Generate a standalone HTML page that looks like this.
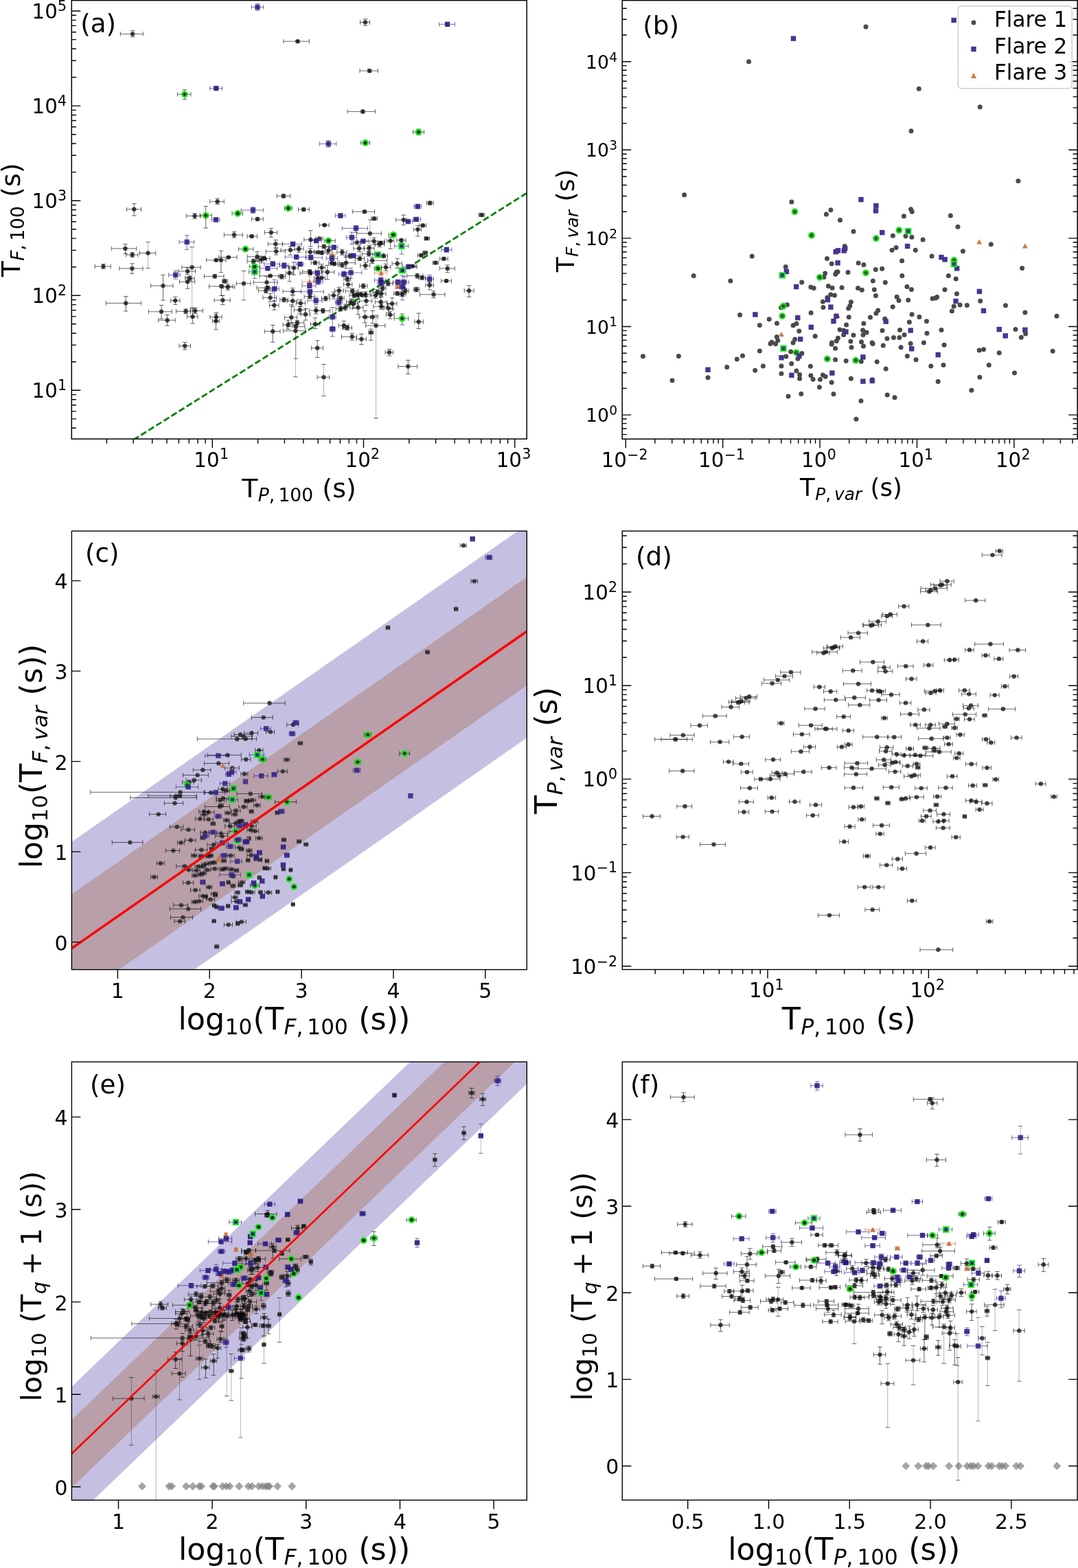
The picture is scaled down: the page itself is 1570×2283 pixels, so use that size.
<!DOCTYPE html>
<html lang="en"><head><meta charset="utf-8"><title>Flare timescale correlations</title>
<style>html,body{margin:0;padding:0;background:#fff}body{width:1570px;height:2283px;overflow:hidden}svg{display:block}text{font-family:'DejaVu Sans', 'Liberation Sans', sans-serif;fill:#000}</style>
</head><body>
<svg width="1570" height="2283" viewBox="0 0 1570 2283" role="img" aria-label="Six scatter panels of flare timescales">
<rect width="1570" height="2283" fill="#fff"/>
<defs><clipPath id="cpa"><rect x="104.3" y="0.6" width="662.9" height="638.5"/></clipPath><clipPath id="cpb"><rect x="906.2" y="0.6" width="663" height="638.6"/></clipPath><clipPath id="cpc"><rect x="104.4" y="773.2" width="662.9" height="638.5"/></clipPath><clipPath id="cpd"><rect x="906.3" y="773.2" width="662.8" height="638.4"/></clipPath><clipPath id="cpe"><rect x="104.4" y="1546.1" width="662.9" height="638.1"/></clipPath><clipPath id="cpf"><rect x="906.3" y="1546.1" width="662.8" height="638"/></clipPath></defs>
<g clip-path="url(#cpc)"><polygon points="104.4,1225.8 767.3,764 767.3,1074.3 104.4,1536.1" fill="#c5c0e1"/>
<polygon points="104.4,1302 767.3,840.3 767.3,998.1 104.4,1459.8" fill="#b89fa9"/></g>
<g clip-path="url(#cpe)"><polygon points="104.4,2019 767.3,1382.8 767.3,1578 104.4,2214.2" fill="#c5c0e1"/>
<polygon points="104.4,2067.2 767.3,1431 767.3,1529.8 104.4,2166" fill="#b89fa9"/></g>
<g clip-path="url(#cpa)"><line x1="194.2" y1="640.5" x2="793.7" y2="264.5" stroke="#008000" stroke-width="2.8" stroke-dasharray="9.1 3.98"/></g>
<g clip-path="url(#cpa)"><g fill="#383838" fill-opacity="0.9"><circle cx="193.1" cy="49.4" r="3.2"/><circle cx="433.5" cy="60.2" r="3.2"/><circle cx="268.9" cy="137.3" r="2.9"/><circle cx="412.9" cy="285.4" r="3.2"/><circle cx="316.6" cy="293.4" r="3.2"/><circle cx="195.3" cy="304.7" r="3.2"/><circle cx="419.9" cy="303.2" r="2.9"/><circle cx="346.2" cy="310.8" r="2.9"/><circle cx="299.7" cy="313.8" r="2.9"/><circle cx="283.6" cy="314.4" r="3.2"/><circle cx="375" cy="319" r="3.2"/><circle cx="532" cy="32.5" r="3.2"/><circle cx="538.1" cy="103.1" r="3.2"/><circle cx="528.4" cy="162.4" r="3.2"/><circle cx="609.6" cy="192.3" r="2.9"/><circle cx="532" cy="207.9" r="2.9"/><circle cx="626.2" cy="295.6" r="3.2"/><circle cx="442.2" cy="304.9" r="3.2"/><circle cx="531" cy="308.2" r="3.2"/><circle cx="701.4" cy="312.9" r="3.2"/><circle cx="545" cy="318.3" r="3.2"/><circle cx="587.7" cy="320.1" r="3.2"/><circle cx="182.5" cy="361.9" r="3.2"/><circle cx="192.7" cy="371" r="3.2"/><circle cx="215.6" cy="368.5" r="3.2"/><circle cx="150.5" cy="387.9" r="3.2"/><circle cx="192.4" cy="390.9" r="3.2"/><circle cx="341" cy="342" r="3.2"/><circle cx="332.7" cy="374.6" r="3.2"/><circle cx="314.8" cy="378.8" r="3.2"/><circle cx="321.9" cy="378.8" r="3.2"/><circle cx="279.7" cy="389.2" r="3.2"/><circle cx="273.1" cy="394.9" r="3.2"/><circle cx="276.4" cy="405.3" r="3.2"/><circle cx="273.1" cy="410.3" r="3.2"/><circle cx="237.5" cy="416.1" r="3.2"/><circle cx="312.8" cy="402.3" r="3.2"/><circle cx="327.2" cy="409.4" r="3.2"/><circle cx="322.4" cy="416.9" r="3.2"/><circle cx="331.8" cy="418" r="3.2"/><circle cx="355" cy="412.7" r="3.2"/><circle cx="255.3" cy="437.6" r="3.2"/><circle cx="183.3" cy="441.4" r="3.2"/><circle cx="324.4" cy="437.1" r="3.2"/><circle cx="235" cy="453.8" r="3.2"/><circle cx="270.6" cy="453.3" r="3.2"/><circle cx="284.2" cy="452.5" r="3.2"/><circle cx="280.5" cy="461.1" r="3.2"/><circle cx="243.6" cy="466.2" r="3.2"/><circle cx="315" cy="461.6" r="3.2"/><circle cx="314.5" cy="467.4" r="3.2"/><circle cx="472.6" cy="327.8" r="3.2"/><circle cx="615.9" cy="328.3" r="3.2"/><circle cx="608.4" cy="334.1" r="3.2"/><circle cx="394.8" cy="338.5" r="3.2"/><circle cx="538.9" cy="339.9" r="3.2"/><circle cx="572.8" cy="341.9" r="2.9"/><circle cx="366.6" cy="344" r="3.2"/><circle cx="452.4" cy="349" r="3.2"/><circle cx="465.2" cy="347.3" r="3.2"/><circle cx="478.4" cy="350.6" r="2.9"/><circle cx="568.7" cy="350.6" r="3.2"/><circle cx="584.4" cy="349.8" r="3.2"/><circle cx="519.8" cy="353.1" r="3.2"/><circle cx="544.6" cy="351.1" r="3.2"/><circle cx="554.6" cy="353.9" r="3.2"/><circle cx="552.9" cy="355.6" r="3.2"/><circle cx="401.4" cy="355.3" r="3.2"/><circle cx="471.8" cy="358.9" r="3.2"/><circle cx="523.1" cy="361.7" r="3.2"/><circle cx="537.5" cy="361.4" r="3.2"/><circle cx="357.5" cy="362.7" r="2.9"/><circle cx="435.3" cy="362.2" r="3.2"/><circle cx="422.9" cy="363.9" r="3.2"/><circle cx="402.2" cy="366" r="3.2"/><circle cx="451.9" cy="366.9" r="3.2"/><circle cx="463.5" cy="367.2" r="3.2"/><circle cx="468.5" cy="368" r="3.2"/><circle cx="478.4" cy="364.7" r="3.2"/><circle cx="498.3" cy="367.2" r="3.2"/><circle cx="537.2" cy="369.7" r="3.2"/><circle cx="558.7" cy="372.7" r="3.2"/><circle cx="613.4" cy="371.7" r="3.2"/><circle cx="619.2" cy="368" r="3.2"/><circle cx="509.9" cy="372.7" r="3.2"/><circle cx="374.6" cy="373.8" r="3.2"/><circle cx="523.9" cy="376.6" r="3.2"/><circle cx="380.7" cy="378" r="3.2"/><circle cx="384.8" cy="376.3" r="3.2"/><circle cx="542.2" cy="379.3" r="3.2"/><circle cx="369.1" cy="380.4" r="3.2"/><circle cx="459" cy="382.6" r="3.2"/><circle cx="504.1" cy="382.6" r="3.2"/><circle cx="486.7" cy="384.3" r="3.2"/><circle cx="483.4" cy="382.9" r="3.2"/><circle cx="578.6" cy="383.8" r="3.2"/><circle cx="498.3" cy="385.9" r="3.2"/><circle cx="532.2" cy="386.7" r="3.2"/><circle cx="370.8" cy="388.2" r="2.9"/><circle cx="601" cy="387.6" r="3.2"/><circle cx="468.5" cy="389.6" r="3.2"/><circle cx="427.9" cy="390.1" r="3.2"/><circle cx="562" cy="389.2" r="3.2"/><circle cx="550.4" cy="390.9" r="2.9"/><circle cx="451.1" cy="395.3" r="3.2"/><circle cx="451.9" cy="397.8" r="3.2"/><circle cx="476.8" cy="396.2" r="3.2"/><circle cx="421.6" cy="397.5" r="3.2"/><circle cx="393.6" cy="401.6" r="3.2"/><circle cx="607.6" cy="401.6" r="3.2"/><circle cx="410.5" cy="402.8" r="3.2"/><circle cx="614.7" cy="404.5" r="3.2"/><circle cx="505.7" cy="406.1" r="3.2"/><circle cx="462.7" cy="405.3" r="3.2"/><circle cx="468.5" cy="404.5" r="3.2"/><circle cx="388.5" cy="411.1" r="3.2"/><circle cx="565.3" cy="412.7" r="3.2"/><circle cx="507.1" cy="414.1" r="3.2"/><circle cx="529.2" cy="416.5" r="3.2"/><circle cx="389.8" cy="419" r="3.2"/><circle cx="557.1" cy="419.4" r="3.2"/><circle cx="606.4" cy="421.5" r="3.2"/><circle cx="387.3" cy="423.2" r="3.2"/><circle cx="493.8" cy="423.2" r="3.2"/><circle cx="513.2" cy="423.8" r="3.2"/><circle cx="426.2" cy="424.3" r="3.2"/><circle cx="549.6" cy="425.2" r="3.2"/><circle cx="590.2" cy="423.5" r="3.2"/><circle cx="578.6" cy="427.3" r="3.2"/><circle cx="525.6" cy="428.5" r="3.2"/><circle cx="532.2" cy="428.8" r="3.2"/><circle cx="520.6" cy="429.3" r="3.2"/><circle cx="515.7" cy="430.1" r="3.2"/><circle cx="547.1" cy="430.1" r="3.2"/><circle cx="555.4" cy="427.6" r="3.2"/><circle cx="586" cy="428.5" r="3.2"/><circle cx="485.9" cy="430.1" r="3.2"/><circle cx="451.4" cy="431.8" r="3.2"/><circle cx="393.6" cy="433.4" r="3.2"/><circle cx="474.3" cy="434.6" r="3.2"/><circle cx="496.1" cy="434.3" r="3.2"/><circle cx="413.5" cy="436.4" r="3.2"/><circle cx="426.2" cy="438.1" r="3.2"/><circle cx="533.4" cy="438.1" r="3.2"/><circle cx="511.2" cy="439.6" r="3.2"/><circle cx="514.8" cy="442.5" r="3.2"/><circle cx="554.6" cy="439.6" r="3.2"/><circle cx="437.8" cy="441.4" r="3.2"/><circle cx="571.1" cy="442.1" r="3.2"/><circle cx="399.4" cy="444.5" r="3.2"/><circle cx="555.4" cy="446.2" r="3.2"/><circle cx="521.5" cy="447.8" r="3.2"/><circle cx="503.2" cy="447.2" r="3.2"/><circle cx="495.8" cy="449.7" r="3.2"/><circle cx="565.7" cy="448.7" r="3.2"/><circle cx="436.7" cy="451.3" r="3.2"/><circle cx="460.2" cy="452" r="3.2"/><circle cx="470.5" cy="452.5" r="3.2"/><circle cx="445" cy="457.8" r="3.2"/><circle cx="568.3" cy="458.3" r="3.2"/><circle cx="424.3" cy="462.1" r="3.2"/><circle cx="531.4" cy="461.6" r="3.2"/><circle cx="542.7" cy="461.6" r="3.2"/><circle cx="585.7" cy="463.7" r="2.9"/><circle cx="609.7" cy="468.5" r="3.2"/><circle cx="432.9" cy="469.9" r="3.2"/><circle cx="459" cy="472" r="3.2"/><circle cx="419.6" cy="472.9" r="3.2"/><circle cx="500.8" cy="474" r="3.2"/><circle cx="547.6" cy="474" r="3.2"/><circle cx="430.9" cy="475.7" r="3.2"/><circle cx="505.7" cy="477.3" r="3.2"/><circle cx="621.3" cy="347.3" r="3.2"/><circle cx="646.4" cy="376.8" r="3.2"/><circle cx="634.3" cy="382.6" r="3.2"/><circle cx="651.7" cy="390.9" r="3.2"/><circle cx="650" cy="408.9" r="3.2"/><circle cx="625.7" cy="415.2" r="3.2"/><circle cx="683.1" cy="423.2" r="3.2"/><circle cx="631.5" cy="428.8" r="3.2"/><circle cx="269.2" cy="503.7" r="3.2"/><circle cx="397.3" cy="482.5" r="3.2"/><circle cx="430.4" cy="481.7" r="3.2"/><circle cx="512.7" cy="490.3" r="3.2"/><circle cx="526.4" cy="493.7" r="3.2"/><circle cx="540.2" cy="484.1" r="3.2"/><circle cx="462.2" cy="506.8" r="3.2"/><circle cx="567" cy="513.1" r="3.2"/><circle cx="594.3" cy="533.5" r="3.2"/><circle cx="471.5" cy="549.2" r="3.2"/></g><path d="M175.4 49.4H208.3M175.4 46.1v6.6M208.3 46.1v6.6M193.1 44.6V53.7M189.8 44.6h6.6M189.8 53.7h6.6M412.9 60.2H450.4M412.9 56.9v6.6M450.4 56.9v6.6M433.5 58.5V61.9M430.2 58.5h6.6M430.2 61.9h6.6M258.5 137.3H278M258.5 134v6.6M278 134v6.6M268.9 130.8V144.4M265.6 130.8h6.6M265.6 144.4h6.6M403.2 285.4H422.7M403.2 282.1v6.6M422.7 282.1v6.6M412.9 282.8V288M409.6 282.8h6.6M409.6 288h6.6M305.7 293.4H326.3M305.7 290.1v6.6M326.3 290.1v6.6M316.6 289.1V297.3M313.3 289.1h6.6M313.3 297.3h6.6M184.5 304.7H205.5M184.5 301.4v6.6M205.5 301.4v6.6M195.3 296.5V314M192 296.5h6.6M192 314h6.6M414.4 303.2H425.3M414.4 299.9v6.6M425.3 299.9v6.6M419.9 301.5V304.9M416.6 301.5h6.6M416.6 304.9h6.6M338 310.8H353.4M338 307.5v6.6M353.4 307.5v6.6M346.2 308.6V312.9M342.9 308.6h6.6M342.9 312.9h6.6M291 313.8H308.3M291 310.5v6.6M308.3 310.5v6.6M299.7 300.4V332M296.4 300.4h6.6M296.4 332h6.6M271.3 314.4H292.3M271.3 311.1v6.6M292.3 311.1v6.6M283.6 310.6V318.3M280.3 310.6h6.6M280.3 318.3h6.6M366.4 319H383.3M366.4 315.7v6.6M383.3 315.7v6.6M375 316.8V321.2M371.7 316.8h6.6M371.7 321.2h6.6M524.5 32.5H538.5M524.5 29.2v6.6M538.5 29.2v6.6M532 27.7V37.2M528.7 27.7h6.6M528.7 37.2h6.6M524 103.1H550.4M524 99.8v6.6M550.4 99.8v6.6M538.1 100.9V105.2M534.8 100.9h6.6M534.8 105.2h6.6M506.1 162.4H546.5M506.1 159.1v6.6M546.5 159.1v6.6M528.4 160.3V164.6M525.1 160.3h6.6M525.1 164.6h6.6M601.6 192.3H617.6M601.6 189v6.6M617.6 189v6.6M609.6 188V196.6M606.3 188h6.6M606.3 196.6h6.6M525.1 207.9H538.5M525.1 204.6v6.6M538.5 204.6v6.6M532 204.7V211.1M528.7 204.7h6.6M528.7 211.1h6.6M621.3 295.6H631.2M621.3 292.3v6.6M631.2 292.3v6.6M626.2 293V298.2M622.9 293h6.6M622.9 298.2h6.6M434.6 304.9H450.4M434.6 301.6v6.6M450.4 301.6v6.6M442.2 302.8V307.1M438.9 302.8h6.6M438.9 307.1h6.6M513.6 308.2H545.5M513.6 304.9v6.6M545.5 304.9v6.6M531 306.4V309.9M527.7 306.4h6.6M527.7 309.9h6.6M697.5 312.9H705.3M697.5 309.6v6.6M705.3 309.6v6.6M701.4 310.8V315.1M698.1 310.8h6.6M698.1 315.1h6.6M540.7 318.3H549.4M540.7 315v6.6M549.4 315v6.6M545 316.2V320.5M541.7 316.2h6.6M541.7 320.5h6.6M576.4 320.1H591.6M576.4 316.8v6.6M591.6 316.8v6.6M587.7 313.1V327.7M584.4 313.1h6.6M584.4 327.7h6.6M162.6 361.9H198.7M162.6 358.6v6.6M198.7 358.6v6.6M182.5 355.6V369.4M179.2 355.6h6.6M179.2 369.4h6.6M183.6 371H201M183.6 367.7v6.6M201 367.7v6.6M192.7 367.7V374.3M189.4 367.7h6.6M189.4 374.3h6.6M203.5 368.5H226.7M203.5 365.2v6.6M226.7 365.2v6.6M212.3 352.3h6.6M212.3 390.5h6.6M138.1 387.9H161.3M138.1 384.6v6.6M161.3 384.6v6.6M150.5 384.6V391.2M147.2 384.6h6.6M147.2 391.2h6.6M173.9 390.9H208.1M173.9 387.6v6.6M208.1 387.6v6.6M192.4 383.8V398.3M189.1 383.8h6.6M189.1 398.3h6.6M326.4 342H353.4M326.4 338.7v6.6M353.4 338.7v6.6M341 337.4V346.2M337.7 337.4h6.6M337.7 346.2h6.6M318.6 374.6H345.1M318.6 371.3v6.6M345.1 371.3v6.6M332.7 373.3V376M329.4 373.3h6.6M329.4 376h6.6M300.7 378.8H328.9M300.7 375.5v6.6M328.9 375.5v6.6M314.8 377.5V380.1M311.5 377.5h6.6M311.5 380.1h6.6M321.9 365.2V396.7M318.6 365.2h6.6M318.6 396.7h6.6M264.8 389.2H292.1M264.8 385.9v6.6M292.1 385.9v6.6M276.4 359.7h6.6M276.4 448.3h6.6M259.8 394.9H284.6M259.8 391.6v6.6M284.6 391.6v6.6M273.1 389.9V399.8M269.8 389.9h6.6M269.8 399.8h6.6M269.7 405.3H283M269.7 402v6.6M283 402v6.6M276.4 402V408.6M273.1 402h6.6M273.1 408.6h6.6M261.5 410.3H283.8M261.5 407v6.6M283.8 407v6.6M273.1 403.6V420.2M269.8 403.6h6.6M269.8 420.2h6.6M219.6 416.1H252M219.6 412.8v6.6M252 412.8v6.6M237.5 400.3V437.2M234.2 400.3h6.6M234.2 437.2h6.6M297.4 402.3H326M297.4 399v6.6M326 399v6.6M312.8 399.8V404.8M309.5 399.8h6.6M309.5 404.8h6.6M323.9 409.4H331.3M323.9 406.1v6.6M331.3 406.1v6.6M327.2 406.9V411.9M323.9 406.9h6.6M323.9 411.9h6.6M304.5 416.9H339M304.5 413.6v6.6M339 413.6v6.6M322.4 414.4V430.1M319.1 414.4h6.6M319.1 430.1h6.6M325.2 418H341.8M325.2 414.7v6.6M341.8 414.7v6.6M331.8 413.9V422.2M328.5 413.9h6.6M328.5 422.2h6.6M344.3 412.7H365M344.3 409.4v6.6M365 409.4v6.6M351.7 394.5h6.6M351.7 436.8h6.6M248.7 437.6H262M248.7 434.3v6.6M262 434.3v6.6M255.3 432.3V443.4M252 432.3h6.6M252 443.4h6.6M154.3 441.4H205.7M154.3 438.1v6.6M205.7 438.1v6.6M183.3 431.5V453M180 431.5h6.6M180 453h6.6M312 437.1H335.2M312 433.8v6.6M335.2 433.8v6.6M324.4 430.5V443.7M321.1 430.5h6.6M321.1 443.7h6.6M216.4 453.8H250.4M216.4 450.5v6.6M250.4 450.5v6.6M235 444.4V464.1M231.7 444.4h6.6M231.7 464.1h6.6M256.5 453.3H277.2M256.5 450v6.6M277.2 450v6.6M270.6 450V456.6M267.3 450h6.6M267.3 456.6h6.6M277.5 452.5H295.4M277.5 449.2v6.6M295.4 449.2v6.6M284.2 448.3V456.6M280.9 448.3h6.6M280.9 456.6h6.6M272.6 461.1H288M272.6 457.8v6.6M288 457.8v6.6M280.5 448.7V471M277.2 448.7h6.6M277.2 471h6.6M230.7 466.2H255.2M230.7 462.9v6.6M255.2 462.9v6.6M243.6 458.4V474.2M240.3 458.4h6.6M240.3 474.2h6.6M305.8 461.6H323.2M305.8 458.3v6.6M323.2 458.3v6.6M315 455V467.4M311.7 455h6.6M311.7 467.4h6.6M309.5 467.4H319.4M309.5 464.1v6.6M319.4 464.1v6.6M314.5 457.5V479.8M311.2 457.5h6.6M311.2 479.8h6.6M465.2 327.8H479.2M465.2 324.5v6.6M479.2 324.5v6.6M472.6 326.5V329.1M469.3 326.5h6.6M469.3 329.1h6.6M610.9 328.3H620.8M610.9 325v6.6M620.8 325v6.6M615.9 326.6V329.9M612.6 326.6h6.6M612.6 329.9h6.6M602.6 334.1H613.4M602.6 330.8v6.6M613.4 330.8v6.6M608.4 328.3V344M605.1 328.3h6.6M605.1 344h6.6M385.3 338.5H403.6M385.3 335.2v6.6M403.6 335.2v6.6M394.8 332.4V345.2M391.5 332.4h6.6M391.5 345.2h6.6M519 339.9H555.4M519 336.6v6.6M555.4 336.6v6.6M535.6 320h6.6M535.6 359.7h6.6M566.2 341.9H576.9M566.2 338.6v6.6M576.9 338.6v6.6M572.8 340.5V343.2M569.5 340.5h6.6M569.5 343.2h6.6M360 344H374.6M360 340.7v6.6M374.6 340.7v6.6M366.6 342.7V345.3M363.3 342.7h6.6M363.3 345.3h6.6M442.8 349H460.7M442.8 345.7v6.6M460.7 345.7v6.6M452.4 335.7V358.9M449.1 335.7h6.6M449.1 358.9h6.6M460.2 347.3H470.1M460.2 344v6.6M470.1 344v6.6M472.6 350.6H488.3M472.6 347.3v6.6M488.3 347.3v6.6M478.4 349.3V352M475.1 349.3h6.6M475.1 352h6.6M563.7 350.6H573.6M563.7 347.3v6.6M573.6 347.3v6.6M568.7 345.7V362.2M565.4 345.7h6.6M565.4 362.2h6.6M577.8 349.8H591M577.8 346.5v6.6M591 346.5v6.6M584.4 348.2V351.5M581.1 348.2h6.6M581.1 351.5h6.6M514.8 353.1H524.8M514.8 349.8v6.6M524.8 349.8v6.6M529.7 351.1H560.4M529.7 347.8v6.6M560.4 347.8v6.6M544.6 346.2V356.1M541.3 346.2h6.6M541.3 356.1h6.6M549.6 353.9H559.6M549.6 350.6v6.6M559.6 350.6v6.6M554.6 352.3V355.6M551.3 352.3h6.6M551.3 355.6h6.6M546.3 355.6H559.6M546.3 352.3v6.6M559.6 352.3v6.6M552.9 351.5V359.7M549.6 351.5h6.6M549.6 359.7h6.6M390.3 355.3H411.3M390.3 352v6.6M411.3 352v6.6M401.4 349.5V361.1M398.1 349.5h6.6M398.1 361.1h6.6M463.5 358.9H479.2M463.5 355.6v6.6M479.2 355.6v6.6M471.8 356.4V361.4M468.5 356.4h6.6M468.5 361.4h6.6M514.8 361.7H530.6M514.8 358.4v6.6M530.6 358.4v6.6M523.1 356.8V366.7M519.8 356.8h6.6M519.8 366.7h6.6M530.1 361.4H545M530.1 358.1v6.6M545 358.1v6.6M537.5 357.3V365.5M534.2 357.3h6.6M534.2 365.5h6.6M347.6 362.7H369.1M347.6 359.4v6.6M369.1 359.4v6.6M357.5 361.4V364.1M354.2 361.4h6.6M354.2 364.1h6.6M428.7 362.2H442M428.7 358.9v6.6M442 358.9v6.6M435.3 358.1V367.2M432 358.1h6.6M432 367.2h6.6M408.9 363.9H435.3M408.9 360.6v6.6M435.3 360.6v6.6M422.9 358.9V371.3M419.6 358.9h6.6M419.6 371.3h6.6M387.3 366H415.5M387.3 362.7v6.6M415.5 362.7v6.6M402.2 361.1V371M398.9 361.1h6.6M398.9 371h6.6M445.3 366.9H458.5M445.3 363.6v6.6M458.5 363.6v6.6M451.9 361.9V371.8M448.6 361.9h6.6M448.6 371.8h6.6M456.9 367.2H470.1M456.9 363.9v6.6M470.1 363.9v6.6M460.2 368H476.8M460.2 364.7v6.6M476.8 364.7v6.6M468.5 365.5V370.5M465.2 365.5h6.6M465.2 370.5h6.6M473.4 364.7H483.4M473.4 361.4v6.6M483.4 361.4v6.6M478.4 359.7V369.7M475.1 359.7h6.6M475.1 369.7h6.6M490.8 367.2H504.9M490.8 363.9v6.6M504.9 363.9v6.6M498.3 363.1V371.3M495 363.1h6.6M495 371.3h6.6M527.3 369.7H545.5M527.3 366.4v6.6M545.5 366.4v6.6M537.2 366.4V373M533.9 366.4h6.6M533.9 373h6.6M553.8 372.7H564.5M553.8 369.4v6.6M564.5 369.4v6.6M558.7 370.2V375.1M555.4 370.2h6.6M555.4 375.1h6.6M608.4 371.7H618.3M608.4 368.4v6.6M618.3 368.4v6.6M613.4 370V373.3M610.1 370h6.6M610.1 373.3h6.6M615.9 368H622.5M615.9 364.7v6.6M622.5 364.7v6.6M503.2 372.7H516.5M503.2 369.4v6.6M516.5 369.4v6.6M509.9 369.4V376M506.6 369.4h6.6M506.6 376h6.6M360.5 373.8H386.2M360.5 370.5v6.6M386.2 370.5v6.6M374.6 366.4V380.4M371.3 366.4h6.6M371.3 380.4h6.6M517.3 376.6H530.6M517.3 373.3v6.6M530.6 373.3v6.6M523.9 374.2V379.1M520.6 374.2h6.6M520.6 379.1h6.6M372.4 378H388.2M372.4 374.7v6.6M388.2 374.7v6.6M380.7 373V382.9M377.4 373h6.6M377.4 382.9h6.6M376.6 376.3H393.1M376.6 373v6.6M393.1 373v6.6M384.8 374.6V378M381.5 374.6h6.6M381.5 378h6.6M535.5 379.3H563.7M535.5 376v6.6M563.7 376v6.6M542.2 375.1V383.4M538.9 375.1h6.6M538.9 383.4h6.6M360 380.4H377.4M360 377.1v6.6M377.4 377.1v6.6M369.1 377.1V383.8M365.8 377.1h6.6M365.8 383.8h6.6M453.2 382.6H464.8M453.2 379.3v6.6M464.8 379.3v6.6M459 380.1V385.1M455.7 380.1h6.6M455.7 385.1h6.6M494.1 382.6H517.3M494.1 379.3v6.6M517.3 379.3v6.6M504.1 374.3V390.9M500.8 374.3h6.6M500.8 390.9h6.6M481.7 384.3H491.7M481.7 381v6.6M491.7 381v6.6M486.7 382.6V385.9M483.4 382.6h6.6M483.4 385.9h6.6M478.4 382.9H488.3M478.4 379.6v6.6M488.3 379.6v6.6M571.1 383.8H585.2M571.1 380.5v6.6M585.2 380.5v6.6M578.6 376.3V390.4M575.3 376.3h6.6M575.3 390.4h6.6M493.3 385.9H503.2M493.3 382.6v6.6M503.2 382.6v6.6M498.3 382.6V389.2M495 382.6h6.6M495 389.2h6.6M524.8 386.7H538.9M524.8 383.4v6.6M538.9 383.4v6.6M532.2 381.8V391.7M528.9 381.8h6.6M528.9 391.7h6.6M363.3 388.2H378.2M363.3 384.9v6.6M378.2 384.9v6.6M370.8 386.6V389.9M367.5 386.6h6.6M367.5 389.9h6.6M596 387.6H605.9M596 384.3v6.6M605.9 384.3v6.6M601 385.9V389.2M597.7 385.9h6.6M597.7 389.2h6.6M463.5 389.6H473.4M463.5 386.3v6.6M473.4 386.3v6.6M468.5 384.6V394.5M465.2 384.6h6.6M465.2 394.5h6.6M420.4 390.1H434.5M420.4 386.8v6.6M434.5 386.8v6.6M427.9 381.8V400M424.6 381.8h6.6M424.6 400h6.6M555.4 389.2H568.7M555.4 385.9v6.6M568.7 385.9v6.6M562 384.3V394.2M558.7 384.3h6.6M558.7 394.2h6.6M545.5 390.9H555.4M545.5 387.6v6.6M555.4 387.6v6.6M550.4 389.2V392.5M547.1 389.2h6.6M547.1 392.5h6.6M440.3 395.3H459.4M440.3 392v6.6M459.4 392v6.6M451.1 392.9V397.8M447.8 392.9h6.6M447.8 397.8h6.6M437 397.8H461.8M437 394.5v6.6M461.8 394.5v6.6M451.9 396.2V399.5M448.6 396.2h6.6M448.6 399.5h6.6M468.5 396.2H486.7M468.5 392.9v6.6M486.7 392.9v6.6M476.8 386.2V406.9M473.5 386.2h6.6M473.5 406.9h6.6M416.6 397.5H426.6M416.6 394.2v6.6M426.6 394.2v6.6M421.6 387.6V409.9M418.3 387.6h6.6M418.3 409.9h6.6M377.9 401.6H407.7M377.9 398.3v6.6M407.7 398.3v6.6M393.6 400V403.3M390.3 400h6.6M390.3 403.3h6.6M592.7 401.6H615.9M592.7 398.3v6.6M615.9 398.3v6.6M607.6 398.3V405M604.3 398.3h6.6M604.3 405h6.6M405.5 402.8H415.5M405.5 399.5v6.6M415.5 399.5v6.6M410.5 399.5V406.1M407.2 399.5h6.6M407.2 406.1h6.6M609.7 404.5H619.7M609.7 401.2v6.6M619.7 401.2v6.6M614.7 402V406.9M611.4 402h6.6M611.4 406.9h6.6M500.8 406.1H510.7M500.8 402.8v6.6M510.7 402.8v6.6M505.7 402.8V409.4M502.4 402.8h6.6M502.4 409.4h6.6M457.7 405.3H467.6M457.7 402v6.6M467.6 402v6.6M462.7 402V408.6M459.4 402h6.6M459.4 408.6h6.6M463.5 404.5H473.4M463.5 401.2v6.6M473.4 401.2v6.6M369.4 411.1H404.2M369.4 407.8v6.6M404.2 407.8v6.6M388.5 402.8V417.7M385.2 402.8h6.6M385.2 417.7h6.6M558.7 412.7H572M558.7 409.4v6.6M572 409.4v6.6M565.3 409.4V416.1M562 409.4h6.6M562 416.1h6.6M500.4 414.1H512.9M500.4 410.8v6.6M512.9 410.8v6.6M507.1 409.1V419M503.8 409.1h6.6M503.8 419h6.6M523.5 416.5H535M523.5 413.2v6.6M535 413.2v6.6M529.2 413.2V419.9M525.9 413.2h6.6M525.9 419.9h6.6M374.1 419H403.1M374.1 415.7v6.6M403.1 415.7v6.6M389.8 416.5V421.5M386.5 416.5h6.6M386.5 421.5h6.6M552.1 419.4H562M552.1 416.1v6.6M562 416.1v6.6M557.1 416.1V422.7M553.8 416.1h6.6M553.8 422.7h6.6M602.3 421.5H610.6M602.3 418.2v6.6M610.6 418.2v6.6M606.4 418.2V424.8M603.1 418.2h6.6M603.1 424.8h6.6M376.6 423.2H396.4M376.6 419.9v6.6M396.4 419.9v6.6M387.3 419.9V426.5M384 419.9h6.6M384 426.5h6.6M487.2 423.2H500.4M487.2 419.9v6.6M500.4 419.9v6.6M493.8 418.2V428.1M490.5 418.2h6.6M490.5 428.1h6.6M503.2 423.8H521.5M503.2 420.5v6.6M521.5 420.5v6.6M513.2 420.5V427.1M509.9 420.5h6.6M509.9 427.1h6.6M412.2 424.3H438.7M412.2 421v6.6M438.7 421v6.6M426.2 419.4V429.3M422.9 419.4h6.6M422.9 429.3h6.6M543 425.2H556.2M543 421.9v6.6M556.2 421.9v6.6M549.6 421.8V428.5M546.3 421.8h6.6M546.3 428.5h6.6M585.2 423.5H595.2M585.2 420.2v6.6M595.2 420.2v6.6M590.2 420.2V426.8M586.9 420.2h6.6M586.9 426.8h6.6M573.6 427.3H583.6M573.6 424v6.6M583.6 424v6.6M578.6 424.8V429.8M575.3 424.8h6.6M575.3 429.8h6.6M519 428.5H532.2M519 425.2v6.6M532.2 425.2v6.6M525.6 425.2V431.8M522.3 425.2h6.6M522.3 431.8h6.6M525.6 428.8H538.9M525.6 425.5v6.6M538.9 425.5v6.6M532.2 424.7V432.9M528.9 424.7h6.6M528.9 432.9h6.6M514 429.3H527.3M514 426v6.6M527.3 426v6.6M520.6 426V432.6M517.3 426h6.6M517.3 432.6h6.6M509 430.1H522.3M509 426.8v6.6M522.3 426.8v6.6M515.7 426.8V433.4M512.4 426.8h6.6M512.4 433.4h6.6M540.5 430.1H553.8M540.5 426.8v6.6M553.8 426.8v6.6M547.1 426V434.3M543.8 426h6.6M543.8 434.3h6.6M548.8 427.6H562M548.8 424.3v6.6M562 424.3v6.6M555.4 423.5V431.8M552.1 423.5h6.6M552.1 431.8h6.6M581.1 428.5H591M581.1 425.2v6.6M591 425.2v6.6M586 425.2V431.8M582.7 425.2h6.6M582.7 431.8h6.6M479.2 430.1H492.5M479.2 426.8v6.6M492.5 426.8v6.6M485.9 425.2V435.1M482.6 425.2h6.6M482.6 435.1h6.6M443.1 431.8H458M443.1 428.5v6.6M458 428.5v6.6M451.4 428.5V435.1M448.1 428.5h6.6M448.1 435.1h6.6M382.9 433.4H402.7M382.9 430.1v6.6M402.7 430.1v6.6M393.6 427.6V439.2M390.3 427.6h6.6M390.3 439.2h6.6M468.5 434.6H480.1M468.5 431.3v6.6M480.1 431.3v6.6M474.3 431.3V437.9M471 431.3h6.6M471 437.9h6.6M491.2 434.3H501.1M491.2 431v6.6M501.1 431v6.6M496.1 431V437.6M492.8 431h6.6M492.8 437.6h6.6M407.7 436.4H419.3M407.7 433.1v6.6M419.3 433.1v6.6M413.5 433.1V439.7M410.2 433.1h6.6M410.2 439.7h6.6M418 438.1H432.9M418 434.8v6.6M432.9 434.8v6.6M426.2 429.8V446.4M422.9 429.8h6.6M422.9 446.4h6.6M523.5 438.1H541.7M523.5 434.8v6.6M541.7 434.8v6.6M533.4 431.5V444.7M530.1 431.5h6.6M530.1 444.7h6.6M504.6 439.6H517.8M504.6 436.3v6.6M517.8 436.3v6.6M511.2 435.4V443.7M507.9 435.4h6.6M507.9 443.7h6.6M508.2 442.5H521.5M508.2 439.2v6.6M521.5 439.2v6.6M514.8 435.9V449.2M511.5 435.9h6.6M511.5 449.2h6.6M546.3 439.6H562.9M546.3 436.3v6.6M562.9 436.3v6.6M554.6 432.9V446.2M551.3 432.9h6.6M551.3 446.2h6.6M431.2 441.4H444.5M431.2 438.1v6.6M444.5 438.1v6.6M437.8 436.4V446.4M434.5 436.4h6.6M434.5 446.4h6.6M564.5 442.1H577.8M564.5 438.8v6.6M577.8 438.8v6.6M571.1 433.8V450.3M567.8 433.8h6.6M567.8 450.3h6.6M392.5 444.5H406M392.5 441.2v6.6M406 441.2v6.6M399.4 437.9V451.2M396.1 437.9h6.6M396.1 451.2h6.6M543.8 446.2H563.7M543.8 442.9v6.6M563.7 442.9v6.6M555.4 442.1V450.3M552.1 442.1h6.6M552.1 450.3h6.6M513.2 447.8H528.9M513.2 444.5v6.6M528.9 444.5v6.6M521.5 439.6V457.8M518.2 439.6h6.6M518.2 457.8h6.6M496.6 447.2H509.9M496.6 443.9v6.6M509.9 443.9v6.6M503.2 443V451.3M499.9 443h6.6M499.9 451.3h6.6M489.2 449.7H502.4M489.2 446.4v6.6M502.4 446.4v6.6M495.8 446.4V453M492.5 446.4h6.6M492.5 453h6.6M559.1 448.7H572.3M559.1 445.4v6.6M572.3 445.4v6.6M565.7 442.1V455.3M562.4 442.1h6.6M562.4 455.3h6.6M428.4 451.3H445M428.4 448v6.6M445 448v6.6M436.7 446.4V457.1M433.4 446.4h6.6M433.4 457.1h6.6M450.3 452H468.5M450.3 448.7v6.6M468.5 448.7v6.6M460.2 447V457M456.9 447h6.6M456.9 457h6.6M460.5 452.5H480.4M460.5 449.2v6.6M480.4 449.2v6.6M470.5 449.2V455.8M467.2 449.2h6.6M467.2 455.8h6.6M438.3 457.8H451.6M438.3 454.5v6.6M451.6 454.5v6.6M445 449.5V466.1M441.7 449.5h6.6M441.7 466.1h6.6M562.5 458.3H574.1M562.5 455v6.6M574.1 455v6.6M568.3 453.3V464.1M565 453.3h6.6M565 464.1h6.6M414.6 462.1H432.5M414.6 458.8v6.6M432.5 458.8v6.6M424.3 443.9V470.4M421 443.9h6.6M421 470.4h6.6M523.1 461.6H539.7M523.1 458.3v6.6M539.7 458.3v6.6M531.4 452.5V469.9M528.1 452.5h6.6M528.1 469.9h6.6M534.4 461.6H550.1M534.4 458.3v6.6M550.1 458.3v6.6M542.7 452.5V470.7M539.4 452.5h6.6M539.4 470.7h6.6M574.1 463.7H594.8M574.1 460.4v6.6M594.8 460.4v6.6M585.7 457.1V472.9M582.4 457.1h6.6M582.4 472.9h6.6M603.9 468.5H616.4M603.9 465.2v6.6M616.4 465.2v6.6M609.7 456.1V478.5M606.4 456.1h6.6M606.4 478.5h6.6M419.6 469.9H442.8M419.6 466.6v6.6M442.8 466.6v6.6M432.9 466.6V473.2M429.6 466.6h6.6M429.6 473.2h6.6M452.4 472H465.7M452.4 468.7v6.6M465.7 468.7v6.6M459 462.9V478.6M455.7 462.9h6.6M455.7 478.6h6.6M412.2 472.9H426.2M412.2 469.6v6.6M426.2 469.6v6.6M419.6 466.2V479.5M416.3 466.2h6.6M416.3 479.5h6.6M493.3 474H507.4M493.3 470.7v6.6M507.4 470.7v6.6M500.8 467.4V479M497.5 467.4h6.6M497.5 479h6.6M532.7 474H560.9M532.7 470.7v6.6M560.9 470.7v6.6M544.3 459.1h6.6M544.3 608.8h6.6M417.6 475.7H444.1M417.6 472.4v6.6M444.1 472.4v6.6M427.6 472.4h6.6M427.6 522.2h6.6M499.1 477.3H512.4M499.1 474v6.6M512.4 474v6.6M505.7 474V480.6M502.4 474h6.6M502.4 480.6h6.6M618 347.3H625.5M618 344v6.6M625.5 344v6.6M621.3 345.7V349M618 345.7h6.6M618 349h6.6M640.6 376.8H652.2M640.6 373.5v6.6M652.2 373.5v6.6M646.4 375.1V378.5M643.1 375.1h6.6M643.1 378.5h6.6M630.1 382.6H638.4M630.1 379.3v6.6M638.4 379.3v6.6M634.3 380.6V384.6M631 380.6h6.6M631 384.6h6.6M640.4 390.9H662.4M640.4 387.6v6.6M662.4 387.6v6.6M651.7 385.9V396.7M648.4 385.9h6.6M648.4 396.7h6.6M642.5 408.9H657.5M642.5 405.6v6.6M657.5 405.6v6.6M650 407.3V410.6M646.7 407.3h6.6M646.7 410.6h6.6M619.9 415.2H631.5M619.9 411.9v6.6M631.5 411.9v6.6M625.7 410.3V421.8M622.4 410.3h6.6M622.4 421.8h6.6M676.2 423.2H690.1M676.2 419.9v6.6M690.1 419.9v6.6M683.1 415.7V432.3M679.8 415.7h6.6M679.8 432.3h6.6M611.6 428.8H648M611.6 425.5v6.6M648 425.5v6.6M631.5 423.8V433.8M628.2 423.8h6.6M628.2 433.8h6.6M261 503.7H277.5M261 500.4v6.6M277.5 500.4v6.6M269.2 498.4V509M265.9 498.4h6.6M265.9 509h6.6M385.3 482.5H408M385.3 479.2v6.6M408 479.2v6.6M397.3 473.4V498.2M394 473.4h6.6M394 498.2h6.6M412.5 481.7H445.3M412.5 478.4v6.6M445.3 478.4v6.6M427.1 473.4h6.6M427.1 548.7h6.6M497.5 490.3H519.3M497.5 487v6.6M519.3 487v6.6M512.7 485.3V495.2M509.4 485.3h6.6M509.4 495.2h6.6M519 493.7H533.4M519 490.4v6.6M533.4 490.4v6.6M526.4 486.3V501.5M523.1 486.3h6.6M523.1 501.5h6.6M536.9 484.1H543.5M536.9 480.8v6.6M543.5 480.8v6.6M540.2 479.2V495.4M536.9 479.2h6.6M536.9 495.4h6.6M453.6 506.8H470.5M453.6 503.5v6.6M470.5 503.5v6.6M462.2 495.7V520.4M458.9 495.7h6.6M458.9 520.4h6.6M561.2 513.1H572.5M561.2 509.8v6.6M572.5 509.8v6.6M567 508.5V518.1M563.7 508.5h6.6M563.7 518.1h6.6M579.8 533.5H607.6M579.8 530.2v6.6M607.6 530.2v6.6M594.3 524.4V544.3M591 524.4h6.6M591 544.3h6.6M462 549.2H479.7M462 545.9v6.6M479.7 545.9v6.6M468.2 530.5h6.6M468.2 576.5h6.6" stroke="#000" stroke-opacity="0.6" stroke-width="1" fill="none"/><path d="M215.6 352.3V390.5M279.7 359.7V448.3M355 394.5V436.8M538.9 320V359.7M547.6 459.1V608.8M430.9 472.4V522.2M430.4 473.4V548.7M471.5 530.5V576.5" stroke="#000" stroke-opacity="0.3" stroke-width="1" fill="none"/><g fill="none" stroke="#00f000" stroke-width="2.1"><circle cx="268.9" cy="137.3" r="3.8"/><circle cx="419.9" cy="303.2" r="3.8"/><circle cx="346.2" cy="310.8" r="3.8"/><circle cx="299.7" cy="313.8" r="3.8"/><circle cx="609.6" cy="192.3" r="3.8"/><circle cx="532" cy="207.9" r="3.8"/><circle cx="572.8" cy="341.9" r="3.8"/><circle cx="478.4" cy="350.6" r="3.8"/><circle cx="357.5" cy="362.7" r="3.8"/><circle cx="370.8" cy="388.2" r="3.8"/><circle cx="550.4" cy="390.9" r="3.8"/><circle cx="585.7" cy="463.7" r="3.8"/></g><g fill="#cb7039" fill-opacity="0.9"><path d="M484.2 367.4l3.9 7.2h-7.8z"/><path d="M555.1 393.6l3.9 7.2h-7.8z"/><path d="M450.8 406.4l3.9 7.2h-7.8z"/><path d="M578.9 413.5l3.9 7.2h-7.8z"/></g><path d="M480.1 371.3H488.3M480.1 368v6.6M488.3 368v6.6M484.2 368V373M480.9 368h6.6M480.9 373h6.6M545.1 397.5H563.4M545.1 394.2v6.6M563.4 394.2v6.6M555.1 395.8V402.5M551.8 395.8h6.6M551.8 402.5h6.6M440 410.3H459M440 407v6.6M459 407v6.6M450.8 402V411.9M447.5 402h6.6M447.5 411.9h6.6M576.4 417.4H581.4M576.4 414.1v6.6M581.4 414.1v6.6M578.9 415.7V419M575.6 415.7h6.6M575.6 419h6.6" stroke="#c8672e" stroke-opacity="0.6" stroke-width="1" fill="none"/><g fill="#3b2a8a" fill-opacity="0.9"><rect x="371.3" y="6.7" width="7.4" height="7.4"/><rect x="311.1" y="124.9" width="7.4" height="7.4"/><rect x="364.8" y="302.3" width="7.4" height="7.4"/><rect x="310.7" y="316.2" width="7.4" height="7.4"/><rect x="647.9" y="31.6" width="7.4" height="7.4"/><rect x="474.6" y="205.7" width="7.4" height="7.4"/><rect x="604.6" y="296.9" width="7.4" height="7.4"/><rect x="492.2" y="310.3" width="7.4" height="7.4"/><rect x="602.6" y="315.7" width="7.4" height="7.4"/><rect x="268.5" y="348.6" width="7.4" height="7.4"/><rect x="252" y="396.6" width="7.4" height="7.4"/><rect x="590.6" y="318.8" width="7.4" height="7.4"/><rect x="514.8" y="328.7" width="7.4" height="7.4"/><rect x="508.7" y="342" width="7.4" height="7.4"/><rect x="457" y="346.9" width="7.4" height="7.4"/><rect x="525.2" y="347.4" width="7.4" height="7.4"/><rect x="422.9" y="351.6" width="7.4" height="7.4"/><rect x="581.7" y="355.2" width="6.4" height="6.4"/><rect x="482.5" y="356.4" width="7.4" height="7.4"/><rect x="547.2" y="367.6" width="6.4" height="6.4"/><rect x="511.1" y="368.5" width="7.4" height="7.4"/><rect x="428" y="370.5" width="7.4" height="7.4"/><rect x="449" y="371.3" width="7.4" height="7.4"/><rect x="479.7" y="372.6" width="7.4" height="7.4"/><rect x="393.6" y="380.6" width="7.4" height="7.4"/><rect x="433.3" y="380.9" width="7.4" height="7.4"/><rect x="410.1" y="383" width="7.4" height="7.4"/><rect x="591.1" y="384.7" width="7.4" height="7.4"/><rect x="386.1" y="387" width="7.4" height="7.4"/><rect x="582.8" y="390.5" width="6.4" height="6.4"/><rect x="367.6" y="392.6" width="6.4" height="6.4"/><rect x="458.6" y="393.8" width="7.4" height="7.4"/><rect x="507.3" y="393.3" width="7.4" height="7.4"/><rect x="497.1" y="395.5" width="7.4" height="7.4"/><rect x="550.9" y="404.1" width="7.4" height="7.4"/><rect x="459.8" y="406.2" width="7.4" height="7.4"/><rect x="575.7" y="407.1" width="7.4" height="7.4"/><rect x="584.8" y="407.1" width="7.4" height="7.4"/><rect x="551.4" y="408.2" width="7.4" height="7.4"/><rect x="447.1" y="412.4" width="7.4" height="7.4"/><rect x="582.3" y="414" width="7.4" height="7.4"/><rect x="396" y="417" width="7.4" height="7.4"/><rect x="447.7" y="421" width="7.4" height="7.4"/><rect x="456.5" y="434.2" width="7.4" height="7.4"/><rect x="489.6" y="436.4" width="7.4" height="7.4"/><rect x="480.5" y="457.9" width="7.4" height="7.4"/><rect x="646.6" y="359.9" width="7.4" height="7.4"/><rect x="622" y="402.4" width="7.4" height="7.4"/><rect x="480.5" y="475.5" width="7.4" height="7.4"/></g><path d="M366.4 10.4H383.7M366.4 7.1v6.6M383.7 7.1v6.6M375 5.6V15.2M371.7 5.6h6.6M371.7 15.2h6.6M305.7 128.6H323.5M305.7 125.3v6.6M323.5 125.3v6.6M314.8 126.9V130.4M311.5 126.9h6.6M311.5 130.4h6.6M351.2 306H383.7M351.2 302.7v6.6M383.7 302.7v6.6M368.5 301.7V310.3M365.2 301.7h6.6M365.2 310.3h6.6M308.3 319.9H319.8M308.3 316.6v6.6M319.8 316.6v6.6M314.4 317.3V322.5M311.1 317.3h6.6M311.1 322.5h6.6M639.7 35.3H662.4M639.7 32v6.6M662.4 32v6.6M651.6 33.1V37.5M648.3 33.1h6.6M648.3 37.5h6.6M465.3 209.4H489.8M465.3 206.1v6.6M489.8 206.1v6.6M478.3 204.7V214.2M475 204.7h6.6M475 214.2h6.6M602.9 300.6H613.7M602.9 297.3v6.6M613.7 297.3v6.6M608.3 298V303.2M605 298h6.6M605 303.2h6.6M488.3 314H503M488.3 310.7v6.6M503 310.7v6.6M495.9 311.4V316.6M492.6 311.4h6.6M492.6 316.6h6.6M602 319.4H612.8M602 316.1v6.6M612.8 316.1v6.6M606.3 317.3V321.6M603 317.3h6.6M603 321.6h6.6M261.1 352.3H282.7M261.1 349v6.6M282.7 349v6.6M272.2 342.7V363.4M268.9 342.7h6.6M268.9 363.4h6.6M245.7 400.3H262.3M245.7 397v6.6M262.3 397v6.6M255.7 394.5V406.1M252.4 394.5h6.6M252.4 406.1h6.6M587.7 322.5H601M587.7 319.2v6.6M601 319.2v6.6M594.3 320.8V324.1M591 320.8h6.6M591 324.1h6.6M498.3 332.4H535.5M498.3 329.1v6.6M535.5 329.1v6.6M518.5 328.3V338.2M515.2 328.3h6.6M515.2 338.2h6.6M504.4 345.7H519M504.4 342.4v6.6M519 342.4v6.6M512.4 338.2V355.6M509.1 338.2h6.6M509.1 355.6h6.6M452.4 350.6H468.1M452.4 347.3v6.6M468.1 347.3v6.6M460.7 349V352.3M457.4 349h6.6M457.4 352.3h6.6M520.6 351.1H536.4M520.6 347.8v6.6M536.4 347.8v6.6M528.9 349.5V352.8M525.6 349.5h6.6M525.6 352.8h6.6M411.7 355.3H439.5M411.7 352v6.6M439.5 352v6.6M426.6 353.3V357.3M423.3 353.3h6.6M423.3 357.3h6.6M574.6 358.4H594.5M574.6 355.1v6.6M594.5 355.1v6.6M584.9 353.5V370M581.6 353.5h6.6M581.6 370h6.6M480.4 360.1H492M480.4 356.8v6.6M492 356.8v6.6M486.2 357.6V362.6M482.9 357.6h6.6M482.9 362.6h6.6M542.2 370.8H558.7M542.2 367.5v6.6M558.7 367.5v6.6M550.4 369.2V372.5M547.1 369.2h6.6M547.1 372.5h6.6M503.2 372.2H524.8M503.2 368.9v6.6M524.8 368.9v6.6M514.8 369.7V374.6M511.5 369.7h6.6M511.5 374.6h6.6M415.1 374.2H445.8M415.1 370.9v6.6M445.8 370.9v6.6M431.7 371.7V376.6M428.4 371.7h6.6M428.4 376.6h6.6M445.3 375H469.3M445.3 371.7v6.6M469.3 371.7v6.6M452.7 372.5V377.5M449.4 372.5h6.6M449.4 377.5h6.6M475.1 376.3H491.7M475.1 373v6.6M491.7 373v6.6M483.4 371.3V382.9M480.1 371.3h6.6M480.1 382.9h6.6M384.8 384.3H407.2M384.8 381v6.6M407.2 381v6.6M397.3 380.9V387.6M394 380.9h6.6M394 387.6h6.6M431.2 384.6H442M431.2 381.3v6.6M442 381.3v6.6M437 382.1V387.1M433.7 382.1h6.6M433.7 387.1h6.6M407.5 386.7H419.6M407.5 383.4v6.6M419.6 383.4v6.6M413.8 382.6V390.9M410.5 382.6h6.6M410.5 390.9h6.6M586.5 388.4H607.2M586.5 385.1v6.6M607.2 385.1v6.6M594.8 385.9V390.9M591.5 385.9h6.6M591.5 390.9h6.6M378.2 390.7H403.9M378.2 387.4v6.6M403.9 387.4v6.6M389.8 388.2V393.2M386.5 388.2h6.6M386.5 393.2h6.6M581.1 393.7H591M581.1 390.4v6.6M591 390.4v6.6M586 392V395.3M582.7 392h6.6M582.7 395.3h6.6M362.5 395.8H378.7M362.5 392.5v6.6M378.7 392.5v6.6M370.8 389.2V405.5M367.5 389.2h6.6M367.5 405.5h6.6M453.2 397.5H469.8M453.2 394.2v6.6M469.8 394.2v6.6M462.3 394.2V400.8M459 394.2h6.6M459 400.8h6.6M501.1 397H526.8M501.1 393.7v6.6M526.8 393.7v6.6M511 390.4V405.3M507.7 390.4h6.6M507.7 405.3h6.6M493.3 399.2H505.7M493.3 395.9v6.6M505.7 395.9v6.6M500.8 395.8V402.5M497.5 395.8h6.6M497.5 402.5h6.6M545.5 407.8H562M545.5 404.5v6.6M562 404.5v6.6M554.6 404.5V411.1M551.3 404.5h6.6M551.3 411.1h6.6M456.9 409.9H470.1M456.9 406.6v6.6M470.1 406.6v6.6M463.5 405.8V414.1M460.2 405.8h6.6M460.2 414.1h6.6M572.8 410.8H584.4M572.8 407.5v6.6M584.4 407.5v6.6M579.4 407.4V414.1M576.1 407.4h6.6M576.1 414.1h6.6M583.6 410.8H595.2M583.6 407.5v6.6M595.2 407.5v6.6M588.5 402.5V419M585.2 402.5h6.6M585.2 419h6.6M550.1 411.9H560M550.1 408.6v6.6M560 408.6v6.6M555.1 408.6V415.2M551.8 408.6h6.6M551.8 415.2h6.6M440 416.1H459.9M440 412.8v6.6M459.9 412.8v6.6M450.8 412.7V419.4M447.5 412.7h6.6M447.5 419.4h6.6M581.9 417.7H590.2M581.9 414.4v6.6M590.2 414.4v6.6M586 401.1V436.8M582.7 401.1h6.6M582.7 436.8h6.6M393.1 420.7H406.4M393.1 417.4v6.6M406.4 417.4v6.6M399.7 407.4V438.6M396.4 407.4h6.6M396.4 438.6h6.6M426.6 424.7H471.3M426.6 421.4v6.6M471.3 421.4v6.6M451.4 422.2V427.1M448.1 422.2h6.6M448.1 427.1h6.6M447.8 437.9H469.3M447.8 434.6v6.6M469.3 434.6v6.6M460.2 432.9V443.7M456.9 432.9h6.6M456.9 443.7h6.6M488.3 440.1H498.3M488.3 436.8v6.6M498.3 436.8v6.6M493.3 435.1V445M490 435.1h6.6M490 445h6.6M479.2 461.6H489.2M479.2 458.3v6.6M489.2 458.3v6.6M484.2 447.5V476.5M480.9 447.5h6.6M480.9 476.5h6.6M642.9 363.6H657.8M642.9 360.3v6.6M657.8 360.3v6.6M650.3 360.2V366.9M647 360.2h6.6M647 366.9h6.6M619.9 406.1H631.5M619.9 402.8v6.6M631.5 402.8v6.6M625.7 400.3V411.9M622.4 400.3h6.6M622.4 411.9h6.6M480.1 479.2H488.3M480.1 475.9v6.6M488.3 475.9v6.6M484.2 475.9V489.9M480.9 475.9h6.6M480.9 489.9h6.6" stroke="#1d0d78" stroke-opacity="0.6" stroke-width="1" fill="none"/><g fill="none" stroke="#00f000" stroke-width="2.0"><rect x="581.3" y="354.8" width="7.2" height="7.2"/><rect x="546.8" y="367.2" width="7.2" height="7.2"/><rect x="582.4" y="390.1" width="7.2" height="7.2"/><rect x="367.2" y="392.2" width="7.2" height="7.2"/></g></g>
<g clip-path="url(#cpb)"><g fill="#4a4a4a" fill-opacity="1"><circle cx="1090.6" cy="89.7" r="3.5"/><circle cx="996.6" cy="283.7" r="3.5"/><circle cx="1152.9" cy="293.9" r="3.5"/><circle cx="1157.5" cy="308.2" r="3.1"/><circle cx="1209.9" cy="305.8" r="3.5"/><circle cx="1203.4" cy="311.9" r="3.5"/><circle cx="1223.5" cy="320.5" r="3.5"/><circle cx="1261" cy="39" r="3.5"/><circle cx="1338.3" cy="129.3" r="3.5"/><circle cx="1427.3" cy="155.7" r="3.5"/><circle cx="1327" cy="190.8" r="3.5"/><circle cx="1482.9" cy="263.6" r="3.5"/><circle cx="1326.6" cy="304.7" r="3.5"/><circle cx="1328.3" cy="308.2" r="3.5"/><circle cx="1316.4" cy="314.7" r="3.5"/><circle cx="1384.4" cy="314" r="3.5"/><circle cx="1182" cy="342.7" r="3.1"/><circle cx="1230.3" cy="358.5" r="3.5"/><circle cx="1095.3" cy="373.1" r="3.5"/><circle cx="1204.5" cy="376.5" r="3.5"/><circle cx="1211.2" cy="384.1" r="3.5"/><circle cx="1144.3" cy="388.4" r="3.5"/><circle cx="1010.2" cy="401.6" r="3.5"/><circle cx="1063.9" cy="409" r="3.5"/><circle cx="1201.7" cy="398" r="3.5"/><circle cx="1199.9" cy="403.4" r="3.5"/><circle cx="1193.9" cy="403.8" r="3.1"/><circle cx="1218.3" cy="396.2" r="3.5"/><circle cx="1220.1" cy="395.8" r="3.5"/><circle cx="1216.8" cy="399.3" r="3.5"/><circle cx="1235" cy="396.4" r="3.5"/><circle cx="1167.7" cy="411" r="3.5"/><circle cx="1180.9" cy="418.1" r="3.5"/><circle cx="1185.2" cy="419.6" r="3.5"/><circle cx="1206.4" cy="416.4" r="3.5"/><circle cx="1212.1" cy="419.2" r="3.5"/><circle cx="1226.1" cy="418.8" r="3.5"/><circle cx="1209.7" cy="428.9" r="3.5"/><circle cx="1215.5" cy="430" r="3.5"/><circle cx="1204.9" cy="433.3" r="3.5"/><circle cx="1198.4" cy="439.3" r="3.5"/><circle cx="1239.4" cy="439.8" r="3.5"/><circle cx="1146.4" cy="443.7" r="3.5"/><circle cx="1140.8" cy="445.8" r="3.1"/><circle cx="1137.6" cy="447.8" r="3.5"/><circle cx="1198.9" cy="447.6" r="3.5"/><circle cx="1235.7" cy="449.1" r="3.5"/><circle cx="1237.8" cy="445.6" r="3.5"/><circle cx="1181.1" cy="455.6" r="3.5"/><circle cx="1077.6" cy="458.6" r="3.5"/><circle cx="1139.3" cy="460.1" r="3.1"/><circle cx="1236.3" cy="461.8" r="3.5"/><circle cx="1120.2" cy="464.7" r="3.5"/><circle cx="1131.5" cy="470.7" r="3.5"/><circle cx="1159.9" cy="471.2" r="3.5"/><circle cx="1155.1" cy="473.8" r="3.5"/><circle cx="1106.4" cy="473.5" r="3.5"/><circle cx="1232.6" cy="472.9" r="3.5"/><circle cx="1223.1" cy="480" r="3.5"/><circle cx="1228.7" cy="481.3" r="3.5"/><circle cx="1163.8" cy="482" r="3.5"/><circle cx="1131.3" cy="490.4" r="3.5"/><circle cx="1187.2" cy="489.6" r="3.5"/><circle cx="1220.5" cy="492.2" r="3.5"/><circle cx="1228.7" cy="487.4" r="3.5"/><circle cx="1157.7" cy="493.9" r="3.5"/><circle cx="1132.8" cy="495.8" r="3.5"/><circle cx="1124.1" cy="498.2" r="3.5"/><circle cx="1122" cy="500.4" r="3.5"/><circle cx="1129.6" cy="500.8" r="3.5"/><circle cx="1155.1" cy="499.1" r="3.5"/><circle cx="1218.3" cy="496.5" r="3.5"/><circle cx="1211.4" cy="499.1" r="3.5"/><circle cx="1211.2" cy="501.3" r="3.5"/><circle cx="1238.9" cy="496.9" r="3.5"/><circle cx="1216.6" cy="507.3" r="3.5"/><circle cx="1240" cy="505.8" r="3.5"/><circle cx="1106.4" cy="511" r="3.5"/><circle cx="1151.6" cy="511.9" r="3.5"/><circle cx="1159.7" cy="513.4" r="3.1"/><circle cx="1167.9" cy="514.5" r="3.5"/><circle cx="936.4" cy="518.8" r="3.5"/><circle cx="988.4" cy="518.4" r="3.5"/><circle cx="1081.5" cy="517.9" r="3.5"/><circle cx="1144.9" cy="519" r="3.5"/><circle cx="1162" cy="522.3" r="3.5"/><circle cx="1204.9" cy="522.5" r="3.1"/><circle cx="1073.3" cy="522.9" r="3.5"/><circle cx="1216.6" cy="523.8" r="3.5"/><circle cx="1232.2" cy="525.5" r="3.5"/><circle cx="1152.7" cy="529.6" r="3.5"/><circle cx="1138" cy="533.1" r="3.5"/><circle cx="1111.4" cy="532.9" r="3.5"/><circle cx="1180.4" cy="533.3" r="3.5"/><circle cx="1058.7" cy="534.4" r="3.5"/><circle cx="1099.7" cy="539.2" r="3.5"/><circle cx="1159.9" cy="540" r="3.5"/><circle cx="1138" cy="544.1" r="3.5"/><circle cx="1164.6" cy="545.4" r="3.5"/><circle cx="1180.9" cy="546.7" r="3.5"/><circle cx="1198.4" cy="545.9" r="3.5"/><circle cx="1202.1" cy="548.3" r="3.5"/><circle cx="1031" cy="549.8" r="3.5"/><circle cx="1164.6" cy="551.3" r="3.5"/><circle cx="1184.1" cy="552.2" r="3.5"/><circle cx="1194.5" cy="552.4" r="3.5"/><circle cx="1239.4" cy="551.3" r="3.5"/><circle cx="979" cy="553.9" r="3.5"/><circle cx="1211.2" cy="556.7" r="3.5"/><circle cx="1193.4" cy="563.8" r="3.5"/><circle cx="1166.8" cy="573.6" r="3.5"/><circle cx="1214" cy="573.8" r="3.5"/><circle cx="1148" cy="577.1" r="3.5"/><circle cx="1395" cy="330.2" r="3.5"/><circle cx="1243" cy="336.9" r="3.5"/><circle cx="1309.3" cy="335.2" r="3.1"/><circle cx="1300.4" cy="343.2" r="3.5"/><circle cx="1319" cy="343.8" r="3.5"/><circle cx="1327.9" cy="345.3" r="3.5"/><circle cx="1275.9" cy="347.1" r="3.1"/><circle cx="1344.1" cy="349" r="3.5"/><circle cx="1443.3" cy="355.7" r="3.5"/><circle cx="1305.1" cy="360.5" r="3.5"/><circle cx="1299.1" cy="364.2" r="3.5"/><circle cx="1333.3" cy="364.2" r="3.5"/><circle cx="1402.4" cy="365.7" r="3.5"/><circle cx="1357.1" cy="373.1" r="3.5"/><circle cx="1389.4" cy="378.9" r="3.1"/><circle cx="1313.6" cy="379.8" r="3.5"/><circle cx="1250.1" cy="383" r="3.5"/><circle cx="1257.9" cy="385.4" r="3.5"/><circle cx="1488.6" cy="390.6" r="3.5"/><circle cx="1275.3" cy="392.5" r="3.5"/><circle cx="1284.6" cy="391.2" r="3.5"/><circle cx="1261" cy="397.3" r="3.1"/><circle cx="1313.8" cy="401.4" r="3.5"/><circle cx="1381.4" cy="401.6" r="3.5"/><circle cx="1392.2" cy="406" r="3.5"/><circle cx="1271.4" cy="409" r="3.5"/><circle cx="1289.3" cy="411.2" r="3.5"/><circle cx="1321" cy="417.5" r="3.5"/><circle cx="1327.5" cy="421.4" r="3.5"/><circle cx="1249.5" cy="419.6" r="3.5"/><circle cx="1255.3" cy="422.2" r="3.5"/><circle cx="1273.3" cy="421.8" r="3.5"/><circle cx="1376" cy="421.8" r="3.5"/><circle cx="1393.5" cy="427.8" r="3.5"/><circle cx="1275.5" cy="430.4" r="3.5"/><circle cx="1306.2" cy="432.2" r="3.5"/><circle cx="1309" cy="437.4" r="3.5"/><circle cx="1322.7" cy="436.9" r="3.5"/><circle cx="1358" cy="434.8" r="3.5"/><circle cx="1362.5" cy="433.9" r="3.5"/><circle cx="1364.7" cy="432.6" r="3.5"/><circle cx="1427.7" cy="438.2" r="3.5"/><circle cx="1398.1" cy="443.9" r="3.5"/><circle cx="1389.2" cy="446" r="3.5"/><circle cx="1408.4" cy="444.5" r="3.5"/><circle cx="1464.5" cy="444.7" r="3.5"/><circle cx="1300.2" cy="446.7" r="3.5"/><circle cx="1386.4" cy="453" r="3.5"/><circle cx="1278.7" cy="452.1" r="3.5"/><circle cx="1275.9" cy="456.2" r="3.5"/><circle cx="1492.9" cy="455.1" r="3.5"/><circle cx="1328.1" cy="457.7" r="3.5"/><circle cx="1539" cy="460.3" r="3.5"/><circle cx="1267.5" cy="462.1" r="3.5"/><circle cx="1338.9" cy="461.6" r="3.5"/><circle cx="1288.7" cy="464.2" r="3.5"/><circle cx="1324.4" cy="469" r="3.5"/><circle cx="1349.5" cy="467.7" r="3.5"/><circle cx="1257.9" cy="470.9" r="3.5"/><circle cx="1256.6" cy="480.7" r="3.5"/><circle cx="1262.1" cy="483.9" r="3.5"/><circle cx="1257.1" cy="487.4" r="3.5"/><circle cx="1243" cy="488.1" r="3.5"/><circle cx="1479" cy="479.4" r="3.5"/><circle cx="1285" cy="481.3" r="3.5"/><circle cx="1310.6" cy="480.5" r="3.5"/><circle cx="1371" cy="480.5" r="3.5"/><circle cx="1350" cy="485.2" r="3.5"/><circle cx="1317.1" cy="487.6" r="3.5"/><circle cx="1493.6" cy="485.9" r="3.5"/><circle cx="1291.9" cy="493" r="3.5"/><circle cx="1301.5" cy="491.5" r="3.5"/><circle cx="1309.9" cy="491.5" r="3.5"/><circle cx="1487.3" cy="491.3" r="3.5"/><circle cx="1254.5" cy="497.8" r="3.5"/><circle cx="1270.1" cy="499.1" r="3.5"/><circle cx="1271.1" cy="500.4" r="3.5"/><circle cx="1326.2" cy="500.2" r="3.5"/><circle cx="1345.4" cy="499.1" r="3.5"/><circle cx="1375.1" cy="502.3" r="3.5"/><circle cx="1257.5" cy="504.1" r="3.5"/><circle cx="1286.3" cy="503" r="3.5"/><circle cx="1312.1" cy="505.8" r="3.5"/><circle cx="1426.2" cy="509.9" r="3.5"/><circle cx="1432.5" cy="508.8" r="3.5"/><circle cx="1533.2" cy="511.2" r="3.5"/><circle cx="1455.2" cy="513.8" r="3.5"/><circle cx="1321.4" cy="518.4" r="3.5"/><circle cx="1246.2" cy="524.7" r="3.1"/><circle cx="1254.3" cy="526.2" r="3.5"/><circle cx="1334" cy="523.8" r="3.5"/><circle cx="1277.2" cy="526.8" r="3.5"/><circle cx="1355.8" cy="532.9" r="3.5"/><circle cx="1374" cy="531.6" r="3.5"/><circle cx="1440.3" cy="531.6" r="3.5"/><circle cx="1290.2" cy="537" r="3.5"/><circle cx="1477.5" cy="543.1" r="3.5"/><circle cx="1426.9" cy="549.3" r="3.5"/><circle cx="1270.3" cy="552.8" r="3.5"/><circle cx="1366.2" cy="555.6" r="3.5"/><circle cx="1414.9" cy="568.2" r="3.5"/><circle cx="1292.2" cy="574.9" r="3.5"/><circle cx="1303" cy="578.8" r="3.5"/><circle cx="1254" cy="583.8" r="3.5"/><circle cx="1246.9" cy="610.2" r="3.5"/></g><g fill="none" stroke="#00f000" stroke-width="2.1"><circle cx="1157.5" cy="308.2" r="3.8"/><circle cx="1182" cy="342.7" r="3.8"/><circle cx="1193.9" cy="403.8" r="3.8"/><circle cx="1140.8" cy="445.8" r="3.8"/><circle cx="1139.3" cy="460.1" r="3.8"/><circle cx="1159.7" cy="513.4" r="3.8"/><circle cx="1204.9" cy="522.5" r="3.8"/><circle cx="1309.3" cy="335.2" r="3.8"/><circle cx="1275.9" cy="347.1" r="3.8"/><circle cx="1389.4" cy="378.9" r="3.8"/><circle cx="1261" cy="397.3" r="3.8"/><circle cx="1246.2" cy="524.7" r="3.8"/></g><g fill="#cf7a45" fill-opacity="1"><path d="M1220.1 455.8l3.9 7.2h-7.8z"/><path d="M1138 482.9l3.9 7.2h-7.8z"/><path d="M1426.2 348.2l3.9 7.2h-7.8z"/><path d="M1492.9 354.2l3.9 7.2h-7.8z"/></g><g fill="#47338f" fill-opacity="1"><rect x="1151.8" y="52.4" width="7.4" height="7.4"/><rect x="1385.5" y="25.8" width="7.4" height="7.4"/><rect x="1250.3" y="286.9" width="7.4" height="7.4"/><rect x="1272.2" y="295.8" width="7.4" height="7.4"/><rect x="1271.8" y="303.2" width="7.4" height="7.4"/><rect x="1227" y="358.1" width="7.4" height="7.4"/><rect x="1225.5" y="361.3" width="7.4" height="7.4"/><rect x="1216.8" y="361.1" width="7.4" height="7.4"/><rect x="1213.6" y="362.9" width="7.4" height="7.4"/><rect x="1216.4" y="379.1" width="7.4" height="7.4"/><rect x="1141.7" y="391.7" width="7.4" height="7.4"/><rect x="1136.1" y="397.6" width="6.4" height="6.4"/><rect x="1156" y="413.8" width="7.4" height="7.4"/><rect x="1201.7" y="432.8" width="7.4" height="7.4"/><rect x="1206.2" y="443.4" width="7.4" height="7.4"/><rect x="1096.2" y="454.3" width="7.4" height="7.4"/><rect x="1158.1" y="459" width="7.4" height="7.4"/><rect x="1214.2" y="456.6" width="7.4" height="7.4"/><rect x="1210.3" y="464" width="7.4" height="7.4"/><rect x="1177.6" y="472.7" width="7.4" height="7.4"/><rect x="1228.3" y="479.4" width="7.4" height="7.4"/><rect x="1162" y="490.2" width="7.4" height="7.4"/><rect x="1137.8" y="504.1" width="6.4" height="6.4"/><rect x="1160.3" y="514.5" width="7.4" height="7.4"/><rect x="1134.3" y="517.1" width="7.4" height="7.4"/><rect x="1027.3" y="534.6" width="7.4" height="7.4"/><rect x="1208.2" y="539.4" width="7.4" height="7.4"/><rect x="1149.2" y="542.6" width="7.4" height="7.4"/><rect x="1319.5" y="333.5" width="6.4" height="6.4"/><rect x="1281.1" y="334.9" width="7.4" height="7.4"/><rect x="1317.9" y="354.8" width="7.4" height="7.4"/><rect x="1367.3" y="370.9" width="7.4" height="7.4"/><rect x="1372.5" y="374.1" width="7.4" height="7.4"/><rect x="1386.2" y="381.3" width="6.4" height="6.4"/><rect x="1390" y="387.1" width="7.4" height="7.4"/><rect x="1422.7" y="420.7" width="7.4" height="7.4"/><rect x="1388.3" y="434.8" width="7.4" height="7.4"/><rect x="1428.8" y="448.8" width="7.4" height="7.4"/><rect x="1286.5" y="464.4" width="7.4" height="7.4"/><rect x="1451.5" y="475.9" width="7.4" height="7.4"/><rect x="1489.2" y="476.6" width="7.4" height="7.4"/><rect x="1322.5" y="477.4" width="7.4" height="7.4"/><rect x="1460.6" y="485.2" width="7.4" height="7.4"/><rect x="1324" y="504.1" width="7.4" height="7.4"/><rect x="1362.5" y="512.9" width="7.4" height="7.4"/><rect x="1253.2" y="516.2" width="7.4" height="7.4"/><rect x="1253.2" y="551.5" width="7.4" height="7.4"/><rect x="1266.6" y="550.8" width="7.4" height="7.4"/></g><g fill="none" stroke="#00f000" stroke-width="2.0"><rect x="1135.7" y="397.2" width="7.2" height="7.2"/><rect x="1137.4" y="503.7" width="7.2" height="7.2"/><rect x="1319.1" y="333.1" width="7.2" height="7.2"/><rect x="1385.8" y="380.9" width="7.2" height="7.2"/></g></g>
<g clip-path="url(#cpc)"><g fill="#383838" fill-opacity="0.9"><circle cx="392.6" cy="1023.8" r="3.2"/><circle cx="383.7" cy="1044.6" r="3.2"/><circle cx="427" cy="1055.2" r="3.2"/><circle cx="393.9" cy="1065.6" r="3.2"/><circle cx="366.4" cy="1067.3" r="3.2"/><circle cx="350.1" cy="1069.5" r="3.2"/><circle cx="354.5" cy="1072.1" r="3.2"/><circle cx="357.7" cy="1075.8" r="3.2"/><circle cx="345.1" cy="1076" r="3.2"/><circle cx="437.4" cy="1082.1" r="3.2"/><circle cx="675" cy="794.3" r="3.2"/><circle cx="690.8" cy="846.2" r="3.2"/><circle cx="664.1" cy="886.7" r="3.2"/><circle cx="565" cy="913.8" r="3.2"/><circle cx="622.6" cy="949.5" r="3.2"/><circle cx="535.5" cy="1069.7" r="2.9"/><circle cx="331.3" cy="1099.4" r="3.2"/><circle cx="358.3" cy="1105.7" r="3.2"/><circle cx="318.3" cy="1111.5" r="3.2"/><circle cx="338.5" cy="1118.2" r="3.2"/><circle cx="295.4" cy="1121" r="3.2"/><circle cx="355.9" cy="1126.8" r="3.2"/><circle cx="287.6" cy="1128.6" r="3.2"/><circle cx="282.7" cy="1136" r="3.2"/><circle cx="275.5" cy="1138.9" r="3.2"/><circle cx="272.7" cy="1143" r="2.9"/><circle cx="324.4" cy="1148.8" r="3.2"/><circle cx="329.4" cy="1151.3" r="3.2"/><circle cx="262.6" cy="1153.4" r="3.2"/><circle cx="307" cy="1154.3" r="3.2"/><circle cx="261.5" cy="1158.7" r="3.2"/><circle cx="256.2" cy="1159.2" r="3.2"/><circle cx="255.7" cy="1161.5" r="3.2"/><circle cx="324.9" cy="1162.4" r="3.2"/><circle cx="320.8" cy="1165.3" r="3.2"/><circle cx="254.5" cy="1169.5" r="3.2"/><circle cx="359.2" cy="1166.2" r="3.2"/><circle cx="320.3" cy="1174.5" r="3.2"/><circle cx="321.9" cy="1172.8" r="3.2"/><circle cx="355" cy="1174.8" r="3.2"/><circle cx="343.4" cy="1180.3" r="3.2"/><circle cx="297.1" cy="1181.6" r="3.2"/><circle cx="303.7" cy="1182.7" r="3.2"/><circle cx="331.8" cy="1183.6" r="3.2"/><circle cx="341.8" cy="1185.7" r="3.2"/><circle cx="230.8" cy="1185.6" r="3.2"/><circle cx="297.1" cy="1186.1" r="3.2"/><circle cx="291.3" cy="1192.2" r="3.2"/><circle cx="303.7" cy="1193" r="3.2"/><circle cx="329.9" cy="1194.3" r="3.2"/><circle cx="348.4" cy="1196" r="3.2"/><circle cx="351.7" cy="1195.2" r="3.2"/><circle cx="343.4" cy="1198.5" r="3.2"/><circle cx="310.3" cy="1199.3" r="3.2"/><circle cx="335.2" cy="1202.9" r="3.2"/><circle cx="257.8" cy="1203.9" r="3.2"/><circle cx="274.4" cy="1208.1" r="3.2"/><circle cx="343.1" cy="1210.6" r="2.9"/><circle cx="298.7" cy="1212.1" r="3.2"/><circle cx="321.9" cy="1213.4" r="3.2"/><circle cx="295.4" cy="1220" r="3.2"/><circle cx="323.6" cy="1217.5" r="3.2"/><circle cx="277.7" cy="1223.3" r="3.2"/><circle cx="345.9" cy="1224.1" r="2.9"/><circle cx="263.5" cy="1227" r="3.2"/><circle cx="189.4" cy="1226.6" r="3.2"/><circle cx="311.1" cy="1229.9" r="3.2"/><circle cx="348.4" cy="1234.1" r="3.2"/><circle cx="351.7" cy="1236.6" r="3.2"/><circle cx="293.4" cy="1237.4" r="3.2"/><circle cx="308.7" cy="1235.7" r="3.2"/><circle cx="252.4" cy="1238.5" r="3.2"/><circle cx="282.7" cy="1245.7" r="3.2"/><circle cx="292.9" cy="1246.5" r="3.2"/><circle cx="307" cy="1245.7" r="3.2"/><circle cx="302.9" cy="1246.5" r="3.2"/><circle cx="336" cy="1245.7" r="3.2"/><circle cx="377.3" cy="1092.5" r="3.2"/><circle cx="382.3" cy="1105.7" r="2.9"/><circle cx="417.6" cy="1106.1" r="3.2"/><circle cx="589.3" cy="1097.1" r="2.9"/><circle cx="520.9" cy="1109.5" r="2.9"/><circle cx="411.8" cy="1123.1" r="3.2"/><circle cx="364.9" cy="1155.7" r="3.2"/><circle cx="390.9" cy="1160.9" r="2.9"/><circle cx="381.8" cy="1160.1" r="3.2"/><circle cx="367.4" cy="1165" r="3.2"/><circle cx="360.8" cy="1166.2" r="3.2"/><circle cx="417.9" cy="1167.5" r="2.9"/><circle cx="374.5" cy="1172.5" r="3.2"/><circle cx="366.1" cy="1181.4" r="3.2"/><circle cx="403.8" cy="1183.2" r="3.2"/><circle cx="370.7" cy="1196" r="3.2"/><circle cx="366.6" cy="1202.6" r="3.2"/><circle cx="371.5" cy="1210.1" r="3.2"/><circle cx="364.9" cy="1208.4" r="3.2"/><circle cx="377.3" cy="1220.3" r="3.2"/><circle cx="362.4" cy="1220.8" r="3.2"/><circle cx="413.4" cy="1222.8" r="3.2"/><circle cx="435.6" cy="1225.3" r="3.2"/><circle cx="445.7" cy="1229.4" r="3.2"/><circle cx="362.9" cy="1238.5" r="3.2"/><circle cx="365.7" cy="1245.2" r="3.2"/><circle cx="233.8" cy="1257" r="3.2"/><circle cx="268.9" cy="1261.1" r="3.2"/><circle cx="274.7" cy="1266.6" r="3.2"/><circle cx="288.8" cy="1261.6" r="3.2"/><circle cx="286.3" cy="1267.4" r="3.2"/><circle cx="283.8" cy="1274.8" r="3.2"/><circle cx="292.1" cy="1273.2" r="3.2"/><circle cx="296.2" cy="1271.5" r="3.2"/><circle cx="295.4" cy="1261.6" r="3.2"/><circle cx="298.7" cy="1258.3" r="3.2"/><circle cx="302" cy="1266.6" r="3.2"/><circle cx="306.2" cy="1256.6" r="3.2"/><circle cx="312" cy="1255.8" r="3.2"/><circle cx="312.8" cy="1264.9" r="3.2"/><circle cx="326" cy="1253.3" r="3.2"/><circle cx="224.5" cy="1277" r="3.2"/><circle cx="323.6" cy="1265.7" r="3.2"/><circle cx="328.5" cy="1264.6" r="3.2"/><circle cx="336.8" cy="1265.7" r="3.2"/><circle cx="344.3" cy="1267.4" r="3.2"/><circle cx="339.3" cy="1275.7" r="3.2"/><circle cx="274.2" cy="1285.3" r="3.2"/><circle cx="332.7" cy="1284.8" r="3.2"/><circle cx="339.3" cy="1289.7" r="3.2"/><circle cx="350.1" cy="1288.9" r="3.2"/><circle cx="352.5" cy="1284.8" r="3.2"/><circle cx="304.5" cy="1291.7" r="3.2"/><circle cx="284.6" cy="1296" r="3.2"/><circle cx="345.9" cy="1299.4" r="3.2"/><circle cx="312.5" cy="1301.3" r="3.2"/><circle cx="313.6" cy="1303.3" r="3.2"/><circle cx="295.4" cy="1304.6" r="3.2"/><circle cx="299.6" cy="1305.5" r="3.2"/><circle cx="342.1" cy="1306.6" r="3.2"/><circle cx="306.5" cy="1309.6" r="3.2"/><circle cx="290.4" cy="1312.1" r="3.2"/><circle cx="283.5" cy="1313.3" r="3.2"/><circle cx="344.3" cy="1312.6" r="3.2"/><circle cx="263.9" cy="1317.9" r="3.2"/><circle cx="312" cy="1318.4" r="3.2"/><circle cx="315.3" cy="1320.4" r="3.2"/><circle cx="332.2" cy="1319.2" r="3.2"/><circle cx="357.5" cy="1317.6" r="3.2"/><circle cx="274.2" cy="1323.4" r="3.2"/><circle cx="266.4" cy="1335.6" r="3.2"/><circle cx="262" cy="1341.4" r="3.2"/><circle cx="311.6" cy="1341.1" r="3.2"/><circle cx="332.7" cy="1346.4" r="3.2"/><circle cx="346.3" cy="1344.7" r="3.2"/><circle cx="351.7" cy="1342.2" r="3.2"/><circle cx="315.6" cy="1378.3" r="3.2"/><circle cx="361.3" cy="1252.5" r="3.2"/><circle cx="379" cy="1251.7" r="3.2"/><circle cx="388.9" cy="1253.6" r="3.2"/><circle cx="412.9" cy="1265.2" r="3.2"/><circle cx="423.4" cy="1266.6" r="3.2"/><circle cx="385.6" cy="1264.1" r="3.2"/><circle cx="389.7" cy="1264.4" r="3.2"/><circle cx="377.8" cy="1277.8" r="3.2"/><circle cx="401.3" cy="1277.3" r="3.2"/><circle cx="421.2" cy="1279.8" r="2.9"/><circle cx="371" cy="1289.4" r="2.9"/><circle cx="428.2" cy="1291.1" r="2.9"/><circle cx="360.8" cy="1298.4" r="3.2"/><circle cx="366.1" cy="1299.2" r="3.2"/><circle cx="379.5" cy="1299.2" r="3.2"/><circle cx="390.9" cy="1299.4" r="3.2"/><circle cx="404.3" cy="1298.4" r="3.2"/><circle cx="426.7" cy="1316.7" r="3.2"/></g><path d="M354.7 1023.8H415.3M354.7 1020.5v6.6M415.3 1020.5v6.6M366.4 1044.6H397.3M366.4 1041.3v6.6M397.3 1041.3v6.6M417.7 1055.2H434.6M417.7 1051.9v6.6M434.6 1051.9v6.6M387.4 1065.6H399.7M387.4 1062.3v6.6M399.7 1062.3v6.6M355.5 1067.3H375.5M355.5 1064v6.6M375.5 1064v6.6M341 1069.5H367.5M341 1066.2v6.6M367.5 1066.2v6.6M337.1 1072.1H367.5M337.1 1068.8v6.6M367.5 1068.8v6.6M346.9 1075.8H373.5M346.9 1072.5v6.6M373.5 1072.5v6.6M287.3 1076H366.8M287.3 1072.7v6.6M366.8 1072.7v6.6M434.2 1082.1H440.7M434.2 1078.8v6.6M440.7 1078.8v6.6M670.2 794.3H679.3M670.2 791v6.6M679.3 791v6.6M686 846.2H695.5M686 842.9v6.6M695.5 842.9v6.6M661.5 886.7H666.7M661.5 883.4v6.6M666.7 883.4v6.6M562.4 913.8H567.6M562.4 910.5v6.6M567.6 910.5v6.6M620 949.5H625.2M620 946.2v6.6M625.2 946.2v6.6M530.7 1069.7H540.3M530.7 1066.4v6.6M540.3 1066.4v6.6M302.4 1099.4H351.2M302.4 1096.1v6.6M351.2 1096.1v6.6M351.7 1105.7H365M351.7 1102.4v6.6M365 1102.4v6.6M297.6 1111.5H333.5M297.6 1108.2v6.6M333.5 1108.2v6.6M326.9 1118.2H348.4M326.9 1114.9v6.6M348.4 1114.9v6.6M281.3 1121H307M281.3 1117.7v6.6M307 1117.7v6.6M350.9 1126.8H360.8M350.9 1123.5v6.6M360.8 1123.5v6.6M266.4 1128.6H303.4M266.4 1125.3v6.6M303.4 1125.3v6.6M271.1 1136H293.4M271.1 1132.7v6.6M293.4 1132.7v6.6M265.6 1138.9H282.2M265.6 1135.6v6.6M282.2 1135.6v6.6M317.8 1148.8H331M317.8 1145.5v6.6M331 1145.5v6.6M324.4 1151.3H334.3M324.4 1148v6.6M334.3 1148v6.6M131.8 1153.4H298.2M131.8 1150.1v6.6M298.2 1150.1v6.6M297.1 1154.3H315.3M297.1 1151v6.6M315.3 1151v6.6M215.9 1158.7H286.3M215.9 1155.4v6.6M286.3 1155.4v6.6M247.9 1159.2H264.4M247.9 1155.9v6.6M264.4 1155.9v6.6M189.8 1161.5H286.3M189.8 1158.2v6.6M286.3 1158.2v6.6M315 1162.4H333.2M315 1159.1v6.6M333.2 1159.1v6.6M315 1165.3H326.5M315 1162v6.6M326.5 1162v6.6M239.3 1169.5H266.6M239.3 1166.2v6.6M266.6 1166.2v6.6M355.9 1166.2H362.5M355.9 1162.9v6.6M362.5 1162.9v6.6M298.7 1174.5H334.3M298.7 1171.2v6.6M334.3 1171.2v6.6M318.6 1172.8H325.2M318.6 1169.5v6.6M325.2 1169.5v6.6M347.6 1174.8H360M347.6 1171.5v6.6M360 1171.5v6.6M336 1180.3H350.1M336 1177v6.6M350.1 1177v6.6M289.6 1181.6H303.7M289.6 1178.3v6.6M303.7 1178.3v6.6M297.1 1182.7H312M297.1 1179.4v6.6M312 1179.4v6.6M327.7 1183.6H336M327.7 1180.3v6.6M336 1180.3v6.6M337.6 1185.7H345.9M337.6 1182.4v6.6M345.9 1182.4v6.6M217.6 1185.6H241.6M217.6 1182.3v6.6M241.6 1182.3v6.6M292.1 1186.1H302M292.1 1182.8v6.6M302 1182.8v6.6M284.6 1192.2H297.9M284.6 1188.9v6.6M297.9 1188.9v6.6M297.1 1193H310.3M297.1 1189.7v6.6M310.3 1189.7v6.6M325.7 1194.3H334M325.7 1191v6.6M334 1191v6.6M345.1 1196H351.7M345.1 1192.7v6.6M351.7 1192.7v6.6M348.4 1195.2H355M348.4 1191.9v6.6M355 1191.9v6.6M333.5 1198.5H350.1M333.5 1195.2v6.6M350.1 1195.2v6.6M307 1199.3H313.6M307 1196v6.6M313.6 1196v6.6M327.7 1202.9H341.8M327.7 1199.6v6.6M341.8 1199.6v6.6M247.4 1203.9H266.9M247.4 1200.6v6.6M266.9 1200.6v6.6M263.6 1208.1H283.5M263.6 1204.8v6.6M283.5 1204.8v6.6M334 1210.6H348.1M334 1207.3v6.6M348.1 1207.3v6.6M292.1 1212.1H305.3M292.1 1208.8v6.6M305.3 1208.8v6.6M315.3 1213.4H331.8M315.3 1210.1v6.6M331.8 1210.1v6.6M292.1 1220H298.7M292.1 1216.7v6.6M298.7 1216.7v6.6M313.6 1217.5H331.8M313.6 1214.2v6.6M331.8 1214.2v6.6M269.4 1223.3H285.1M269.4 1220v6.6M285.1 1220v6.6M258.5 1227H268.4M258.5 1223.7v6.6M268.4 1223.7v6.6M163.3 1226.6H208M163.3 1223.3v6.6M208 1223.3v6.6M302 1229.9H317.8M302 1226.6v6.6M317.8 1226.6v6.6M342.6 1234.1H353.4M342.6 1230.8v6.6M353.4 1230.8v6.6M348.4 1236.6H355M348.4 1233.3v6.6M355 1233.3v6.6M284.3 1237.4H301.7M284.3 1234.1v6.6M301.7 1234.1v6.6M305.3 1235.7H312M305.3 1232.4v6.6M312 1232.4v6.6M241.3 1238.5H261.5M241.3 1235.2v6.6M261.5 1235.2v6.6M278.5 1245.7H286.8M278.5 1242.4v6.6M286.8 1242.4v6.6M289.6 1246.5H296.2M289.6 1243.2v6.6M296.2 1243.2v6.6M303.7 1245.7H310.3M303.7 1242.4v6.6M310.3 1242.4v6.6M299.6 1246.5H306.2M299.6 1243.2v6.6M306.2 1243.2v6.6M331 1245.7H341M331 1242.4v6.6M341 1242.4v6.6M371.5 1092.5H383.1M371.5 1089.2v6.6M383.1 1089.2v6.6M377.3 1105.7H387.3M377.3 1102.4v6.6M387.3 1102.4v6.6M413.4 1106.1H421.7M413.4 1102.8v6.6M421.7 1102.8v6.6M581.8 1097.1H596.3M581.8 1093.8v6.6M596.3 1093.8v6.6M516.8 1109.5H525M516.8 1106.2v6.6M525 1106.2v6.6M404.3 1123.1H418.4M404.3 1119.8v6.6M418.4 1119.8v6.6M345 1155.7H381.5M345 1152.4v6.6M381.5 1152.4v6.6M385.9 1160.9H395M385.9 1157.6v6.6M395 1157.6v6.6M376.8 1160.1H386.8M376.8 1156.8v6.6M386.8 1156.8v6.6M362.4 1165H372.4M362.4 1161.7v6.6M372.4 1161.7v6.6M356.6 1166.2H364.9M356.6 1162.9v6.6M364.9 1162.9v6.6M400.5 1167.5H431.5M400.5 1164.2v6.6M431.5 1164.2v6.6M369.5 1172.5H379.1M369.5 1169.2v6.6M379.1 1169.2v6.6M363.1 1181.4H369M363.1 1178.1v6.6M369 1178.1v6.6M401.3 1183.2H406.3M401.3 1179.9v6.6M406.3 1179.9v6.6M365.7 1196H375.7M365.7 1192.7v6.6M375.7 1192.7v6.6M359.9 1202.6H373.2M359.9 1199.3v6.6M373.2 1199.3v6.6M366.6 1210.1H376.5M366.6 1206.8v6.6M376.5 1206.8v6.6M359.9 1208.4H369.9M359.9 1205.1v6.6M369.9 1205.1v6.6M372.4 1220.3H382M372.4 1217v6.6M382 1217v6.6M359.9 1220.8H364.9M359.9 1217.5v6.6M364.9 1217.5v6.6M410.4 1222.8H416.4M410.4 1219.5v6.6M416.4 1219.5v6.6M432.6 1225.3H438.6M432.6 1222v6.6M438.6 1222v6.6M442.7 1229.4H448.7M442.7 1226.1v6.6M448.7 1226.1v6.6M358.8 1238.5H367.1M358.8 1235.2v6.6M367.1 1235.2v6.6M359.9 1245.2H370.7M359.9 1241.9v6.6M370.7 1241.9v6.6M228.3 1257H239.3M228.3 1253.7v6.6M239.3 1253.7v6.6M256.8 1261.1H278M256.8 1257.8v6.6M278 1257.8v6.6M265.6 1266.6H279.7M265.6 1263.3v6.6M279.7 1263.3v6.6M283.8 1261.6H293.8M283.8 1258.3v6.6M293.8 1258.3v6.6M281.3 1267.4H291.3M281.3 1264.1v6.6M291.3 1264.1v6.6M279.7 1274.8H288M279.7 1271.5v6.6M288 1271.5v6.6M288 1273.2H296.2M288 1269.9v6.6M296.2 1269.9v6.6M292.1 1271.5H300.4M292.1 1268.2v6.6M300.4 1268.2v6.6M291.3 1261.6H299.6M291.3 1258.3v6.6M299.6 1258.3v6.6M293.8 1258.3H303.7M293.8 1255v6.6M303.7 1255v6.6M297.9 1266.6H306.2M297.9 1263.3v6.6M306.2 1263.3v6.6M302 1256.6H310.3M302 1253.3v6.6M310.3 1253.3v6.6M308.7 1255.8H315.3M308.7 1252.5v6.6M315.3 1252.5v6.6M307.8 1264.9H317.8M307.8 1261.6v6.6M317.8 1261.6v6.6M322.7 1253.3H329.4M322.7 1250v6.6M329.4 1250v6.6M219.6 1277H229.5M219.6 1273.7v6.6M229.5 1273.7v6.6M320.3 1265.7H326.9M320.3 1262.4v6.6M326.9 1262.4v6.6M325.2 1264.6H331.8M325.2 1261.3v6.6M331.8 1261.3v6.6M333.5 1265.7H340.1M333.5 1262.4v6.6M340.1 1262.4v6.6M341 1267.4H347.6M341 1264.1v6.6M347.6 1264.1v6.6M336 1275.7H342.6M336 1272.4v6.6M342.6 1272.4v6.6M266.4 1285.3H281.7M266.4 1282v6.6M281.7 1282v6.6M330.7 1284.8H334.7M330.7 1281.5v6.6M334.7 1281.5v6.6M336 1289.7H342.6M336 1286.4v6.6M342.6 1286.4v6.6M346.8 1288.9H353.4M346.8 1285.6v6.6M353.4 1285.6v6.6M347.6 1284.8H356.7M347.6 1281.5v6.6M356.7 1281.5v6.6M300.4 1291.7H308.7M300.4 1288.4v6.6M308.7 1288.4v6.6M277.5 1296H291.3M277.5 1292.7v6.6M291.3 1292.7v6.6M341.8 1299.4H349.2M341.8 1296.1v6.6M349.2 1296.1v6.6M307.5 1301.3H316.6M307.5 1298v6.6M316.6 1298v6.6M311.1 1303.3H316.1M311.1 1300v6.6M316.1 1300v6.6M289.6 1304.6H301.2M289.6 1301.3v6.6M301.2 1301.3v6.6M297.1 1305.5H302M297.1 1302.2v6.6M302 1302.2v6.6M337.1 1306.6H346.3M337.1 1303.3v6.6M346.3 1303.3v6.6M300.7 1309.6H312.3M300.7 1306.3v6.6M312.3 1306.3v6.6M285.5 1312.1H295.4M285.5 1308.8v6.6M295.4 1308.8v6.6M279.3 1313.3H287.6M279.3 1310v6.6M287.6 1310v6.6M336.8 1312.6H347.6M336.8 1309.3v6.6M347.6 1309.3v6.6M252.7 1317.9H273.6M252.7 1314.6v6.6M273.6 1314.6v6.6M309.5 1318.4H314.5M309.5 1315.1v6.6M314.5 1315.1v6.6M312.8 1320.4H317.8M312.8 1317.1v6.6M317.8 1317.1v6.6M329.7 1319.2H334.7M329.7 1315.9v6.6M334.7 1315.9v6.6M354.2 1317.6H360M354.2 1314.3v6.6M360 1314.3v6.6M247.4 1323.4H292.4M247.4 1320.1v6.6M292.4 1320.1v6.6M248.5 1335.6H280.5M248.5 1332.3v6.6M280.5 1332.3v6.6M254 1341.4H269.4M254 1338.1v6.6M269.4 1338.1v6.6M309.2 1341.1H314.1M309.2 1337.8v6.6M314.1 1337.8v6.6M326.4 1346.4H338.5M326.4 1343.1v6.6M338.5 1343.1v6.6M343.8 1344.7H348.7M343.8 1341.4v6.6M348.7 1341.4v6.6M344.3 1342.2H358.3M344.3 1338.9v6.6M358.3 1338.9v6.6M312.6 1378.3H318.6M312.6 1375v6.6M318.6 1375v6.6M358.8 1252.5H363.7M358.8 1249.2v6.6M363.7 1249.2v6.6M376.5 1251.7H381.5M376.5 1248.4v6.6M381.5 1248.4v6.6M386.4 1253.6H391.4M386.4 1250.3v6.6M391.4 1250.3v6.6M410.4 1265.2H415.4M410.4 1261.9v6.6M415.4 1261.9v6.6M421.7 1266.6H425M421.7 1263.3v6.6M425 1263.3v6.6M383.1 1264.1H388.1M383.1 1260.8v6.6M388.1 1260.8v6.6M384.8 1264.4H394.4M384.8 1261.1v6.6M394.4 1261.1v6.6M375.3 1277.8H380.3M375.3 1274.5v6.6M380.3 1274.5v6.6M399.4 1277.3H403.3M399.4 1274v6.6M403.3 1274v6.6M419.2 1279.8H423.2M419.2 1276.5v6.6M423.2 1276.5v6.6M364.4 1289.4H377.7M364.4 1286.1v6.6M377.7 1286.1v6.6M426.2 1291.1H430.2M426.2 1287.8v6.6M430.2 1287.8v6.6M357.5 1298.4H364.1M357.5 1295.1v6.6M364.1 1295.1v6.6M361.1 1299.2H371M361.1 1295.9v6.6M371 1295.9v6.6M377 1299.2H382M377 1295.9v6.6M382 1295.9v6.6M385.9 1299.4H395.5M385.9 1296.1v6.6M395.5 1296.1v6.6M402.3 1298.4H406.3M402.3 1295.1v6.6M406.3 1295.1v6.6M424.7 1316.7H428.7M424.7 1313.4v6.6M428.7 1313.4v6.6" stroke="#000" stroke-opacity="0.6" stroke-width="1" fill="none"/><g fill="none" stroke="#00f000" stroke-width="2.1"><circle cx="535.5" cy="1069.7" r="3.8"/><circle cx="272.7" cy="1143" r="3.8"/><circle cx="343.1" cy="1210.6" r="3.8"/><circle cx="345.9" cy="1224.1" r="3.8"/><circle cx="382.3" cy="1105.7" r="3.8"/><circle cx="589.3" cy="1097.1" r="3.8"/><circle cx="520.9" cy="1109.5" r="3.8"/><circle cx="390.9" cy="1160.9" r="3.8"/><circle cx="417.9" cy="1167.5" r="3.8"/><circle cx="421.2" cy="1279.8" r="3.8"/><circle cx="371" cy="1289.4" r="3.8"/><circle cx="428.2" cy="1291.1" r="3.8"/></g><g fill="#cb7039" fill-opacity="0.9"><path d="M324.4 1110.9l3.9 7.2h-7.8z"/><path d="M338.8 1116.7l3.9 7.2h-7.8z"/><path d="M318.6 1245.1l3.9 7.2h-7.8z"/><path d="M360.8 1217.8l3.9 7.2h-7.8z"/><path d="M318.6 1248.6l3.9 7.2h-7.8z"/></g><g fill="#3b2a8a" fill-opacity="0.9"><rect x="427.2" y="1048.5" width="7.4" height="7.4"/><rect x="383.9" y="1057.1" width="7.4" height="7.4"/><rect x="421.8" y="1064.5" width="7.4" height="7.4"/><rect x="684.5" y="781" width="7.4" height="7.4"/><rect x="708.7" y="807.9" width="7.4" height="7.4"/><rect x="314.1" y="1096.6" width="7.4" height="7.4"/><rect x="333.9" y="1120.2" width="7.4" height="7.4"/><rect x="329.8" y="1123.6" width="7.4" height="7.4"/><rect x="270.5" y="1142.1" width="7.4" height="7.4"/><rect x="324" y="1137.1" width="7.4" height="7.4"/><rect x="353.8" y="1134.3" width="7.4" height="7.4"/><rect x="336.9" y="1144.8" width="6.4" height="6.4"/><rect x="310.4" y="1150.1" width="7.4" height="7.4"/><rect x="335.3" y="1161" width="6.4" height="6.4"/><rect x="314.1" y="1184.8" width="7.4" height="7.4"/><rect x="345.5" y="1198.9" width="7.4" height="7.4"/><rect x="353.8" y="1196.9" width="7.4" height="7.4"/><rect x="306.6" y="1208" width="7.4" height="7.4"/><rect x="295" y="1213.5" width="7.4" height="7.4"/><rect x="343.1" y="1218.8" width="7.4" height="7.4"/><rect x="353.8" y="1222.1" width="7.4" height="7.4"/><rect x="320.2" y="1223.4" width="7.4" height="7.4"/><rect x="331.5" y="1228.7" width="7.4" height="7.4"/><rect x="322.3" y="1242" width="7.4" height="7.4"/><rect x="371.6" y="1095.9" width="6.4" height="6.4"/><rect x="516" y="1117.8" width="7.4" height="7.4"/><rect x="395.7" y="1124.1" width="7.4" height="7.4"/><rect x="376.9" y="1126" width="7.4" height="7.4"/><rect x="594.2" y="1155" width="7.4" height="7.4"/><rect x="406.2" y="1177.7" width="7.4" height="7.4"/><rect x="355.9" y="1221.8" width="7.4" height="7.4"/><rect x="408.9" y="1229.5" width="7.4" height="7.4"/><rect x="374.1" y="1237.8" width="7.4" height="7.4"/><rect x="414.2" y="1241.5" width="7.4" height="7.4"/><rect x="369.5" y="1243.6" width="7.4" height="7.4"/><rect x="341.9" y="1250.4" width="7.4" height="7.4"/><rect x="333.4" y="1270" width="7.4" height="7.4"/><rect x="291.7" y="1280.7" width="7.4" height="7.4"/><rect x="320.2" y="1283.1" width="7.4" height="7.4"/><rect x="345.9" y="1309.2" width="7.4" height="7.4"/><rect x="318.7" y="1318.7" width="7.4" height="7.4"/><rect x="340.1" y="1317.8" width="7.4" height="7.4"/><rect x="369.5" y="1246.3" width="7.4" height="7.4"/><rect x="408.7" y="1255.7" width="7.4" height="7.4"/><rect x="359.6" y="1270.5" width="6.4" height="6.4"/><rect x="378.1" y="1279.1" width="7.4" height="7.4"/><rect x="365.8" y="1281.9" width="7.4" height="7.4"/><rect x="378.6" y="1301.3" width="7.4" height="7.4"/><rect x="357.9" y="1305.9" width="7.4" height="7.4"/></g><path d="M426.6 1052.2H435.2M426.6 1048.9v6.6M435.2 1048.9v6.6M379.4 1060.8H394.1M379.4 1057.5v6.6M394.1 1057.5v6.6M421.2 1068.2H429.8M421.2 1064.9v6.6M429.8 1064.9v6.6M686 784.7H690.3M686 781.4v6.6M690.3 781.4v6.6M707 811.6H716.8M707 808.3v6.6M716.8 808.3v6.6M298.7 1100.3H333.5M298.7 1097v6.6M333.5 1097v6.6M331 1123.9H344.3M331 1120.6v6.6M344.3 1120.6v6.6M328.5 1127.3H340.1M328.5 1124v6.6M340.1 1124v6.6M256.3 1145.8H288.8M256.3 1142.5v6.6M288.8 1142.5v6.6M320.3 1140.8H334.7M320.3 1137.5v6.6M334.7 1137.5v6.6M336.8 1148H343.4M336.8 1144.7v6.6M343.4 1144.7v6.6M297.6 1153.8H327.4M297.6 1150.5v6.6M327.4 1150.5v6.6M329.4 1164.2H346.4M329.4 1160.9v6.6M346.4 1160.9v6.6M312.8 1188.5H322.7M312.8 1185.2v6.6M322.7 1185.2v6.6M344.3 1202.6H354.2M344.3 1199.3v6.6M354.2 1199.3v6.6M354.2 1200.6H360.8M354.2 1197.3v6.6M360.8 1197.3v6.6M303.7 1211.7H316.1M303.7 1208.4v6.6M316.1 1208.4v6.6M292.1 1217.2H304.5M292.1 1213.9v6.6M304.5 1213.9v6.6M341.8 1222.5H351.7M341.8 1219.2v6.6M351.7 1219.2v6.6M354.2 1225.8H360.8M354.2 1222.5v6.6M360.8 1222.5v6.6M314 1227.1H332.2M314 1223.8v6.6M332.2 1223.8v6.6M329.4 1232.4H340.1M329.4 1229.1v6.6M340.1 1229.1v6.6M321.1 1245.7H331M321.1 1242.4v6.6M331 1242.4v6.6M363.2 1099.1H384.4M363.2 1095.8v6.6M384.4 1095.8v6.6M514.4 1121.5H524.7M514.4 1118.2v6.6M524.7 1118.2v6.6M396 1127.8H402.7M396 1124.5v6.6M402.7 1124.5v6.6M369.9 1129.7H390.1M369.9 1126.4v6.6M390.1 1126.4v6.6M405.8 1181.4H414.1M405.8 1178.1v6.6M414.1 1178.1v6.6M357.1 1225.5H362.1M357.1 1222.2v6.6M362.1 1222.2v6.6M410.1 1233.2H415.1M410.1 1229.9v6.6M415.1 1229.9v6.6M374.5 1241.5H381.1M374.5 1238.2v6.6M381.1 1238.2v6.6M414.6 1245.2H421.2M414.6 1241.9v6.6M421.2 1241.9v6.6M370.7 1247.3H375.7M370.7 1244v6.6M375.7 1244v6.6M335.7 1254.1H352.2M335.7 1250.8v6.6M352.2 1250.8v6.6M319.8 1273.7H350.4M319.8 1270.4v6.6M350.4 1270.4v6.6M292.1 1284.4H298.7M292.1 1281.1v6.6M298.7 1281.1v6.6M320.9 1286.8H326.9M320.9 1283.5v6.6M326.9 1283.5v6.6M347.1 1312.9H352M347.1 1309.6v6.6M352 1309.6v6.6M317.4 1322.4H326.5M317.4 1319.1v6.6M326.5 1319.1v6.6M340.8 1321.5H346.8M340.8 1318.2v6.6M346.8 1318.2v6.6M370.7 1250H375.7M370.7 1246.7v6.6M375.7 1246.7v6.6M409.9 1259.4H414.9M409.9 1256.1v6.6M414.9 1256.1v6.6M379.3 1282.8H384.3M379.3 1279.5v6.6M384.3 1279.5v6.6M367.1 1285.6H372M367.1 1282.3v6.6M372 1282.3v6.6M379.8 1305H384.8M379.8 1301.7v6.6M384.8 1301.7v6.6M359.1 1309.6H364.1M359.1 1306.3v6.6M364.1 1306.3v6.6" stroke="#1d0d78" stroke-opacity="0.6" stroke-width="1" fill="none"/><g fill="none" stroke="#00f000" stroke-width="2.0"><rect x="336.5" y="1144.4" width="7.2" height="7.2"/><rect x="334.9" y="1160.6" width="7.2" height="7.2"/><rect x="371.2" y="1095.5" width="7.2" height="7.2"/><rect x="359.2" y="1270.1" width="7.2" height="7.2"/></g></g>
<g clip-path="url(#cpd)"><g fill="#383838" fill-opacity="0.9"><circle cx="1216.6" cy="941.1" r="3.2"/><circle cx="1214" cy="942.6" r="3.2"/><circle cx="1211.9" cy="943.7" r="3.2"/><circle cx="1202.8" cy="949.1" r="3.2"/><circle cx="1199.5" cy="950.8" r="3.2"/><circle cx="1151.9" cy="978.8" r="3.2"/><circle cx="1142.6" cy="984.4" r="3.2"/><circle cx="1132.8" cy="990" r="3.2"/><circle cx="1124.6" cy="995" r="3.2"/><circle cx="1193.4" cy="1000.2" r="3.2"/><circle cx="1209.7" cy="1006.7" r="3.2"/><circle cx="1091.2" cy="1014.3" r="3.2"/><circle cx="1086.7" cy="1016.4" r="3.2"/><circle cx="1079.7" cy="1020.8" r="3.2"/><circle cx="1077.1" cy="1022.3" r="3.2"/><circle cx="1075" cy="1022.9" r="3.2"/><circle cx="1217.3" cy="1019" r="3.2"/><circle cx="1064.6" cy="1029.4" r="3.2"/><circle cx="1187.6" cy="1032" r="3.2"/><circle cx="1041.8" cy="1042.4" r="3.2"/><circle cx="1228.7" cy="1043.5" r="3.2"/><circle cx="1137.6" cy="1053" r="3.2"/><circle cx="1018.9" cy="1056.3" r="3.2"/><circle cx="1181.1" cy="1056.1" r="3.2"/><circle cx="1202.1" cy="1061.3" r="3.2"/><circle cx="1203.6" cy="1061.3" r="3.2"/><circle cx="1235.7" cy="1063.7" r="3.2"/><circle cx="1167.9" cy="1069.1" r="3.2"/><circle cx="994.9" cy="1070.4" r="3.2"/><circle cx="1080.6" cy="1072.8" r="3.2"/><circle cx="984" cy="1076.4" r="3.2"/><circle cx="983.6" cy="1076.4" r="3.2"/><circle cx="1048.6" cy="1080.3" r="3.2"/><circle cx="1235.7" cy="1084" r="3.2"/><circle cx="1225.9" cy="1087.5" r="3.2"/><circle cx="1179.4" cy="1087.5" r="3.2"/><circle cx="1166.4" cy="1094.2" r="3.2"/><circle cx="1455.7" cy="802.3" r="3.2"/><circle cx="1445.5" cy="808.1" r="3.2"/><circle cx="1379.4" cy="846.2" r="3.2"/><circle cx="1371.8" cy="851.2" r="3.2"/><circle cx="1369.7" cy="852.3" r="3.2"/><circle cx="1362.1" cy="856.6" r="3.2"/><circle cx="1355.6" cy="859.2" r="3.2"/><circle cx="1353.4" cy="861.4" r="3.2"/><circle cx="1421.2" cy="874.2" r="3.2"/><circle cx="1316.6" cy="882.8" r="3.2"/><circle cx="1296.7" cy="894.5" r="3.2"/><circle cx="1291.9" cy="897.1" r="3.2"/><circle cx="1278.7" cy="904.9" r="3.2"/><circle cx="1270.7" cy="909.7" r="3.2"/><circle cx="1268.5" cy="910.8" r="3.2"/><circle cx="1351.3" cy="909.9" r="3.2"/><circle cx="1250.1" cy="921.6" r="3.2"/><circle cx="1239.1" cy="928.1" r="3.2"/><circle cx="1344.1" cy="933.7" r="3.2"/><circle cx="1442.4" cy="937.8" r="3.2"/><circle cx="1412.1" cy="946.3" r="3.2"/><circle cx="1482.3" cy="946.5" r="3.2"/><circle cx="1435.5" cy="954.3" r="3.2"/><circle cx="1454.8" cy="959.3" r="3.2"/><circle cx="1390.3" cy="960.4" r="3.2"/><circle cx="1382.9" cy="961" r="3.2"/><circle cx="1271.4" cy="964" r="3.2"/><circle cx="1352.4" cy="968.4" r="3.2"/><circle cx="1319.2" cy="969.9" r="3.2"/><circle cx="1287.6" cy="971.8" r="3.2"/><circle cx="1289.6" cy="977.5" r="3.2"/><circle cx="1242.3" cy="976.4" r="3.2"/><circle cx="1476.7" cy="984.8" r="3.2"/><circle cx="1327.5" cy="988.5" r="3.2"/><circle cx="1250.1" cy="995.7" r="3.2"/><circle cx="1463.5" cy="999.3" r="3.2"/><circle cx="1270.1" cy="1005.4" r="3.2"/><circle cx="1280.9" cy="1006.1" r="3.2"/><circle cx="1282.4" cy="1007.1" r="3.2"/><circle cx="1369" cy="1005.2" r="3.2"/><circle cx="1361.5" cy="1006.1" r="3.2"/><circle cx="1355.6" cy="1008.9" r="3.2"/><circle cx="1404.8" cy="1005.2" r="3.2"/><circle cx="1411.3" cy="1010.6" r="3.2"/><circle cx="1298" cy="1011.5" r="3.2"/><circle cx="1448.7" cy="1012.1" r="3.2"/><circle cx="1244.3" cy="1015.8" r="3.2"/><circle cx="1279.6" cy="1019.3" r="3.2"/><circle cx="1319" cy="1023.4" r="3.2"/><circle cx="1252.3" cy="1026.4" r="3.2"/><circle cx="1414.1" cy="1027.3" r="3.2"/><circle cx="1410.8" cy="1031.2" r="3.2"/><circle cx="1460.9" cy="1032.3" r="3.2"/><circle cx="1345.9" cy="1033.3" r="3.2"/><circle cx="1325.5" cy="1039.8" r="3.2"/><circle cx="1405.8" cy="1040.1" r="3.2"/><circle cx="1434" cy="1041.6" r="3.2"/><circle cx="1288" cy="1045.5" r="3.2"/><circle cx="1393.3" cy="1046.8" r="3.2"/><circle cx="1412.1" cy="1047.2" r="3.2"/><circle cx="1379.4" cy="1053.9" r="3.2"/><circle cx="1333.3" cy="1055.4" r="3.2"/><circle cx="1355.2" cy="1055.4" r="3.2"/><circle cx="1376.2" cy="1058" r="3.2"/><circle cx="1390.3" cy="1059.8" r="3.2"/><circle cx="1353.4" cy="1060.2" r="3.2"/><circle cx="1398.5" cy="1069.7" r="3.2"/><circle cx="1277.2" cy="1073" r="3.2"/><circle cx="1302.3" cy="1073.2" r="3.2"/><circle cx="1379.4" cy="1074.1" r="3.2"/><circle cx="1480.6" cy="1074.1" r="3.2"/><circle cx="1356.7" cy="1075.4" r="3.2"/><circle cx="1436" cy="1076.4" r="3.2"/><circle cx="1443.3" cy="1081.2" r="3.2"/><circle cx="1381.6" cy="1083.4" r="3.2"/><circle cx="1291.7" cy="1088.3" r="3.2"/><circle cx="1347.2" cy="1088.8" r="3.2"/><circle cx="1360.4" cy="1089.4" r="3.2"/><circle cx="1325.1" cy="1090.3" r="3.2"/><circle cx="1290.2" cy="1093.8" r="3.2"/><circle cx="1361" cy="1092.7" r="3.2"/><circle cx="1368" cy="1094.8" r="3.2"/><circle cx="1396.8" cy="1097" r="3.2"/><circle cx="1126.1" cy="1106" r="3.2"/><circle cx="1061.1" cy="1109.1" r="3.2"/><circle cx="1079.3" cy="1112.1" r="3.2"/><circle cx="1207.7" cy="1117.7" r="3.2"/><circle cx="994.2" cy="1122.5" r="3.2"/><circle cx="1088" cy="1124.2" r="3.2"/><circle cx="1170.3" cy="1123.8" r="3.2"/><circle cx="1131.7" cy="1125.3" r="3.2"/><circle cx="1143.6" cy="1126.8" r="3.2"/><circle cx="1134.5" cy="1129.6" r="3.2"/><circle cx="1122" cy="1134.2" r="3.2"/><circle cx="1108.1" cy="1134.4" r="3.2"/><circle cx="1091.9" cy="1147.4" r="3.2"/><circle cx="1123.7" cy="1161.5" r="3.2"/><circle cx="1087.5" cy="1167.5" r="3.2"/><circle cx="1157.5" cy="1167.3" r="3.2"/><circle cx="1188" cy="1171.9" r="3.2"/><circle cx="997.5" cy="1174" r="3.2"/><circle cx="1083.4" cy="1182.3" r="3.2"/><circle cx="1124.6" cy="1181.6" r="3.2"/><circle cx="1183.7" cy="1187.2" r="3.2"/><circle cx="949.6" cy="1188.5" r="3.2"/><circle cx="994.6" cy="1218.6" r="3.2"/><circle cx="1229.4" cy="1225.4" r="3.2"/><circle cx="1039.5" cy="1229.5" r="3.2"/><circle cx="1208" cy="1332.6" r="3.2"/><circle cx="1305.8" cy="1098" r="3.2"/><circle cx="1316.6" cy="1099.7" r="3.2"/><circle cx="1332.9" cy="1099.3" r="3.2"/><circle cx="1340.4" cy="1100.4" r="3.2"/><circle cx="1393.3" cy="1103.6" r="3.2"/><circle cx="1287.2" cy="1106.2" r="3.2"/><circle cx="1304.3" cy="1109.5" r="3.2"/><circle cx="1299.9" cy="1110.6" r="3.2"/><circle cx="1248.4" cy="1111.2" r="3.2"/><circle cx="1335" cy="1112.3" r="3.2"/><circle cx="1414.7" cy="1112.5" r="3.2"/><circle cx="1288.5" cy="1113.8" r="3.2"/><circle cx="1321.8" cy="1115.3" r="3.2"/><circle cx="1336.8" cy="1117.5" r="3.2"/><circle cx="1240.4" cy="1117.7" r="3.2"/><circle cx="1269.6" cy="1119.2" r="3.2"/><circle cx="1437.5" cy="1117.9" r="3.2"/><circle cx="1303.6" cy="1123.6" r="3.2"/><circle cx="1246.9" cy="1127.2" r="3.2"/><circle cx="1331.8" cy="1128.5" r="3.2"/><circle cx="1327.5" cy="1130.3" r="3.2"/><circle cx="1387" cy="1130.3" r="3.2"/><circle cx="1450.2" cy="1134.8" r="3.2"/><circle cx="1515.9" cy="1141.3" r="3.2"/><circle cx="1416.7" cy="1143.7" r="3.2"/><circle cx="1434.9" cy="1143.1" r="3.2"/><circle cx="1243" cy="1147" r="3.2"/><circle cx="1298.2" cy="1146.3" r="3.2"/><circle cx="1341.7" cy="1147.6" r="3.2"/><circle cx="1377.5" cy="1147" r="3.2"/><circle cx="1534.9" cy="1159.9" r="3.2"/><circle cx="1335" cy="1160.6" r="3.2"/><circle cx="1365.1" cy="1159.7" r="3.2"/><circle cx="1277" cy="1162.5" r="3.2"/><circle cx="1313.4" cy="1163.6" r="3.2"/><circle cx="1319.2" cy="1162.5" r="3.2"/><circle cx="1414.5" cy="1165.6" r="3.2"/><circle cx="1421.7" cy="1167.5" r="3.2"/><circle cx="1293" cy="1169.3" r="3.2"/><circle cx="1437.5" cy="1169.7" r="3.2"/><circle cx="1363.4" cy="1171.9" r="3.2"/><circle cx="1243" cy="1175.3" r="3.2"/><circle cx="1253.8" cy="1174.2" r="3.2"/><circle cx="1426.6" cy="1178.8" r="3.2"/><circle cx="1354.5" cy="1180.1" r="3.2"/><circle cx="1374.4" cy="1185.5" r="3.2"/><circle cx="1349.1" cy="1188.5" r="3.2"/><circle cx="1405" cy="1188.8" r="3.2"/><circle cx="1255.3" cy="1193.1" r="3.2"/><circle cx="1343" cy="1195" r="3.2"/><circle cx="1366.4" cy="1196.1" r="3.2"/><circle cx="1374.7" cy="1195" r="3.2"/><circle cx="1284.1" cy="1201.7" r="3.2"/><circle cx="1237.6" cy="1203.5" r="3.2"/><circle cx="1373.6" cy="1205.4" r="3.2"/><circle cx="1281.8" cy="1214.1" r="3.2"/><circle cx="1392.2" cy="1218.9" r="3.2"/><circle cx="1355" cy="1234" r="3.2"/><circle cx="1334.6" cy="1242.7" r="3.2"/><circle cx="1262.9" cy="1246.4" r="3.2"/><circle cx="1307.3" cy="1250.7" r="3.2"/><circle cx="1291.3" cy="1259.6" r="3.2"/><circle cx="1314" cy="1264.8" r="3.2"/><circle cx="1259.2" cy="1291.6" r="3.2"/><circle cx="1279.4" cy="1291.6" r="3.2"/><circle cx="1328.3" cy="1311.5" r="3.2"/><circle cx="1270.7" cy="1324.5" r="3.2"/><circle cx="1441.1" cy="1341.6" r="3.2"/><circle cx="1366.4" cy="1382.8" r="3.2"/></g><path d="M1204.7 941.1H1227.4M1204.7 937.8v6.6M1227.4 937.8v6.6M1204.3 942.6H1222.7M1204.3 939.3v6.6M1222.7 939.3v6.6M1199.3 943.7H1222.7M1199.3 940.4v6.6M1222.7 940.4v6.6M1182.6 949.1H1219.4M1182.6 945.8v6.6M1219.4 945.8v6.6M1189.8 950.8H1208.2M1189.8 947.5v6.6M1208.2 947.5v6.6M1136.7 978.8H1165.9M1136.7 975.5v6.6M1165.9 975.5v6.6M1129.6 984.4H1154.5M1129.6 981.1v6.6M1154.5 981.1v6.6M1112.7 990H1149.5M1112.7 986.7v6.6M1149.5 986.7v6.6M1109.4 995H1137.6M1109.4 991.7v6.6M1137.6 991.7v6.6M1185.2 1000.2H1201.5M1185.2 996.9v6.6M1201.5 996.9v6.6M1199.5 1006.7H1218.8M1199.5 1003.4v6.6M1218.8 1003.4v6.6M1078.2 1014.3H1102.5M1078.2 1011v6.6M1102.5 1011v6.6M1071.5 1016.4H1100.3M1071.5 1013.1v6.6M1100.3 1013.1v6.6M1065.7 1020.8H1092.3M1065.7 1017.5v6.6M1092.3 1017.5v6.6M1061.6 1022.3H1090.6M1061.6 1019v6.6M1090.6 1019v6.6M1065.2 1022.9H1084.7M1065.2 1019.6v6.6M1084.7 1019.6v6.6M1200.4 1019H1231.3M1200.4 1015.7v6.6M1231.3 1015.7v6.6M1050.9 1029.4H1076.5M1050.9 1026.1v6.6M1076.5 1026.1v6.6M1171.8 1032H1201.2M1171.8 1028.7v6.6M1201.2 1028.7v6.6M1023.4 1042.4H1058.1M1023.4 1039.1v6.6M1058.1 1039.1v6.6M1218.6 1043.5H1238.5M1218.6 1040.2v6.6M1238.5 1040.2v6.6M1132.8 1053H1141.9M1132.8 1049.7v6.6M1141.9 1049.7v6.6M1005.9 1056.3H1030.4M1005.9 1053v6.6M1030.4 1053v6.6M1163.3 1056.1H1197.3M1163.3 1052.8v6.6M1197.3 1052.8v6.6M1186.9 1061.3H1219M1186.9 1058v6.6M1219 1058v6.6M1190.6 1061.3H1212.3M1190.6 1058v6.6M1212.3 1058v6.6M1227.4 1063.7H1243.3M1227.4 1060.4v6.6M1243.3 1060.4v6.6M1155.5 1069.1H1179.1M1155.5 1065.8v6.6M1179.1 1065.8v6.6M976 1070.4H1011.1M976 1067.1v6.6M1011.1 1067.1v6.6M1068.3 1072.8H1091.4M1068.3 1069.5v6.6M1091.4 1069.5v6.6M953.7 1076.4H1008.3M953.7 1073.1v6.6M1008.3 1073.1v6.6M963 1076.4H1000.5M963 1073.1v6.6M1000.5 1073.1v6.6M1034.5 1080.3H1061.6M1034.5 1077v6.6M1061.6 1077v6.6M1230.3 1084H1241.1M1230.3 1080.7v6.6M1241.1 1080.7v6.6M1219.4 1087.5H1232.4M1219.4 1084.2v6.6M1232.4 1084.2v6.6M1170.3 1087.5H1187.6M1170.3 1084.2v6.6M1187.6 1084.2v6.6M1152.3 1094.2H1178.7M1152.3 1090.9v6.6M1178.7 1090.9v6.6M1450.2 802.3H1460.4M1450.2 799v6.6M1460.4 799v6.6M1430.3 808.1H1459.1M1430.3 804.8v6.6M1459.1 804.8v6.6M1369.2 846.2H1389.2M1369.2 842.9v6.6M1389.2 842.9v6.6M1355.6 851.2H1385.3M1355.6 847.9v6.6M1385.3 847.9v6.6M1359.9 852.3H1379.4M1359.9 849v6.6M1379.4 849v6.6M1341.1 856.6H1379.4M1341.1 853.3v6.6M1379.4 853.3v6.6M1348 859.2H1364.3M1348 855.9v6.6M1364.3 855.9v6.6M1340.4 861.4H1365.4M1340.4 858.1v6.6M1365.4 858.1v6.6M1405.6 874.2H1434.9M1405.6 870.9v6.6M1434.9 870.9v6.6M1308.6 882.8H1323.8M1308.6 879.5v6.6M1323.8 879.5v6.6M1285.4 894.5H1306.4M1285.4 891.2v6.6M1306.4 891.2v6.6M1283.7 897.1H1299.5M1283.7 893.8v6.6M1299.5 893.8v6.6M1265.7 904.9H1290.6M1265.7 901.6v6.6M1290.6 901.6v6.6M1256.6 909.7H1283.7M1256.6 906.4v6.6M1283.7 906.4v6.6M1257.7 910.8H1279.4M1257.7 907.5v6.6M1279.4 907.5v6.6M1327.5 909.9H1370.3M1327.5 906.6v6.6M1370.3 906.6v6.6M1235 921.6H1263.6M1235 918.3v6.6M1263.6 918.3v6.6M1224.4 928.1H1252.5M1224.4 924.8v6.6M1252.5 924.8v6.6M1335.5 933.7H1351.7M1335.5 930.4v6.6M1351.7 930.4v6.6M1419.7 937.8H1461.5M1419.7 934.5v6.6M1461.5 934.5v6.6M1405.6 946.3H1418.2M1405.6 943v6.6M1418.2 943v6.6M1470 946.5H1493.6M1470 943.2v6.6M1493.6 943.2v6.6M1430.1 954.3H1440.9M1430.1 951v6.6M1440.9 951v6.6M1447.9 959.3H1460.9M1447.9 956v6.6M1460.9 956v6.6M1383.8 960.4H1396.3M1383.8 957.1v6.6M1396.3 957.1v6.6M1375.3 961H1389.4M1375.3 957.7v6.6M1389.4 957.7v6.6M1252.5 964H1287.6M1252.5 960.7v6.6M1287.6 960.7v6.6M1345.4 968.4H1358.9M1345.4 965.1v6.6M1358.9 965.1v6.6M1307.3 969.9H1330.1M1307.3 966.6v6.6M1330.1 966.6v6.6M1278.9 971.8H1296.3M1278.9 968.5v6.6M1296.3 968.5v6.6M1278.3 977.5H1299.9M1278.3 974.2v6.6M1299.9 974.2v6.6M1227.2 976.4H1255.3M1227.2 973.1v6.6M1255.3 973.1v6.6M1470.6 984.8H1482.5M1470.6 981.5v6.6M1482.5 981.5v6.6M1319.4 988.5H1335M1319.4 985.2v6.6M1335 985.2v6.6M1228.5 995.7H1268.5M1228.5 992.4v6.6M1268.5 992.4v6.6M1458.5 999.3H1468.4M1458.5 996v6.6M1468.4 996v6.6M1262.5 1005.4H1277.6M1262.5 1002.1v6.6M1277.6 1002.1v6.6M1276.6 1006.1H1289.6M1276.6 1002.8v6.6M1289.6 1002.8v6.6M1278.1 1007.1H1286.7M1278.1 1003.8v6.6M1286.7 1003.8v6.6M1364.3 1005.2H1374.4M1364.3 1001.9v6.6M1374.4 1001.9v6.6M1346.3 1006.1H1370.1M1346.3 1002.8v6.6M1370.1 1002.8v6.6M1348 1008.9H1363.2M1348 1005.6v6.6M1363.2 1005.6v6.6M1396.5 1005.2H1412.3M1396.5 1001.9v6.6M1412.3 1001.9v6.6M1400.4 1010.6H1421.4M1400.4 1007.3v6.6M1421.4 1007.3v6.6M1283.9 1011.5H1310.3M1283.9 1008.2v6.6M1310.3 1008.2v6.6M1442.2 1012.1H1455.2M1442.2 1008.8v6.6M1455.2 1008.8v6.6M1230.2 1015.8H1260.5M1230.2 1012.5v6.6M1260.5 1012.5v6.6M1266.6 1019.3H1291.5M1266.6 1016v6.6M1291.5 1016v6.6M1310.3 1023.4H1327M1310.3 1020.1v6.6M1327 1020.1v6.6M1235.6 1026.4H1266.8M1235.6 1023.1v6.6M1266.8 1023.1v6.6M1402.6 1027.3H1424.5M1402.6 1024v6.6M1424.5 1024v6.6M1403.3 1031.2H1418.4M1403.3 1027.9v6.6M1418.4 1027.9v6.6M1439.6 1032.3H1478.6M1439.6 1029v6.6M1478.6 1029v6.6M1336.8 1033.3H1354.1M1336.8 1030v6.6M1354.1 1030v6.6M1311.4 1039.8H1338.5M1311.4 1036.5v6.6M1338.5 1036.5v6.6M1387.4 1040.1H1421.7M1387.4 1036.8v6.6M1421.7 1036.8v6.6M1430.8 1041.6H1437.3M1430.8 1038.3v6.6M1437.3 1038.3v6.6M1283.7 1045.5H1292.4M1283.7 1042.2v6.6M1292.4 1042.2v6.6M1389.4 1046.8H1397.2M1389.4 1043.5v6.6M1397.2 1043.5v6.6M1404.5 1047.2H1419.3M1404.5 1043.9v6.6M1419.3 1043.9v6.6M1367.5 1053.9H1390.3M1367.5 1050.6v6.6M1390.3 1050.6v6.6M1325.7 1055.4H1340.4M1325.7 1052.1v6.6M1340.4 1052.1v6.6M1347.6 1055.4H1362.3M1347.6 1052.1v6.6M1362.3 1052.1v6.6M1372.9 1058H1379.4M1372.9 1054.7v6.6M1379.4 1054.7v6.6M1385.9 1059.8H1394.6M1385.9 1056.5v6.6M1394.6 1056.5v6.6M1335.7 1060.2H1369.2M1335.7 1056.9v6.6M1369.2 1056.9v6.6M1393.1 1069.7H1404.3M1393.1 1066.4v6.6M1404.3 1066.4v6.6M1256.6 1073H1293.5M1256.6 1069.7v6.6M1293.5 1069.7v6.6M1292.6 1073.2H1312.5M1292.6 1069.9v6.6M1312.5 1069.9v6.6M1374.7 1074.1H1384.2M1374.7 1070.8v6.6M1384.2 1070.8v6.6M1472.6 1074.1H1488.1M1472.6 1070.8v6.6M1488.1 1070.8v6.6M1337.6 1075.4H1373.6M1337.6 1072.1v6.6M1373.6 1072.1v6.6M1430.5 1076.4H1441.4M1430.5 1073.1v6.6M1441.4 1073.1v6.6M1437.9 1081.2H1448.7M1437.9 1077.9v6.6M1448.7 1077.9v6.6M1375.7 1083.4H1387.4M1375.7 1080.1v6.6M1387.4 1080.1v6.6M1281.5 1088.3H1300.8M1281.5 1085v6.6M1300.8 1085v6.6M1343.9 1088.8H1350.4M1343.9 1085.5v6.6M1350.4 1085.5v6.6M1351.7 1089.4H1369M1351.7 1086.1v6.6M1369 1086.1v6.6M1319.7 1090.3H1330.5M1319.7 1087v6.6M1330.5 1087v6.6M1280.5 1093.8H1298.9M1280.5 1090.5v6.6M1298.9 1090.5v6.6M1356.7 1092.7H1365.4M1356.7 1089.4v6.6M1365.4 1089.4v6.6M1348.5 1094.8H1385.3M1348.5 1091.5v6.6M1385.3 1091.5v6.6M1390.7 1097H1402.8M1390.7 1093.7v6.6M1402.8 1093.7v6.6M1114.6 1106H1136.5M1114.6 1102.7v6.6M1136.5 1102.7v6.6M1053.5 1109.1H1068.3M1053.5 1105.8v6.6M1068.3 1105.8v6.6M1067.4 1112.1H1090.6M1067.4 1108.8v6.6M1090.6 1108.8v6.6M1196.3 1117.7H1218.1M1196.3 1114.4v6.6M1218.1 1114.4v6.6M974.7 1122.5H1011.1M974.7 1119.2v6.6M1011.1 1119.2v6.6M1079.3 1124.2H1096.2M1079.3 1120.9v6.6M1096.2 1120.9v6.6M1156.6 1123.8H1182.2M1156.6 1120.5v6.6M1182.2 1120.5v6.6M1124.1 1125.3H1139.3M1124.1 1122v6.6M1139.3 1122v6.6M1127.4 1126.8H1156.6M1127.4 1123.5v6.6M1156.6 1123.5v6.6M1121.5 1129.6H1146.4M1121.5 1126.3v6.6M1146.4 1126.3v6.6M1105.7 1134.2H1136.1M1105.7 1130.9v6.6M1136.1 1130.9v6.6M1098.8 1134.4H1117.2M1098.8 1131.1v6.6M1117.2 1131.1v6.6M1078.4 1147.4H1103.4M1078.4 1144.1v6.6M1103.4 1144.1v6.6M1118.3 1161.5H1129.6M1118.3 1158.2v6.6M1129.6 1158.2v6.6M1076.3 1167.5H1097.3M1076.3 1164.2v6.6M1097.3 1164.2v6.6M1149.5 1167.3H1165.1M1149.5 1164v6.6M1165.1 1164v6.6M1179.4 1171.9H1196.7M1179.4 1168.6v6.6M1196.7 1168.6v6.6M986 1174H1007.6M986 1170.7v6.6M1007.6 1170.7v6.6M1075.4 1182.3H1090.6M1075.4 1179v6.6M1090.6 1179v6.6M1114.4 1181.6H1133.7M1114.4 1178.3v6.6M1133.7 1178.3v6.6M1174.6 1187.2H1192.4M1174.6 1183.9v6.6M1192.4 1183.9v6.6M936.6 1188.5H961.5M936.6 1185.2v6.6M961.5 1185.2v6.6M985.5 1218.6H1003.3M985.5 1215.3v6.6M1003.3 1215.3v6.6M1222.9 1225.4H1235.5M1222.9 1222.1v6.6M1235.5 1222.1v6.6M1019.5 1229.5H1056.4M1019.5 1226.2v6.6M1056.4 1226.2v6.6M1191.5 1332.6H1222.5M1191.5 1329.3v6.6M1222.5 1329.3v6.6M1299.3 1098H1312.3M1299.3 1094.7v6.6M1312.3 1094.7v6.6M1305.8 1099.7H1325.3M1305.8 1096.4v6.6M1325.3 1096.4v6.6M1317.7 1099.3H1348M1317.7 1096v6.6M1348 1096v6.6M1325.3 1100.4H1358.9M1325.3 1097.1v6.6M1358.9 1097.1v6.6M1388.5 1103.6H1398.1M1388.5 1100.3v6.6M1398.1 1100.3v6.6M1276.3 1106.2H1297.4M1276.3 1102.9v6.6M1297.4 1102.9v6.6M1297.8 1109.5H1310.8M1297.8 1106.2v6.6M1310.8 1106.2v6.6M1290.2 1110.6H1310.8M1290.2 1107.3v6.6M1310.8 1107.3v6.6M1230 1111.2H1263.6M1230 1107.9v6.6M1263.6 1107.9v6.6M1330.3 1112.3H1339.8M1330.3 1109v6.6M1339.8 1109v6.6M1406.5 1112.5H1422.3M1406.5 1109.2v6.6M1422.3 1109.2v6.6M1279.4 1113.8H1297.1M1279.4 1110.5v6.6M1297.1 1110.5v6.6M1314.2 1115.3H1329.4M1314.2 1112v6.6M1329.4 1112v6.6M1333.5 1117.5H1340M1333.5 1114.2v6.6M1340 1114.2v6.6M1229.6 1117.7H1250.1M1229.6 1114.4v6.6M1250.1 1114.4v6.6M1242.6 1119.2H1290.6M1242.6 1115.9v6.6M1290.6 1115.9v6.6M1431 1117.9H1443.5M1431 1114.6v6.6M1443.5 1114.6v6.6M1294.5 1123.6H1311.9M1294.5 1120.3v6.6M1311.9 1120.3v6.6M1229.6 1127.2H1262.7M1229.6 1123.9v6.6M1262.7 1123.9v6.6M1322.7 1128.5H1340.4M1322.7 1125.2v6.6M1340.4 1125.2v6.6M1316.6 1130.3H1337.2M1316.6 1127v6.6M1337.2 1127v6.6M1379.4 1130.3H1394.2M1379.4 1127v6.6M1394.2 1127v6.6M1445.9 1134.8H1454.6M1445.9 1131.5v6.6M1454.6 1131.5v6.6M1508.3 1141.3H1522.8M1508.3 1138v6.6M1522.8 1138v6.6M1410.6 1143.7H1422.7M1410.6 1140.4v6.6M1422.7 1140.4v6.6M1431.6 1143.1H1438.1M1431.6 1139.8v6.6M1438.1 1139.8v6.6M1230 1147H1256.6M1230 1143.7v6.6M1256.6 1143.7v6.6M1286.3 1146.3H1309.5M1286.3 1143v6.6M1309.5 1143v6.6M1332.7 1147.6H1350.4M1332.7 1144.3v6.6M1350.4 1144.3v6.6M1366.7 1147H1387.2M1366.7 1143.7v6.6M1387.2 1143.7v6.6M1530.6 1159.9H1539.3M1530.6 1156.6v6.6M1539.3 1156.6v6.6M1324.2 1160.6H1345.4M1324.2 1157.3v6.6M1345.4 1157.3v6.6M1359.7 1159.7H1370.5M1359.7 1156.4v6.6M1370.5 1156.4v6.6M1273.7 1162.5H1280.2M1273.7 1159.2v6.6M1280.2 1159.2v6.6M1310.1 1163.6H1316.6M1310.1 1160.3v6.6M1316.6 1160.3v6.6M1312.7 1162.5H1325.7M1312.7 1159.2v6.6M1325.7 1159.2v6.6M1406.5 1165.6H1422.1M1406.5 1162.3v6.6M1422.1 1162.3v6.6M1412.6 1167.5H1430.3M1412.6 1164.2v6.6M1430.3 1164.2v6.6M1289.8 1169.3H1296.3M1289.8 1166v6.6M1296.3 1166v6.6M1429.5 1169.7H1445M1429.5 1166.4v6.6M1445 1166.4v6.6M1360.2 1171.9H1366.7M1360.2 1168.6v6.6M1366.7 1168.6v6.6M1236.1 1175.3H1249.5M1236.1 1172v6.6M1249.5 1172v6.6M1249.1 1174.2H1258.6M1249.1 1170.9v6.6M1258.6 1170.9v6.6M1421.2 1178.8H1432.1M1421.2 1175.5v6.6M1432.1 1175.5v6.6M1344.8 1180.1H1363.6M1344.8 1176.8v6.6M1363.6 1176.8v6.6M1364.7 1185.5H1383.5M1364.7 1182.2v6.6M1383.5 1182.2v6.6M1341.5 1188.5H1356.3M1341.5 1185.2v6.6M1356.3 1185.2v6.6M1402.4 1188.8H1407.6M1402.4 1185.5v6.6M1407.6 1185.5v6.6M1249.9 1193.1H1260.3M1249.9 1189.8v6.6M1260.3 1189.8v6.6M1338.3 1195H1347.4M1338.3 1191.7v6.6M1347.4 1191.7v6.6M1358.9 1196.1H1374M1358.9 1192.8v6.6M1374 1192.8v6.6M1367.1 1195H1382.2M1367.1 1191.7v6.6M1382.2 1191.7v6.6M1271.6 1201.7H1295.6M1271.6 1198.4v6.6M1295.6 1198.4v6.6M1230 1203.5H1245.2M1230 1200.2v6.6M1245.2 1200.2v6.6M1363.4 1205.4H1383.3M1363.4 1202.1v6.6M1383.3 1202.1v6.6M1275.9 1214.1H1287.2M1275.9 1210.8v6.6M1287.2 1210.8v6.6M1386.1 1218.9H1398.3M1386.1 1215.6v6.6M1398.3 1215.6v6.6M1347.4 1234H1362.1M1347.4 1230.7v6.6M1362.1 1230.7v6.6M1318.4 1242.7H1348.7M1318.4 1239.4v6.6M1348.7 1239.4v6.6M1257.5 1246.4H1267.7M1257.5 1243.1v6.6M1267.7 1243.1v6.6M1299.3 1250.7H1314.5M1299.3 1247.4v6.6M1314.5 1247.4v6.6M1281.5 1259.6H1299.9M1281.5 1256.3v6.6M1299.9 1256.3v6.6M1307.5 1264.8H1320.5M1307.5 1261.5v6.6M1320.5 1261.5v6.6M1249.5 1291.6H1267.9M1249.5 1288.3v6.6M1267.9 1288.3v6.6M1270.7 1291.6H1287.6M1270.7 1288.3v6.6M1287.6 1288.3v6.6M1321.4 1311.5H1334.8M1321.4 1308.2v6.6M1334.8 1308.2v6.6M1259.9 1324.5H1280.5M1259.9 1321.2v6.6M1280.5 1321.2v6.6M1436.4 1341.6H1445.9M1436.4 1338.3v6.6M1445.9 1338.3v6.6M1340 1382.8H1387.7M1340 1379.5v6.6M1387.7 1379.5v6.6" stroke="#000" stroke-opacity="0.6" stroke-width="1" fill="none"/></g>
<g clip-path="url(#cpe)"><g fill="#7f7f7f" fill-opacity="0.7"><path d="M207 2158.1l6 6l-6 6l-6 -6z"/><path d="M246.2 2158.1l6 6l-6 6l-6 -6z"/><path d="M250.1 2158.1l6 6l-6 6l-6 -6z"/><path d="M271.1 2158.1l6 6l-6 6l-6 -6z"/><path d="M280.8 2158.1l6 6l-6 6l-6 -6z"/><path d="M290.1 2158.1l6 6l-6 6l-6 -6z"/><path d="M293.2 2158.1l6 6l-6 6l-6 -6z"/><path d="M310.1 2158.1l6 6l-6 6l-6 -6z"/><path d="M312.2 2158.1l6 6l-6 6l-6 -6z"/><path d="M324.1 2158.1l6 6l-6 6l-6 -6z"/><path d="M329.6 2158.1l6 6l-6 6l-6 -6z"/><path d="M334.5 2158.1l6 6l-6 6l-6 -6z"/><path d="M348.2 2158.1l6 6l-6 6l-6 -6z"/><path d="M361.6 2158.1l6 6l-6 6l-6 -6z"/><path d="M366.8 2158.1l6 6l-6 6l-6 -6z"/><path d="M376.8 2158.1l6 6l-6 6l-6 -6z"/><path d="M382.2 2158.1l6 6l-6 6l-6 -6z"/><path d="M386.9 2158.1l6 6l-6 6l-6 -6z"/><path d="M390.2 2158.1l6 6l-6 6l-6 -6z"/><path d="M392.4 2158.1l6 6l-6 6l-6 -6z"/><path d="M404.1 2158.1l6 6l-6 6l-6 -6z"/><path d="M425.3 2158.1l6 6l-6 6l-6 -6z"/></g><g fill="#383838" fill-opacity="0.9"><circle cx="574.5" cy="1594.6" r="3.2"/><circle cx="686.9" cy="1591.3" r="3.2"/><circle cx="703.1" cy="1600.4" r="3.2"/><circle cx="675.6" cy="1649.6" r="3.2"/><circle cx="633.4" cy="1688.6" r="3.2"/><circle cx="358.3" cy="1822.9" r="3.2"/><circle cx="348.4" cy="1832.9" r="3.2"/><circle cx="350.4" cy="1845" r="2.9"/><circle cx="322.7" cy="1867.6" r="3.2"/><circle cx="330.2" cy="1863.5" r="3.2"/><circle cx="343.4" cy="1864.3" r="3.2"/><circle cx="298.2" cy="1873.1" r="3.2"/><circle cx="310" cy="1872.1" r="3.2"/><circle cx="348.1" cy="1871.8" r="2.9"/><circle cx="322.7" cy="1875.9" r="3.2"/><circle cx="285.5" cy="1884.2" r="3.2"/><circle cx="292.4" cy="1887.8" r="3.2"/><circle cx="317.8" cy="1880.2" r="3.2"/><circle cx="320.3" cy="1883.9" r="3.2"/><circle cx="333.8" cy="1885.5" r="3.2"/><circle cx="354.4" cy="1889.8" r="3.2"/><circle cx="278" cy="1892" r="3.2"/><circle cx="290.1" cy="1895.5" r="3.2"/><circle cx="301" cy="1895" r="3.2"/><circle cx="305.7" cy="1888.3" r="3.2"/><circle cx="315.5" cy="1893.1" r="3.2"/><circle cx="346.6" cy="1892" r="3.2"/><circle cx="233.8" cy="1899.1" r="3.2"/><circle cx="236.6" cy="1904.4" r="3.2"/><circle cx="276" cy="1900.3" r="2.9"/><circle cx="284.5" cy="1904.1" r="3.2"/><circle cx="298.9" cy="1898.1" r="3.2"/><circle cx="311" cy="1897.6" r="3.2"/><circle cx="320.1" cy="1904.2" r="3.2"/><circle cx="344.8" cy="1901.9" r="3.2"/><circle cx="355.2" cy="1901.9" r="3.2"/><circle cx="267.3" cy="1909.5" r="3.2"/><circle cx="285.8" cy="1907.9" r="3.2"/><circle cx="293.9" cy="1911.4" r="3.2"/><circle cx="300.5" cy="1911.7" r="3.2"/><circle cx="313.6" cy="1910.5" r="3.2"/><circle cx="319.8" cy="1912.2" r="3.2"/><circle cx="343.4" cy="1906.1" r="3.2"/><circle cx="351.6" cy="1913.5" r="3.2"/><circle cx="360.8" cy="1906.9" r="3.2"/><circle cx="271.4" cy="1920.3" r="3.2"/><circle cx="289.1" cy="1916" r="3.2"/><circle cx="293.9" cy="1917.7" r="3.2"/><circle cx="304.9" cy="1916.5" r="3.2"/><circle cx="315.1" cy="1914.2" r="3.2"/><circle cx="324.6" cy="1914.5" r="3.2"/><circle cx="338.3" cy="1914.5" r="3.2"/><circle cx="348.9" cy="1918.6" r="3.2"/><circle cx="389.7" cy="1767.5" r="3.2"/><circle cx="388.9" cy="1769.1" r="3.2"/><circle cx="396.7" cy="1772.9" r="2.9"/><circle cx="599.6" cy="1776.1" r="2.9"/><circle cx="376.5" cy="1786.5" r="2.9"/><circle cx="442.4" cy="1785.3" r="3.2"/><circle cx="433.6" cy="1788.2" r="3.2"/><circle cx="544.6" cy="1802.7" r="2.9"/><circle cx="529.7" cy="1806" r="2.9"/><circle cx="419.2" cy="1805" r="3.2"/><circle cx="397.2" cy="1815.5" r="3.2"/><circle cx="399.7" cy="1820.9" r="3.2"/><circle cx="362.4" cy="1820.4" r="3.2"/><circle cx="359.1" cy="1822.9" r="3.2"/><circle cx="410.4" cy="1824.9" r="3.2"/><circle cx="424.2" cy="1832.9" r="2.9"/><circle cx="445.2" cy="1829.9" r="3.2"/><circle cx="452.7" cy="1837.3" r="3.2"/><circle cx="358.3" cy="1832.5" r="3.2"/><circle cx="371.5" cy="1835.5" r="3.2"/><circle cx="376.5" cy="1832.9" r="3.2"/><circle cx="375.2" cy="1834.2" r="3.2"/><circle cx="430.3" cy="1843.6" r="3.2"/><circle cx="432.8" cy="1848.9" r="3.2"/><circle cx="394.2" cy="1852.2" r="3.2"/><circle cx="365.6" cy="1849.4" r="3.2"/><circle cx="367.6" cy="1847.4" r="3.2"/><circle cx="375.2" cy="1845.5" r="3.2"/><circle cx="427.8" cy="1854.4" r="2.9"/><circle cx="394.4" cy="1854.7" r="3.2"/><circle cx="418.2" cy="1857.7" r="3.2"/><circle cx="410.4" cy="1859.4" r="3.2"/><circle cx="387.8" cy="1861.3" r="2.9"/><circle cx="419.6" cy="1868.5" r="3.2"/><circle cx="388.1" cy="1868.5" r="3.2"/><circle cx="364.2" cy="1863" r="3.2"/><circle cx="372.7" cy="1871.1" r="3.2"/><circle cx="367.1" cy="1873.1" r="3.2"/><circle cx="361.3" cy="1869" r="3.2"/><circle cx="419.9" cy="1883.4" r="3.2"/><circle cx="434.8" cy="1889.2" r="2.9"/><circle cx="363.2" cy="1879.6" r="3.2"/><circle cx="367.1" cy="1884.2" r="3.2"/><circle cx="356.6" cy="1890.8" r="3.2"/><circle cx="407.1" cy="1913.7" r="3.2"/><circle cx="363.9" cy="1895.5" r="3.2"/><circle cx="361.9" cy="1902.3" r="3.2"/><circle cx="373.2" cy="1906.1" r="3.2"/><circle cx="383.9" cy="1901.6" r="3.2"/><circle cx="384.8" cy="1918.2" r="3.2"/><circle cx="350.3" cy="1912.5" r="3.2"/><circle cx="357.8" cy="1920.3" r="3.2"/><circle cx="261.5" cy="1919.6" r="3.2"/><circle cx="258.2" cy="1927.4" r="3.2"/><circle cx="265.6" cy="1948.1" r="3.2"/><circle cx="265.6" cy="1956" r="3.2"/><circle cx="255.7" cy="1979.2" r="3.2"/><circle cx="261.5" cy="1999.9" r="3.2"/><circle cx="290.4" cy="1977.9" r="3.2"/><circle cx="299.6" cy="1991.1" r="3.2"/><circle cx="311.1" cy="1981.5" r="3.2"/><circle cx="336.8" cy="1996.1" r="3.2"/><circle cx="330.2" cy="1916.6" r="3.2"/><circle cx="351.7" cy="1965.5" r="3.2"/><circle cx="355" cy="1948.1" r="3.2"/><circle cx="277.5" cy="1949.7" r="3.2"/><circle cx="298.9" cy="1952.9" r="3.2"/><circle cx="303.7" cy="1958.9" r="3.2"/><circle cx="308.7" cy="1959.7" r="3.2"/><circle cx="316.9" cy="1962.7" r="3.2"/><circle cx="321.1" cy="1949.7" r="3.2"/><circle cx="191.4" cy="2036.2" r="3.2"/><circle cx="227.2" cy="2033.4" r="3.2"/><circle cx="264.8" cy="1912.3" r="3.2"/><circle cx="273.6" cy="1921.1" r="3.2"/><circle cx="256.3" cy="1927.2" r="3.2"/><circle cx="270.9" cy="1931.2" r="3.2"/><circle cx="276.5" cy="1936.7" r="3.2"/><circle cx="277.5" cy="1946.8" r="3.2"/><circle cx="291.9" cy="1913.8" r="3.2"/><circle cx="296.7" cy="1919.9" r="3.2"/><circle cx="306.7" cy="1910.3" r="3.2"/><circle cx="290.9" cy="1928.7" r="3.2"/><circle cx="307.2" cy="1933" r="3.2"/><circle cx="295.2" cy="1937.3" r="3.2"/><circle cx="285.5" cy="1945.1" r="3.2"/><circle cx="313" cy="1923.2" r="3.2"/><circle cx="318.9" cy="1917.3" r="3.2"/><circle cx="326.9" cy="1914" r="3.2"/><circle cx="323.1" cy="1931" r="3.2"/><circle cx="344.9" cy="1913.3" r="3.2"/><circle cx="348.7" cy="1916.6" r="3.2"/><circle cx="354.2" cy="1914.6" r="3.2"/><circle cx="357.2" cy="1924.4" r="3.2"/><circle cx="353.9" cy="1941.1" r="3.2"/><circle cx="303.2" cy="1942.3" r="3.2"/><circle cx="371.5" cy="1929" r="3.2"/><circle cx="383.1" cy="1930.2" r="3.2"/><circle cx="391.1" cy="1930.5" r="3.2"/><circle cx="360.3" cy="1932.4" r="3.2"/><circle cx="355.8" cy="1943.9" r="3.2"/><circle cx="354.1" cy="1948.9" r="3.2"/><circle cx="384.4" cy="1957.7" r="3.2"/><circle cx="362.4" cy="1963.8" r="3.2"/><circle cx="352.5" cy="1965.5" r="3.2"/><circle cx="351.7" cy="1919.9" r="3.2"/><circle cx="353.3" cy="1913.3" r="3.2"/></g><path d="M571.9 1594.6H577.1M571.9 1591.3v6.6M577.1 1591.3v6.6M574.5 1592V1597.2M571.2 1592h6.6M571.2 1597.2h6.6M682.6 1591.3H690.8M682.6 1588v6.6M690.8 1588v6.6M686.9 1584.4V1598.5M683.6 1584.4h6.6M683.6 1598.5h6.6M698.8 1600.4H707.5M698.8 1597.1v6.6M707.5 1597.1v6.6M703.1 1592.2V1609.7M699.8 1592.2h6.6M699.8 1609.7h6.6M673 1649.6H678.2M673 1646.3v6.6M678.2 1646.3v6.6M675.6 1640.5V1659.3M672.3 1640.5h6.6M672.3 1659.3h6.6M630.8 1688.6H636M630.8 1685.3v6.6M636 1685.3v6.6M633.4 1679.9V1698.3M630.1 1679.9h6.6M630.1 1698.3h6.6M351.7 1822.9H365M351.7 1819.6v6.6M365 1819.6v6.6M358.3 1820.4V1825.4M355 1820.4h6.6M355 1825.4h6.6M343.4 1832.9H353.4M343.4 1829.6v6.6M353.4 1829.6v6.6M348.4 1829.6V1836.2M345.1 1829.6h6.6M345.1 1836.2h6.6M347.1 1845H353.7M347.1 1841.7v6.6M353.7 1841.7v6.6M350.4 1843.3V1846.6M347.1 1843.3h6.6M347.1 1846.6h6.6M301.2 1867.6H332.7M301.2 1864.3v6.6M332.7 1864.3v6.6M322.7 1864.3V1871M319.4 1864.3h6.6M319.4 1871h6.6M325.2 1863.5H335.2M325.2 1860.2v6.6M335.2 1860.2v6.6M330.2 1860.2V1866.8M326.9 1860.2h6.6M326.9 1866.8h6.6M338.5 1864.3H348.4M338.5 1861v6.6M348.4 1861v6.6M343.4 1861V1867.6M340.1 1861h6.6M340.1 1867.6h6.6M286.6 1873.1H306.5M286.6 1869.8v6.6M306.5 1869.8v6.6M298.2 1870.6V1875.6M294.9 1870.6h6.6M294.9 1875.6h6.6M300.9 1872.1H317.6M300.9 1868.8v6.6M317.6 1868.8v6.6M310 1869.6V1875.1M306.7 1869.6h6.6M306.7 1875.1h6.6M344.8 1871.8H351.4M344.8 1868.5v6.6M351.4 1868.5v6.6M348.1 1870.1V1873.4M344.8 1870.1h6.6M344.8 1873.4h6.6M317.8 1875.9H327.7M317.8 1872.6v6.6M327.7 1872.6v6.6M322.7 1869.3V1882.5M319.4 1869.3h6.6M319.4 1882.5h6.6M274.2 1884.2H295.4M274.2 1880.9v6.6M295.4 1880.9v6.6M285.5 1880.9V1887.5M282.2 1880.9h6.6M282.2 1887.5h6.6M289.1 1887.8H295.2M289.1 1884.5v6.6M295.2 1884.5v6.6M292.4 1882.9V1893.8M289.1 1882.9h6.6M289.1 1893.8h6.6M306.2 1880.2H327.5M306.2 1876.9v6.6M327.5 1876.9v6.6M317.8 1876.9V1884.2M314.5 1876.9h6.6M314.5 1884.2h6.6M311.1 1883.9H327.9M311.1 1880.6v6.6M327.9 1880.6v6.6M320.3 1877.2V1891.8M317 1877.2h6.6M317 1891.8h6.6M330.5 1885.5H336.6M330.5 1882.2v6.6M336.6 1882.2v6.6M333.8 1878.9V1893.5M330.5 1878.9h6.6M330.5 1893.5h6.6M351.1 1889.8H357.2M351.1 1886.5v6.6M357.2 1886.5v6.6M354.4 1886.5V1893.8M351.1 1886.5h6.6M351.1 1893.8h6.6M268.4 1892H286.3M268.4 1888.7v6.6M286.3 1888.7v6.6M278 1887V1897M274.7 1887h6.6M274.7 1897h6.6M278.5 1895.5H299.9M278.5 1892.2v6.6M299.9 1892.2v6.6M290.1 1893V1898.4M286.8 1893h6.6M286.8 1898.4h6.6M291.9 1895H308.7M291.9 1891.7v6.6M308.7 1891.7v6.6M301 1892.5V1897.9M297.7 1892.5h6.6M297.7 1897.9h6.6M294.1 1888.3H315.5M294.1 1885v6.6M315.5 1885v6.6M305.7 1885V1892.3M302.4 1885h6.6M302.4 1892.3h6.6M310.5 1893.1H319.6M310.5 1889.8v6.6M319.6 1889.8v6.6M315.5 1890.7V1896.1M312.2 1890.7h6.6M312.2 1896.1h6.6M335 1892H356.4M335 1888.7v6.6M356.4 1888.7v6.6M346.6 1888.7V1896M343.3 1888.7h6.6M343.3 1896h6.6M219.7 1899.1H244.6M219.7 1895.8v6.6M244.6 1895.8v6.6M233.8 1895V1903.2M230.5 1895h6.6M230.5 1903.2h6.6M230.8 1904.4H242.4M230.8 1901.1v6.6M242.4 1901.1v6.6M236.6 1901.9V1906.9M233.3 1901.9h6.6M233.3 1906.9h6.6M251.5 1900.3H281M251.5 1897v6.6M281 1897v6.6M276 1897.8V1902.8M272.7 1897.8h6.6M272.7 1902.8h6.6M272.9 1904.1H294.3M272.9 1900.8v6.6M294.3 1900.8v6.6M284.5 1900.8V1908.1M281.2 1900.8h6.6M281.2 1908.1h6.6M287.3 1898.1H308.7M287.3 1894.8v6.6M308.7 1894.8v6.6M298.9 1895.6V1901.1M295.6 1895.6h6.6M295.6 1901.1h6.6M299.4 1897.6H320.8M299.4 1894.3v6.6M320.8 1894.3v6.6M311 1894.3V1901.6M307.7 1894.3h6.6M307.7 1901.6h6.6M308.5 1904.2H329.9M308.5 1900.9v6.6M329.9 1900.9v6.6M320.1 1897.6V1912.2M316.8 1897.6h6.6M316.8 1912.2h6.6M333.2 1901.9H354.5M333.2 1898.6v6.6M354.5 1898.6v6.6M344.8 1895.3V1909.9M341.5 1895.3h6.6M341.5 1909.9h6.6M350.2 1901.9H359.3M350.2 1898.6v6.6M359.3 1898.6v6.6M355.2 1898.6V1905.9M351.9 1898.6h6.6M351.9 1905.9h6.6M255.7 1909.5H275.5M255.7 1906.2v6.6M275.5 1906.2v6.6M267.3 1906.2V1912.9M264 1906.2h6.6M264 1912.9h6.6M282.5 1907.9H288.6M282.5 1904.6v6.6M288.6 1904.6v6.6M285.8 1902.9V1913.8M282.5 1902.9h6.6M282.5 1913.8h6.6M287.3 1911.4H299.6M287.3 1908.1v6.6M299.6 1908.1v6.6M293.9 1904.7V1919.3M290.6 1904.7h6.6M290.6 1919.3h6.6M297.2 1911.7H303.4M297.2 1908.4v6.6M303.4 1908.4v6.6M300.5 1909.2V1914.7M297.2 1909.2h6.6M297.2 1914.7h6.6M308.7 1910.5H317.8M308.7 1907.2v6.6M317.8 1907.2v6.6M313.6 1905.6V1916.5M310.3 1905.6h6.6M310.3 1916.5h6.6M310.6 1912.2H327.4M310.6 1908.9v6.6M327.4 1908.9v6.6M319.8 1909.7V1915.2M316.5 1909.7h6.6M316.5 1915.2h6.6M331.8 1906.1H353.2M331.8 1902.8v6.6M353.2 1902.8v6.6M343.4 1901.1V1912M340.1 1901.1h6.6M340.1 1912h6.6M344.9 1913.5H357.2M344.9 1910.2v6.6M357.2 1910.2v6.6M351.6 1906.9V1921.5M348.3 1906.9h6.6M348.3 1921.5h6.6M357.5 1906.9H363.6M357.5 1903.6v6.6M363.6 1903.6v6.6M360.8 1904.4V1909.9M357.5 1904.4h6.6M357.5 1909.9h6.6M268.1 1920.3H274.2M268.1 1917v6.6M274.2 1917v6.6M271.4 1917.8V1923.3M268.1 1917.8h6.6M268.1 1923.3h6.6M277.5 1916H298.9M277.5 1912.7v6.6M298.9 1912.7v6.6M289.1 1909.4V1923.9M285.8 1909.4h6.6M285.8 1923.9h6.6M287.3 1917.7H299.6M287.3 1914.4v6.6M299.6 1914.4v6.6M293.9 1915.2V1920.6M290.6 1915.2h6.6M290.6 1920.6h6.6M299.9 1916.5H309M299.9 1913.2v6.6M309 1913.2v6.6M304.9 1914V1919.5M301.6 1914h6.6M301.6 1919.5h6.6M310.2 1914.2H319.3M310.2 1910.9v6.6M319.3 1910.9v6.6M315.1 1909.2V1920.1M311.8 1909.2h6.6M311.8 1920.1h6.6M315.5 1914.5H332.2M315.5 1911.2v6.6M332.2 1911.2v6.6M324.6 1907.9V1922.5M321.3 1907.9h6.6M321.3 1922.5h6.6M333.3 1914.5H342.4M333.3 1911.2v6.6M342.4 1911.2v6.6M338.3 1907.9V1922.5M335 1907.9h6.6M335 1922.5h6.6M342.3 1918.6H354.5M342.3 1915.3v6.6M354.5 1915.3v6.6M348.9 1915.3V1922.6M345.6 1915.3h6.6M345.6 1922.6h6.6M371.5 1767.5H403M371.5 1764.2v6.6M403 1764.2v6.6M389.7 1762.5V1772.4M386.4 1762.5h6.6M386.4 1772.4h6.6M385.6 1769.1H392.2M385.6 1765.8v6.6M392.2 1765.8v6.6M388.9 1766.6V1771.6M385.6 1766.6h6.6M385.6 1771.6h6.6M393.4 1772.9H400M393.4 1769.6v6.6M400 1769.6v6.6M396.7 1771.3V1774.6M393.4 1771.3h6.6M393.4 1774.6h6.6M592.1 1776.1H606.2M592.1 1772.8v6.6M606.2 1772.8v6.6M599.6 1774.7V1777.4M596.3 1774.7h6.6M596.3 1777.4h6.6M374 1786.5H379M374 1783.2v6.6M379 1783.2v6.6M376.5 1785.2V1787.8M373.2 1785.2h6.6M373.2 1787.8h6.6M439.9 1785.3H444.9M439.9 1782v6.6M444.9 1782v6.6M442.4 1783.7V1787M439.1 1783.7h6.6M439.1 1787h6.6M424.5 1788.2H440.3M424.5 1784.9v6.6M440.3 1784.9v6.6M433.6 1784V1792.3M430.3 1784h6.6M430.3 1792.3h6.6M539.6 1802.7H549.2M539.6 1799.4v6.6M549.2 1799.4v6.6M544.6 1793.1V1813.5M541.3 1793.1h6.6M541.3 1813.5h6.6M527.2 1806H532.2M527.2 1802.7v6.6M532.2 1802.7v6.6M529.7 1804.7V1807.4M526.4 1804.7h6.6M526.4 1807.4h6.6M416.7 1805H421.7M416.7 1801.7v6.6M421.7 1801.7v6.6M419.2 1803.4V1806.7M415.9 1803.4h6.6M415.9 1806.7h6.6M392.2 1815.5H402.2M392.2 1812.2v6.6M402.2 1812.2v6.6M397.2 1810.5V1832M393.9 1810.5h6.6M393.9 1832h6.6M372.4 1820.9H422M372.4 1817.6v6.6M422 1817.6v6.6M399.7 1818.5V1823.4M396.4 1818.5h6.6M396.4 1823.4h6.6M351.7 1820.4H372.4M351.7 1817.1v6.6M372.4 1817.1v6.6M362.4 1818V1822.9M359.1 1818h6.6M359.1 1822.9h6.6M355.8 1822.9H362.4M355.8 1819.6v6.6M362.4 1819.6v6.6M359.1 1820.4V1825.4M355.8 1820.4h6.6M355.8 1825.4h6.6M408 1824.9H412.9M408 1821.6v6.6M412.9 1821.6v6.6M410.4 1822.4V1827.4M407.1 1822.4h6.6M407.1 1827.4h6.6M406.8 1832.9H438.6M406.8 1829.6v6.6M438.6 1829.6v6.6M424.2 1831.2V1834.5M420.9 1831.2h6.6M420.9 1834.5h6.6M441.1 1829.9H449.4M441.1 1826.6v6.6M449.4 1826.6v6.6M445.2 1827.9V1831.9M441.9 1827.9h6.6M441.9 1831.9h6.6M450.2 1837.3H455.2M450.2 1834v6.6M455.2 1834v6.6M452.7 1833.2V1842M449.4 1833.2h6.6M449.4 1842h6.6M351.7 1832.5H363.9M351.7 1829.2v6.6M363.9 1829.2v6.6M358.3 1825.9V1840.5M355 1825.9h6.6M355 1840.5h6.6M362.4 1835.5H379.1M362.4 1832.2v6.6M379.1 1832.2v6.6M371.5 1832.2V1839.5M368.2 1832.2h6.6M368.2 1839.5h6.6M366.6 1832.9H386.4M366.6 1829.6v6.6M386.4 1829.6v6.6M376.5 1829.6V1836.2M373.2 1829.6h6.6M373.2 1836.2h6.6M370.2 1834.2H379.3M370.2 1830.9v6.6M379.3 1830.9v6.6M375.2 1830.9V1838.2M371.9 1830.9h6.6M371.9 1838.2h6.6M427 1843.6H433.6M427 1840.3v6.6M433.6 1840.3v6.6M430.3 1840.3V1846.9M427 1840.3h6.6M427 1846.9h6.6M429.5 1848.9H436.1M429.5 1845.6v6.6M436.1 1845.6v6.6M432.8 1844V1853.9M429.5 1844h6.6M429.5 1853.9h6.6M389.2 1852.2H398.4M389.2 1848.9v6.6M398.4 1848.9v6.6M394.2 1849.8V1855.2M390.9 1849.8h6.6M390.9 1855.2h6.6M360.6 1849.4H369.7M360.6 1846.1v6.6M369.7 1846.1v6.6M365.6 1844.5V1855.4M362.3 1844.5h6.6M362.3 1855.4h6.6M362.6 1847.4H371.7M362.6 1844.1v6.6M371.7 1844.1v6.6M367.6 1840.8V1855.4M364.3 1840.8h6.6M364.3 1855.4h6.6M363.6 1845.5H384.9M363.6 1842.2v6.6M384.9 1842.2v6.6M375.2 1840.5V1851.4M371.9 1840.5h6.6M371.9 1851.4h6.6M425.3 1854.4H430.3M425.3 1851.1v6.6M430.3 1851.1v6.6M427.8 1852.7V1856.1M424.5 1852.7h6.6M424.5 1856.1h6.6M391.1 1854.7H397.7M391.1 1851.4v6.6M397.7 1851.4v6.6M394.4 1851.4V1858M391.1 1851.4h6.6M391.1 1858h6.6M413.3 1857.7H423.2M413.3 1854.4v6.6M423.2 1854.4v6.6M418.2 1851.1V1864.3M414.9 1851.1h6.6M414.9 1864.3h6.6M407.1 1859.4H413.8M407.1 1856.1v6.6M413.8 1856.1v6.6M410.4 1856.1V1862.7M407.1 1856.1h6.6M407.1 1862.7h6.6M385.3 1861.3H390.2M385.3 1858v6.6M390.2 1858v6.6M387.8 1859.7V1863M384.5 1859.7h6.6M384.5 1863h6.6M416.2 1868.5H422.9M416.2 1865.2v6.6M422.9 1865.2v6.6M419.6 1864.3V1872.6M416.3 1864.3h6.6M416.3 1872.6h6.6M384.8 1868.5H391.4M384.8 1865.2v6.6M391.4 1865.2v6.6M388.1 1865.2V1878.4M384.8 1865.2h6.6M384.8 1878.4h6.6M352.6 1863H374M352.6 1859.7v6.6M374 1859.7v6.6M364.2 1860.5V1866M360.9 1860.5h6.6M360.9 1866h6.6M361.1 1871.1H382.5M361.1 1867.8v6.6M382.5 1867.8v6.6M372.7 1864.5V1879.1M369.4 1864.5h6.6M369.4 1879.1h6.6M357.9 1873.1H374.7M357.9 1869.8v6.6M374.7 1869.8v6.6M367.1 1870.6V1876.1M363.8 1870.6h6.6M363.8 1876.1h6.6M352.2 1869H368.9M352.2 1865.7v6.6M368.9 1865.7v6.6M361.3 1866.5V1871.9M358 1866.5h6.6M358 1871.9h6.6M416.6 1883.4H423.2M416.6 1880.1v6.6M423.2 1880.1v6.6M419.9 1879.2V1887.5M416.6 1879.2h6.6M416.6 1887.5h6.6M432.8 1889.2H436.8M432.8 1885.9v6.6M436.8 1885.9v6.6M434.8 1887.5V1890.8M431.5 1887.5h6.6M431.5 1890.8h6.6M358.3 1879.6H367.4M358.3 1876.3v6.6M367.4 1876.3v6.6M363.2 1872.9V1887.5M359.9 1872.9h6.6M359.9 1887.5h6.6M360.4 1884.2H372.7M360.4 1880.9v6.6M372.7 1880.9v6.6M367.1 1881.7V1887.2M363.8 1881.7h6.6M363.8 1887.2h6.6M351.7 1890.8H361.6M351.7 1887.5v6.6M361.6 1887.5v6.6M356.6 1885.9V1897.5M353.3 1885.9h6.6M353.3 1897.5h6.6M405.1 1913.7H409.1M405.1 1910.4v6.6M409.1 1910.4v6.6M403.8 1889.7h6.6M403.8 1954.3h6.6M352.3 1895.5H373.7M352.3 1892.2v6.6M373.7 1892.2v6.6M363.9 1892.2V1899.4M360.6 1892.2h6.6M360.6 1899.4h6.6M355.3 1902.3H367.6M355.3 1899v6.6M367.6 1899v6.6M361.9 1899.8V1905.2M358.6 1899.8h6.6M358.6 1905.2h6.6M368.2 1906.1H378.2M368.2 1902.8v6.6M378.2 1902.8v6.6M373.2 1901.1V1912.7M369.9 1901.1h6.6M369.9 1912.7h6.6M380.6 1901.6H387.3M380.6 1898.3v6.6M387.3 1898.3v6.6M383.9 1897.5V1906.2M380.6 1897.5h6.6M380.6 1906.2h6.6M379.8 1918.2H389.7M379.8 1914.9v6.6M389.7 1914.9v6.6M384.8 1912.4V1944.6M381.5 1912.4h6.6M381.5 1944.6h6.6M338.7 1912.5H360.1M338.7 1909.2v6.6M360.1 1909.2v6.6M350.3 1905.9V1920.5M347 1905.9h6.6M347 1920.5h6.6M351.2 1920.3H363.4M351.2 1917v6.6M363.4 1917v6.6M357.8 1915.3V1926.3M354.5 1915.3h6.6M354.5 1926.3h6.6M217.6 1919.6H271.4M217.6 1916.3v6.6M271.4 1916.3v6.6M261.5 1914.6V1924.6M258.2 1914.6h6.6M258.2 1924.6h6.6M191.9 1927.4H274.7M191.9 1924.1v6.6M274.7 1924.1v6.6M258.2 1924.1V1930.7M254.9 1924.1h6.6M254.9 1930.7h6.6M132.3 1948.1H304.5M132.3 1944.8v6.6M304.5 1944.8v6.6M262.3 1941.5h6.6M262.3 2005.2h6.6M257.3 1956H273.1M257.3 1952.7v6.6M273.1 1952.7v6.6M265.6 1951.1V1967.6M262.3 1951.1h6.6M262.3 1967.6h6.6M244.6 1979.2H264.8M244.6 1975.9v6.6M264.8 1975.9v6.6M255.7 1968.5V1992.5M252.4 1968.5h6.6M252.4 1992.5h6.6M250.2 1999.9H270.1M250.2 1996.6v6.6M270.1 1996.6v6.6M258.2 1978.4h6.6M258.2 2038h6.6M285.5 1977.9H295.1M285.5 1974.6v6.6M295.1 1974.6v6.6M287.1 1958.4h6.6M287.1 2008.2h6.6M293.4 1991.1H305M293.4 1987.8v6.6M305 1987.8v6.6M299.6 1978.7V2006.1M296.3 1978.7h6.6M296.3 2006.1h6.6M306.2 1981.5H315.8M306.2 1978.2v6.6M315.8 1978.2v6.6M311.1 1971.6V2002.2M307.8 1971.6h6.6M307.8 2002.2h6.6M333.5 1996.1H340.1M333.5 1992.8v6.6M340.1 1992.8v6.6M333.5 1971.3h6.6M333.5 2039.2h6.6M325.2 1916.6H335.2M325.2 1913.3v6.6M335.2 1913.3v6.6M326.9 1911.7h6.6M326.9 2032.5h6.6M346.8 1965.5H356.7M346.8 1962.2v6.6M356.7 1962.2v6.6M348.4 1957.2h6.6M348.4 2006.9h6.6M348.4 1948.1H360M348.4 1944.8v6.6M360 1944.8v6.6M355 1943.1V1953.1M351.7 1943.1h6.6M351.7 1953.1h6.6M272.6 1949.7H282.5M272.6 1946.4v6.6M282.5 1946.4v6.6M277.5 1944.8V1974.3M274.2 1944.8h6.6M274.2 1974.3h6.6M289.8 1952.9H306.5M289.8 1949.6v6.6M306.5 1949.6v6.6M298.9 1950.4V1955.9M295.6 1950.4h6.6M295.6 1955.9h6.6M300.4 1958.9H307M300.4 1955.6v6.6M307 1955.6v6.6M303.7 1955.5V1962.2M300.4 1955.5h6.6M300.4 1962.2h6.6M303.7 1959.7H313.6M303.7 1956.4v6.6M313.6 1956.4v6.6M308.7 1956.4V1963M305.4 1956.4h6.6M305.4 1963h6.6M312 1962.7H321.9M312 1959.4v6.6M321.9 1959.4v6.6M316.9 1957.7V1977.6M313.6 1957.7h6.6M313.6 1977.6h6.6M316.1 1949.7H326M316.1 1946.4v6.6M326 1946.4v6.6M321.1 1938.2V1954.7M317.8 1938.2h6.6M317.8 1954.7h6.6M164.6 2036.2H210.1M164.6 2032.9v6.6M210.1 2032.9v6.6M188.1 2005.6h6.6M188.1 2104.1h6.6M222.2 2033.4H231.8M222.2 2030.1v6.6M231.8 2030.1v6.6M223.9 1995.3h6.6M223.9 2195.7h6.6M255.7 1912.3H272.4M255.7 1909v6.6M272.4 1909v6.6M264.8 1905.7V1920.3M261.5 1905.7h6.6M261.5 1920.3h6.6M270.2 1921.1H276.4M270.2 1917.8v6.6M276.4 1917.8v6.6M273.6 1917.8V1925.1M270.3 1917.8h6.6M270.3 1925.1h6.6M249.7 1927.2H262M249.7 1923.9v6.6M262 1923.9v6.6M256.3 1920.6V1935.2M253 1920.6h6.6M253 1935.2h6.6M259.3 1931.2H280.7M259.3 1927.9v6.6M280.7 1927.9v6.6M270.9 1928.7V1934.2M267.6 1928.7h6.6M267.6 1934.2h6.6M269.9 1936.7H282.2M269.9 1933.4v6.6M282.2 1933.4v6.6M276.5 1933.4V1940.6M273.2 1933.4h6.6M273.2 1940.6h6.6M274.2 1946.8H280.3M274.2 1943.5v6.6M280.3 1943.5v6.6M277.5 1941.8V1952.7M274.2 1941.8h6.6M274.2 1952.7h6.6M285.3 1913.8H297.6M285.3 1910.5v6.6M297.6 1910.5v6.6M291.9 1908.8V1919.8M288.6 1908.8h6.6M288.6 1919.8h6.6M291.8 1919.9H300.9M291.8 1916.6v6.6M300.9 1916.6v6.6M296.7 1915V1925.9M293.4 1915h6.6M293.4 1925.9h6.6M295.1 1910.3H316.4M295.1 1907v6.6M316.4 1907v6.6M306.7 1907V1914.3M303.4 1907h6.6M303.4 1914.3h6.6M286 1928.7H295.1M286 1925.4v6.6M295.1 1925.4v6.6M290.9 1925.4V1932.7M287.6 1925.4h6.6M287.6 1932.7h6.6M300.5 1933H312.8M300.5 1929.7v6.6M312.8 1929.7v6.6M307.2 1930.5V1936M303.9 1930.5h6.6M303.9 1936h6.6M286.1 1937.3H302.9M286.1 1934v6.6M302.9 1934v6.6M295.2 1932.4V1943.3M291.9 1932.4h6.6M291.9 1943.3h6.6M273.9 1945.1H295.2M273.9 1941.8v6.6M295.2 1941.8v6.6M285.5 1940.1V1951.1M282.2 1940.1h6.6M282.2 1951.1h6.6M306.3 1923.2H318.6M306.3 1919.9v6.6M318.6 1919.9v6.6M313 1920.8V1926.2M309.7 1920.8h6.6M309.7 1926.2h6.6M314 1917.3H323.1M314 1914v6.6M323.1 1914v6.6M318.9 1910.7V1925.2M315.6 1910.7h6.6M315.6 1925.2h6.6M321.9 1914H331M321.9 1910.7v6.6M331 1910.7v6.6M326.9 1907.4V1921.9M323.6 1907.4h6.6M323.6 1921.9h6.6M319.8 1931H325.9M319.8 1927.7v6.6M325.9 1927.7v6.6M323.1 1924.4V1939M319.8 1924.4h6.6M319.8 1939h6.6M341.6 1913.3H347.7M341.6 1910v6.6M347.7 1910v6.6M344.9 1910.8V1916.3M341.6 1910.8h6.6M341.6 1916.3h6.6M339.6 1916.6H356.4M339.6 1913.3v6.6M356.4 1913.3v6.6M348.7 1913.3V1920.6M345.4 1913.3h6.6M345.4 1920.6h6.6M347.6 1914.6H359.8M347.6 1911.3v6.6M359.8 1911.3v6.6M354.2 1912.2V1917.6M350.9 1912.2h6.6M350.9 1917.6h6.6M348.1 1924.4H364.8M348.1 1921.1v6.6M364.8 1921.1v6.6M357.2 1921.9V1927.4M353.9 1921.9h6.6M353.9 1927.4h6.6M348.9 1941.1H358M348.9 1937.8v6.6M358 1937.8v6.6M353.9 1938.6V1944.1M350.6 1938.6h6.6M350.6 1944.1h6.6M294.1 1942.3H310.8M294.1 1939v6.6M310.8 1939v6.6M303.2 1939V1946.3M299.9 1939h6.6M299.9 1946.3h6.6M366.6 1929H374.8M366.6 1925.7v6.6M374.8 1925.7v6.6M371.5 1927.1V1931M368.2 1927.1h6.6M368.2 1931h6.6M378.2 1930.2H387.3M378.2 1926.9v6.6M387.3 1926.9v6.6M383.1 1927.7V1932.7M379.8 1927.7h6.6M379.8 1932.7h6.6M387.8 1930.5H394.4M387.8 1927.2v6.6M394.4 1927.2v6.6M391.1 1920.6V1942.1M387.8 1920.6h6.6M387.8 1942.1h6.6M353.6 1932.4H366.9M353.6 1929.1v6.6M366.9 1929.1v6.6M360.3 1919.9V1948.1M357 1919.9h6.6M357 1948.1h6.6M352.5 1943.9H359.1M352.5 1940.6v6.6M359.1 1940.6v6.6M355.8 1940.6V1947.3M352.5 1940.6h6.6M352.5 1947.3h6.6M350.8 1948.9H357.5M350.8 1945.6v6.6M357.5 1945.6v6.6M354.1 1945.6V1952.2M350.8 1945.6h6.6M350.8 1952.2h6.6M382 1957.7H386.9M382 1954.4v6.6M386.9 1954.4v6.6M381.1 1946.1h6.6M381.1 1985h6.6M358.3 1963.8H365.7M358.3 1960.5v6.6M365.7 1960.5v6.6M362.4 1959.7V1968.5M359.1 1959.7h6.6M359.1 1968.5h6.6M350 1965.5H355M350 1962.2v6.6M355 1962.2v6.6M352.5 1963V1968M349.2 1963h6.6M349.2 1968h6.6M348.3 1919.9H355M348.3 1916.6v6.6M355 1916.6v6.6M351.7 1916.6V1923.2M348.4 1916.6h6.6M348.4 1923.2h6.6M350 1913.3H356.6M350 1910v6.6M356.6 1910v6.6M353.3 1910V1916.6M350 1910h6.6M350 1916.6h6.6" stroke="#000" stroke-opacity="0.6" stroke-width="1" fill="none"/><path d="M407.1 1889.7V1954.3M265.6 1941.5V2005.2M261.5 1978.4V2038M290.4 1958.4V2008.2M336.8 1971.3V2039.2M330.2 1911.7V2032.5M351.7 1957.2V2006.9M191.4 2005.6V2104.1M227.2 1995.3V2195.7M384.4 1946.1V1985" stroke="#000" stroke-opacity="0.3" stroke-width="1" fill="none"/><g fill="none" stroke="#00f000" stroke-width="2.1"><circle cx="350.4" cy="1845" r="3.8"/><circle cx="348.1" cy="1871.8" r="3.8"/><circle cx="276" cy="1900.3" r="3.8"/><circle cx="396.7" cy="1772.9" r="3.8"/><circle cx="599.6" cy="1776.1" r="3.8"/><circle cx="376.5" cy="1786.5" r="3.8"/><circle cx="544.6" cy="1802.7" r="3.8"/><circle cx="529.7" cy="1806" r="3.8"/><circle cx="424.2" cy="1832.9" r="3.8"/><circle cx="427.8" cy="1854.4" r="3.8"/><circle cx="387.8" cy="1861.3" r="3.8"/><circle cx="434.8" cy="1889.2" r="3.8"/></g><g fill="#cb7039" fill-opacity="0.9"><path d="M329 1793.4l3.9 7.2h-7.8z"/><path d="M343.8 1815.2l3.9 7.2h-7.8z"/><path d="M322.7 1853l3.9 7.2h-7.8z"/><path d="M365.7 1822l3.9 7.2h-7.8z"/></g><path d="M327.4 1797.3H330.7M327.4 1794v6.6M330.7 1794v6.6M329 1795.6V1798.9M325.7 1795.6h6.6M325.7 1798.9h6.6M342.1 1819.1H345.4M342.1 1815.8v6.6M345.4 1815.8v6.6M343.8 1817.5V1820.8M340.5 1817.5h6.6M340.5 1820.8h6.6M321.1 1856.9H324.4M321.1 1853.6v6.6M324.4 1853.6v6.6M322.7 1855.2V1858.5M319.4 1855.2h6.6M319.4 1858.5h6.6M364.1 1825.9H367.4M364.1 1822.6v6.6M367.4 1822.6v6.6M365.7 1824.3V1827.6M362.4 1824.3h6.6M362.4 1827.6h6.6" stroke="#c8672e" stroke-opacity="0.6" stroke-width="1" fill="none"/><g fill="#3b2a8a" fill-opacity="0.9"><rect x="721.1" y="1569.9" width="7.4" height="7.4"/><rect x="696.6" y="1650" width="7.4" height="7.4"/><rect x="389.1" y="1749.6" width="7.4" height="7.4"/><rect x="433.7" y="1745.3" width="7.4" height="7.4"/><rect x="340.2" y="1776.3" width="6.4" height="6.4"/><rect x="325.7" y="1799.7" width="7.4" height="7.4"/><rect x="318.2" y="1804.3" width="7.4" height="7.4"/><rect x="318.7" y="1818.4" width="7.4" height="7.4"/><rect x="338.1" y="1835.5" width="7.4" height="7.4"/><rect x="341.9" y="1845.4" width="6.4" height="6.4"/><rect x="299.2" y="1846.2" width="7.4" height="7.4"/><rect x="311.1" y="1844.1" width="7.4" height="7.4"/><rect x="323.2" y="1847.1" width="7.4" height="7.4"/><rect x="315.7" y="1850.7" width="7.4" height="7.4"/><rect x="329.8" y="1848.2" width="7.4" height="7.4"/><rect x="334.8" y="1845.7" width="7.4" height="7.4"/><rect x="295.9" y="1856.2" width="7.4" height="7.4"/><rect x="352.2" y="1857.3" width="7.4" height="7.4"/><rect x="336.4" y="1866.4" width="7.4" height="7.4"/><rect x="274.7" y="1868.1" width="7.4" height="7.4"/><rect x="329" y="1899.5" width="7.4" height="7.4"/><rect x="415" y="1764.6" width="7.4" height="7.4"/><rect x="524.3" y="1763.3" width="7.4" height="7.4"/><rect x="428.3" y="1791.1" width="7.4" height="7.4"/><rect x="365" y="1793.2" width="6.4" height="6.4"/><rect x="360.9" y="1796.9" width="7.4" height="7.4"/><rect x="603.8" y="1805.7" width="7.4" height="7.4"/><rect x="401.8" y="1801.8" width="7.4" height="7.4"/><rect x="360.4" y="1805.7" width="7.4" height="7.4"/><rect x="382.7" y="1807.3" width="7.4" height="7.4"/><rect x="361.2" y="1836.1" width="7.4" height="7.4"/><rect x="415.5" y="1841.3" width="7.4" height="7.4"/><rect x="420.5" y="1844.4" width="7.4" height="7.4"/><rect x="383.6" y="1841.3" width="7.4" height="7.4"/><rect x="372.8" y="1856.5" width="7.4" height="7.4"/><rect x="412.5" y="1861" width="7.4" height="7.4"/><rect x="375.3" y="1872.2" width="7.4" height="7.4"/><rect x="377.1" y="1879.3" width="6.4" height="6.4"/><rect x="384.7" y="1880.8" width="7.4" height="7.4"/><rect x="325.3" y="1950.7" width="7.4" height="7.4"/><rect x="346.7" y="1973.9" width="7.4" height="7.4"/></g><path d="M720 1573.6H729.5M720 1570.3v6.6M729.5 1570.3v6.6M724.8 1567.1V1580.7M721.5 1567.1h6.6M721.5 1580.7h6.6M697.7 1653.7H702.9M697.7 1650.4v6.6M702.9 1650.4v6.6M697 1636.4h6.6M697 1679.2h6.6M385.2 1753.3H400.4M385.2 1750v6.6M400.4 1750v6.6M392.8 1751.6V1755M389.5 1751.6h6.6M389.5 1755h6.6M434.2 1749H440.7M434.2 1745.7v6.6M440.7 1745.7v6.6M437.4 1747.3V1750.7M434.1 1747.3h6.6M434.1 1750.7h6.6M333.8 1779.5H351.7M333.8 1776.2v6.6M351.7 1776.2v6.6M343.4 1778.2V1780.9M340.1 1778.2h6.6M340.1 1780.9h6.6M318.6 1803.4H337.6M318.6 1800.1v6.6M337.6 1800.1v6.6M329.4 1801.7V1805M326.1 1801.7h6.6M326.1 1805h6.6M303.4 1808H337.6M303.4 1804.7v6.6M337.6 1804.7v6.6M321.9 1806.4V1809.7M318.6 1806.4h6.6M318.6 1809.7h6.6M317.4 1822.1H327.4M317.4 1818.8v6.6M327.4 1818.8v6.6M322.4 1820.4V1823.8M319.1 1820.4h6.6M319.1 1823.8h6.6M324.4 1839.2H353.4M324.4 1835.9v6.6M353.4 1835.9v6.6M341.8 1836.7V1841.6M338.5 1836.7h6.6M338.5 1841.6h6.6M341.8 1848.6H348.4M341.8 1845.3v6.6M348.4 1845.3v6.6M345.1 1846.9V1850.3M341.8 1846.9h6.6M341.8 1850.3h6.6M291.3 1849.9H311.1M291.3 1846.6v6.6M311.1 1846.6v6.6M302.9 1847.4V1852.4M299.6 1847.4h6.6M299.6 1852.4h6.6M306.5 1847.8H323.1M306.5 1844.5v6.6M323.1 1844.5v6.6M314.8 1841.1V1851.1M311.5 1841.1h6.6M311.5 1851.1h6.6M321.9 1850.8H331.8M321.9 1847.5v6.6M331.8 1847.5v6.6M326.9 1848.3V1853.2M323.6 1848.3h6.6M323.6 1853.2h6.6M314.5 1854.4H324.4M314.5 1851.1v6.6M324.4 1851.1v6.6M319.4 1851.9V1856.9M316.1 1851.9h6.6M316.1 1856.9h6.6M328.5 1851.9H338.5M328.5 1848.6v6.6M338.5 1848.6v6.6M333.5 1849.4V1854.4M330.2 1849.4h6.6M330.2 1854.4h6.6M333.5 1849.4H343.4M333.5 1846.1v6.6M343.4 1846.1v6.6M338.5 1846.9V1851.9M335.2 1846.9h6.6M335.2 1851.9h6.6M294.6 1859.9H304.5M294.6 1856.6v6.6M304.5 1856.6v6.6M299.6 1858.2V1861.5M296.3 1858.2h6.6M296.3 1861.5h6.6M350.9 1861H360.8M350.9 1857.7v6.6M360.8 1857.7v6.6M355.9 1858.5V1863.5M352.6 1858.5h6.6M352.6 1863.5h6.6M335.2 1870.1H345.1M335.2 1866.8v6.6M345.1 1866.8v6.6M340.1 1867.6V1872.6M336.8 1867.6h6.6M336.8 1872.6h6.6M259.3 1871.8H292.8M259.3 1868.5v6.6M292.8 1868.5v6.6M278.4 1868.5V1875.1M275.1 1868.5h6.6M275.1 1875.1h6.6M325.2 1903.2H339.3M325.2 1899.9v6.6M339.3 1899.9v6.6M332.7 1891.7V1916.5M329.4 1891.7h6.6M329.4 1916.5h6.6M416.2 1768.3H421.2M416.2 1765v6.6M421.2 1765v6.6M418.7 1766.6V1769.9M415.4 1766.6h6.6M415.4 1769.9h6.6M523.9 1767H532.2M523.9 1763.7v6.6M532.2 1763.7v6.6M528 1765.6V1768.3M524.7 1765.6h6.6M524.7 1768.3h6.6M427.8 1794.8H436.1M427.8 1791.5v6.6M436.1 1791.5v6.6M432 1793.1V1796.4M428.7 1793.1h6.6M428.7 1796.4h6.6M365.7 1796.4H370.7M365.7 1793.1v6.6M370.7 1793.1v6.6M368.2 1795.1V1797.8M364.9 1795.1h6.6M364.9 1797.8h6.6M362.1 1800.6H367.1M362.1 1797.3v6.6M367.1 1797.3v6.6M364.6 1799.2V1801.9M361.3 1799.2h6.6M361.3 1801.9h6.6M605 1809.4H610M605 1806.1v6.6M610 1806.1v6.6M607.5 1803.1V1816M604.2 1803.1h6.6M604.2 1816h6.6M401.3 1805.5H409.6M401.3 1802.2v6.6M409.6 1802.2v6.6M405.5 1803.9V1807.2M402.2 1803.9h6.6M402.2 1807.2h6.6M361.6 1809.4H366.6M361.6 1806.1v6.6M366.6 1806.1v6.6M364.1 1807.7V1811M360.8 1807.7h6.6M360.8 1811h6.6M375.7 1811H395.5M375.7 1807.7v6.6M395.5 1807.7v6.6M386.4 1809.4V1812.7M383.1 1809.4h6.6M383.1 1812.7h6.6M358.3 1839.8H371.5M358.3 1836.5v6.6M371.5 1836.5v6.6M364.9 1837.3V1842.3M361.6 1837.3h6.6M361.6 1842.3h6.6M415.9 1845H422.5M415.9 1841.7v6.6M422.5 1841.7v6.6M419.2 1842.5V1847.4M415.9 1842.5h6.6M415.9 1847.4h6.6M420.9 1848.1H427.5M420.9 1844.8v6.6M427.5 1844.8v6.6M424.2 1845.6V1850.6M420.9 1845.6h6.6M420.9 1850.6h6.6M383.9 1845H390.6M383.9 1841.7v6.6M390.6 1841.7v6.6M387.3 1842.5V1847.4M384 1842.5h6.6M384 1847.4h6.6M373.2 1860.2H379.8M373.2 1856.9v6.6M379.8 1856.9v6.6M376.5 1857.7V1862.7M373.2 1857.7h6.6M373.2 1862.7h6.6M412.1 1864.7H420.4M412.1 1861.4v6.6M420.4 1861.4v6.6M416.2 1861.3V1873.8M412.9 1861.3h6.6M412.9 1873.8h6.6M375.7 1875.9H382.3M375.7 1872.6v6.6M382.3 1872.6v6.6M379 1872.6V1879.2M375.7 1872.6h6.6M375.7 1879.2h6.6M370.4 1882.5H385.3M370.4 1879.2v6.6M385.3 1879.2v6.6M380.3 1879.2V1893.3M377 1879.2h6.6M377 1893.3h6.6M385.1 1884.5H391.7M385.1 1881.2v6.6M391.7 1881.2v6.6M388.4 1882.1V1887M385.1 1882.1h6.6M385.1 1887h6.6M324.9 1954.4H333.2M324.9 1951.1v6.6M333.2 1951.1v6.6M329 1949.4V1961.8M325.7 1949.4h6.6M325.7 1961.8h6.6M341.3 1977.6H356.2M341.3 1974.3v6.6M356.2 1974.3v6.6M347.1 1933.2h6.6M347.1 2093h6.6" stroke="#1d0d78" stroke-opacity="0.6" stroke-width="1" fill="none"/><path d="M700.3 1636.4V1679.2M350.4 1933.2V2093" stroke="#1d0d78" stroke-opacity="0.3" stroke-width="1" fill="none"/><g fill="none" stroke="#00f000" stroke-width="2.0"><rect x="339.8" y="1775.9" width="7.2" height="7.2"/><rect x="341.5" y="1845" width="7.2" height="7.2"/><rect x="364.6" y="1792.8" width="7.2" height="7.2"/><rect x="376.7" y="1878.9" width="7.2" height="7.2"/></g></g>
<g clip-path="url(#cpf)"><g fill="#7f7f7f" fill-opacity="0.7"><path d="M1319.4 2128.6l6 6l-6 6l-6 -6z"/><path d="M1337.4 2128.6l6 6l-6 6l-6 -6z"/><path d="M1348.7 2128.6l6 6l-6 6l-6 -6z"/><path d="M1352.4 2128.6l6 6l-6 6l-6 -6z"/><path d="M1359.3 2128.6l6 6l-6 6l-6 -6z"/><path d="M1382.2 2128.6l6 6l-6 6l-6 -6z"/><path d="M1396.3 2128.6l6 6l-6 6l-6 -6z"/><path d="M1408.7 2128.6l6 6l-6 6l-6 -6z"/><path d="M1414.1 2128.6l6 6l-6 6l-6 -6z"/><path d="M1418 2128.6l6 6l-6 6l-6 -6z"/><path d="M1424.3 2128.6l6 6l-6 6l-6 -6z"/><path d="M1439.6 2128.6l6 6l-6 6l-6 -6z"/><path d="M1444.4 2128.6l6 6l-6 6l-6 -6z"/><path d="M1455.2 2128.6l6 6l-6 6l-6 -6z"/><path d="M1459.1 2128.6l6 6l-6 6l-6 -6z"/><path d="M1464.3 2128.6l6 6l-6 6l-6 -6z"/><path d="M1480.1 2128.6l6 6l-6 6l-6 -6z"/><path d="M1486.2 2128.6l6 6l-6 6l-6 -6z"/><path d="M1539.3 2128.6l6 6l-6 6l-6 -6z"/></g><g fill="#383838" fill-opacity="0.9"><circle cx="995.5" cy="1597.4" r="3.2"/><circle cx="1076.3" cy="1770.9" r="2.9"/><circle cx="1171.8" cy="1780.4" r="2.9"/><circle cx="997.9" cy="1782.6" r="3.2"/><circle cx="1190" cy="1797.9" r="3.2"/><circle cx="1153.4" cy="1808.8" r="3.2"/><circle cx="1201" cy="1813.1" r="3.2"/><circle cx="1211" cy="1813.3" r="3.2"/><circle cx="1125.9" cy="1815" r="3.2"/><circle cx="1127.4" cy="1821.1" r="3.2"/><circle cx="984" cy="1823.7" r="3.2"/><circle cx="994.4" cy="1824.8" r="3.2"/><circle cx="1019.5" cy="1827.4" r="3.2"/><circle cx="1109.2" cy="1823.7" r="2.9"/><circle cx="1092.3" cy="1825.4" r="3.2"/><circle cx="1219" cy="1823.7" r="3.2"/><circle cx="1230.7" cy="1828" r="3.2"/><circle cx="1190.2" cy="1833.4" r="3.2"/><circle cx="1185.6" cy="1835" r="2.9"/><circle cx="1144.7" cy="1838" r="3.2"/><circle cx="1229.2" cy="1835.6" r="3.2"/><circle cx="1088" cy="1841.2" r="3.2"/><circle cx="949.8" cy="1843.4" r="3.2"/><circle cx="1159" cy="1844.5" r="2.9"/><circle cx="1180.9" cy="1844.5" r="3.2"/><circle cx="1218.3" cy="1850.8" r="3.2"/><circle cx="1080.4" cy="1851.4" r="3.2"/><circle cx="1138.2" cy="1852.3" r="3.2"/><circle cx="1042.7" cy="1853.8" r="3.2"/><circle cx="1084.5" cy="1857.7" r="3.2"/><circle cx="1133.9" cy="1857.7" r="3.2"/><circle cx="984.9" cy="1862" r="3.2"/><circle cx="1183" cy="1864" r="3.2"/><circle cx="1195.6" cy="1864.8" r="3.2"/><circle cx="1088.4" cy="1864.8" r="3.2"/><circle cx="1354.5" cy="1600.6" r="3.2"/><circle cx="1357.8" cy="1606.1" r="3.2"/><circle cx="1252.5" cy="1652.2" r="3.2"/><circle cx="1364.5" cy="1688.8" r="3.2"/><circle cx="1272.4" cy="1762" r="3.2"/><circle cx="1272.9" cy="1765.2" r="3.2"/><circle cx="1401.7" cy="1767.8" r="2.9"/><circle cx="1458.9" cy="1779.3" r="3.2"/><circle cx="1441.1" cy="1795.8" r="2.9"/><circle cx="1358" cy="1798.8" r="2.9"/><circle cx="1364.9" cy="1812.4" r="3.2"/><circle cx="1446.6" cy="1816.6" r="3.2"/><circle cx="1369.2" cy="1821.5" r="3.2"/><circle cx="1363.8" cy="1828.5" r="3.2"/><circle cx="1230" cy="1828" r="3.2"/><circle cx="1289.6" cy="1834.1" r="3.2"/><circle cx="1261.4" cy="1838.9" r="3.2"/><circle cx="1408" cy="1839.5" r="3.2"/><circle cx="1519.8" cy="1841.2" r="3.2"/><circle cx="1393.5" cy="1846.2" r="3.2"/><circle cx="1241.3" cy="1847.1" r="3.2"/><circle cx="1271.1" cy="1845.4" r="3.2"/><circle cx="1280.2" cy="1846.4" r="3.2"/><circle cx="1293.9" cy="1848" r="3.2"/><circle cx="1417.3" cy="1847.5" r="3.2"/><circle cx="1343.7" cy="1849.3" r="3.2"/><circle cx="1300.6" cy="1850.8" r="2.9"/><circle cx="1271.1" cy="1854" r="3.2"/><circle cx="1274" cy="1857.3" r="3.2"/><circle cx="1330.1" cy="1853.6" r="3.2"/><circle cx="1439" cy="1857" r="3.2"/><circle cx="1452.4" cy="1857.3" r="3.2"/><circle cx="1370.8" cy="1857.9" r="3.2"/><circle cx="1377.3" cy="1860.1" r="2.9"/><circle cx="1299.3" cy="1861.6" r="3.2"/><circle cx="1334.6" cy="1861.6" r="3.2"/><circle cx="1328.5" cy="1864.8" r="3.2"/><circle cx="1246.9" cy="1863.8" r="3.2"/><circle cx="1254.5" cy="1864.2" r="3.2"/><circle cx="1356.5" cy="1864.2" r="3.2"/><circle cx="1417.8" cy="1863.1" r="3.2"/><circle cx="1040.3" cy="1872.6" r="3.2"/><circle cx="1167.9" cy="1875.2" r="3.2"/><circle cx="1216.2" cy="1874.1" r="3.2"/><circle cx="1210.1" cy="1874.7" r="3.2"/><circle cx="1062.4" cy="1880.1" r="3.2"/><circle cx="1080.8" cy="1879.9" r="3.2"/><circle cx="1088.8" cy="1879.1" r="3.2"/><circle cx="995.1" cy="1887.1" r="3.2"/><circle cx="1065.5" cy="1887.5" r="3.2"/><circle cx="1076.9" cy="1891" r="3.2"/><circle cx="1081.9" cy="1893.4" r="3.2"/><circle cx="1125.9" cy="1891.8" r="3.2"/><circle cx="1123.1" cy="1894.7" r="3.2"/><circle cx="1133.2" cy="1892.1" r="3.2"/><circle cx="1203.8" cy="1894.7" r="3.2"/><circle cx="1143.8" cy="1896.4" r="3.2"/><circle cx="1169.4" cy="1900.5" r="3.2"/><circle cx="1204.3" cy="1900.1" r="3.2"/><circle cx="1231.3" cy="1899.6" r="3.2"/><circle cx="1092.7" cy="1903.5" r="3.2"/><circle cx="1205.8" cy="1905.5" r="3.2"/><circle cx="1135.6" cy="1905.5" r="3.2"/><circle cx="1125" cy="1907.6" r="3.2"/><circle cx="1077.8" cy="1910.7" r="3.2"/><circle cx="1214" cy="1914.1" r="3.2"/><circle cx="1237.8" cy="1918" r="3.2"/><circle cx="1209.7" cy="1924.3" r="3.2"/><circle cx="1049.4" cy="1929.3" r="3.2"/><circle cx="1238" cy="1876.7" r="2.9"/><circle cx="1291.3" cy="1871.3" r="3.2"/><circle cx="1244.7" cy="1871.9" r="3.2"/><circle cx="1304.7" cy="1870.8" r="3.2"/><circle cx="1338.7" cy="1876.9" r="3.2"/><circle cx="1355.6" cy="1875.2" r="3.2"/><circle cx="1363.6" cy="1874.7" r="3.2"/><circle cx="1371.8" cy="1870.8" r="3.2"/><circle cx="1467.1" cy="1876.9" r="3.2"/><circle cx="1420.1" cy="1881" r="3.2"/><circle cx="1400" cy="1882.1" r="3.2"/><circle cx="1271.8" cy="1881.7" r="3.2"/><circle cx="1292.2" cy="1881" r="3.2"/><circle cx="1376.8" cy="1882.5" r="3.2"/><circle cx="1385.9" cy="1886" r="3.2"/><circle cx="1415.4" cy="1887.3" r="2.9"/><circle cx="1244.7" cy="1888.6" r="3.2"/><circle cx="1252.3" cy="1889.2" r="3.2"/><circle cx="1272.2" cy="1886.6" r="3.2"/><circle cx="1282" cy="1888.2" r="3.2"/><circle cx="1290.6" cy="1889.9" r="3.2"/><circle cx="1282.6" cy="1892.5" r="3.2"/><circle cx="1369.7" cy="1887.1" r="3.2"/><circle cx="1382.7" cy="1892.5" r="3.2"/><circle cx="1372.9" cy="1895.3" r="3.2"/><circle cx="1300.4" cy="1892.9" r="3.2"/><circle cx="1359.5" cy="1894.7" r="3.2"/><circle cx="1279.8" cy="1895.7" r="3.2"/><circle cx="1290.6" cy="1898.5" r="3.2"/><circle cx="1449.2" cy="1899.8" r="3.2"/><circle cx="1232.2" cy="1899.6" r="3.2"/><circle cx="1239.7" cy="1901.1" r="3.2"/><circle cx="1321.6" cy="1900.1" r="3.2"/><circle cx="1321" cy="1904.4" r="3.2"/><circle cx="1335.5" cy="1899.8" r="3.2"/><circle cx="1250.1" cy="1905.5" r="3.2"/><circle cx="1306.9" cy="1905.9" r="3.2"/><circle cx="1344.8" cy="1905.5" r="3.2"/><circle cx="1358.9" cy="1907" r="3.2"/><circle cx="1379.4" cy="1904.4" r="3.2"/><circle cx="1377.7" cy="1909.8" r="3.2"/><circle cx="1415.2" cy="1909.6" r="3.2"/><circle cx="1437.5" cy="1908.7" r="3.2"/><circle cx="1249.1" cy="1912" r="3.2"/><circle cx="1284.6" cy="1914.6" r="3.2"/><circle cx="1327.5" cy="1914.1" r="3.2"/><circle cx="1380.5" cy="1915.2" r="3.2"/><circle cx="1303" cy="1916.3" r="3.2"/><circle cx="1238" cy="1918" r="3.2"/><circle cx="1244.1" cy="1923.9" r="3.2"/><circle cx="1294.3" cy="1918.5" r="3.2"/><circle cx="1346.9" cy="1918" r="3.2"/><circle cx="1357.3" cy="1918.5" r="3.2"/><circle cx="1368" cy="1917.4" r="3.2"/><circle cx="1337.8" cy="1921.3" r="3.2"/><circle cx="1257.1" cy="1921.7" r="3.2"/><circle cx="1265.3" cy="1922.8" r="3.2"/><circle cx="1305.8" cy="1928.2" r="3.2"/><circle cx="1309.7" cy="1932.5" r="3.2"/><circle cx="1374.7" cy="1932.1" r="3.2"/><circle cx="1384.2" cy="1933.2" r="3.2"/><circle cx="1316.2" cy="1935.8" r="3.2"/><circle cx="1331.4" cy="1935.8" r="3.2"/><circle cx="1324.2" cy="1939.5" r="3.2"/><circle cx="1484.2" cy="1937.5" r="3.2"/><circle cx="1296.1" cy="1941.9" r="3.2"/><circle cx="1308.6" cy="1942.7" r="3.2"/><circle cx="1383.1" cy="1941.2" r="3.2"/><circle cx="1316.6" cy="1945.5" r="3.2"/><circle cx="1349.1" cy="1946.6" r="3.2"/><circle cx="1430.3" cy="1948.4" r="3.2"/><circle cx="1390.3" cy="1959" r="3.2"/><circle cx="1393.9" cy="1960.1" r="3.2"/><circle cx="1366.4" cy="1961.4" r="3.2"/><circle cx="1345.9" cy="1963.5" r="3.2"/><circle cx="1281.5" cy="1972.4" r="3.2"/><circle cx="1438.3" cy="1977.2" r="3.2"/><circle cx="1330.1" cy="1980.6" r="3.2"/><circle cx="1395.2" cy="2012.2" r="3.2"/><circle cx="1292.8" cy="2014.4" r="3.2"/></g><path d="M976.4 1597.4H1011.3M976.4 1594.1v6.6M1011.3 1594.1v6.6M995.5 1590.9V1603.9M992.2 1590.9h6.6M992.2 1603.9h6.6M1065.5 1770.9H1086M1065.5 1767.6v6.6M1086 1767.6v6.6M1076.3 1769.1V1772.6M1073 1769.1h6.6M1073 1772.6h6.6M1158.4 1780.4H1182.6M1158.4 1777.1v6.6M1182.6 1777.1v6.6M1171.8 1778.7V1782.1M1168.5 1778.7h6.6M1168.5 1782.1h6.6M986.6 1782.6H1008.1M986.6 1779.3v6.6M1008.1 1779.3v6.6M997.9 1778.7V1786.4M994.6 1778.7h6.6M994.6 1786.4h6.6M1180.9 1797.9H1198.2M1180.9 1794.6v6.6M1198.2 1794.6v6.6M1190 1796.2V1799.7M1186.7 1796.2h6.6M1186.7 1799.7h6.6M1137.8 1808.8H1167.5M1137.8 1805.5v6.6M1167.5 1805.5v6.6M1153.4 1803.3V1814.8M1150.1 1803.3h6.6M1150.1 1814.8h6.6M1191.9 1813.1H1207.5M1191.9 1809.8v6.6M1207.5 1809.8v6.6M1201 1810.5V1815.7M1197.7 1810.5h6.6M1197.7 1815.7h6.6M1202.3 1813.3H1220.7M1202.3 1810v6.6M1220.7 1810v6.6M1211 1811.1V1815.5M1207.7 1811.1h6.6M1207.7 1815.5h6.6M1110.7 1815H1138.9M1110.7 1811.7v6.6M1138.9 1811.7v6.6M1125.9 1812.9V1817.2M1122.6 1812.9h6.6M1122.6 1817.2h6.6M1117.6 1821.1H1137.6M1117.6 1817.8v6.6M1137.6 1817.8v6.6M1127.4 1818.5V1823.7M1124.1 1818.5h6.6M1124.1 1823.7h6.6M963.5 1823.7H1001.4M963.5 1820.4v6.6M1001.4 1820.4v6.6M984 1822V1825.4M980.7 1822h6.6M980.7 1825.4h6.6M974.9 1824.8H1011.3M974.9 1821.5v6.6M1011.3 1821.5v6.6M994.4 1823V1826.5M991.1 1823h6.6M991.1 1826.5h6.6M1006.5 1827.4H1031.5M1006.5 1824.1v6.6M1031.5 1824.1v6.6M1019.5 1822.6V1832.1M1016.2 1822.6h6.6M1016.2 1832.1h6.6M1103.8 1823.7H1117.9M1103.8 1820.4v6.6M1117.9 1820.4v6.6M1109.2 1822V1825.4M1105.9 1822h6.6M1105.9 1825.4h6.6M1079.3 1825.4H1102.1M1079.3 1822.1v6.6M1102.1 1822.1v6.6M1092.3 1817.8V1833.7M1089 1817.8h6.6M1089 1833.7h6.6M1202.8 1823.7H1233.1M1202.8 1820.4v6.6M1233.1 1820.4v6.6M1219 1819.4V1828M1215.7 1819.4h6.6M1215.7 1828h6.6M1220.9 1828H1240.4M1220.9 1824.7v6.6M1240.4 1824.7v6.6M1230.7 1823.7V1832.4M1227.4 1823.7h6.6M1227.4 1832.4h6.6M1174 1833.4H1203.2M1174 1830.1v6.6M1203.2 1830.1v6.6M1190.2 1830.2V1837.8M1186.9 1830.2h6.6M1186.9 1837.8h6.6M1174.8 1835H1192.1M1174.8 1831.7v6.6M1192.1 1831.7v6.6M1185.6 1833.2V1836.7M1182.3 1833.2h6.6M1182.3 1836.7h6.6M1129.6 1838H1158.1M1129.6 1834.7v6.6M1158.1 1834.7v6.6M1144.7 1836.3V1839.7M1141.4 1836.3h6.6M1141.4 1839.7h6.6M1224.8 1835.6H1233.5M1224.8 1832.3v6.6M1233.5 1832.3v6.6M1229.2 1832.4V1838.9M1225.9 1832.4h6.6M1225.9 1838.9h6.6M1072.4 1841.2H1101.4M1072.4 1837.9v6.6M1101.4 1837.9v6.6M1088 1829.3V1854.2M1084.7 1829.3h6.6M1084.7 1854.2h6.6M936.4 1843.4H961.7M936.4 1840.1v6.6M961.7 1840.1v6.6M949.8 1840.8V1846M946.5 1840.8h6.6M946.5 1846h6.6M1150.8 1844.5H1166.6M1150.8 1841.2v6.6M1166.6 1841.2v6.6M1159 1842.8V1846.2M1155.7 1842.8h6.6M1155.7 1846.2h6.6M1172.2 1844.5H1188.9M1172.2 1841.2v6.6M1188.9 1841.2v6.6M1180.9 1842.3V1846.7M1177.6 1842.3h6.6M1177.6 1846.7h6.6M1214 1850.8H1222.7M1214 1847.5v6.6M1222.7 1847.5v6.6M1218.3 1846.4V1857.3M1215 1846.4h6.6M1215 1857.3h6.6M1068.5 1851.4H1091.2M1068.5 1848.1v6.6M1091.2 1848.1v6.6M1080.4 1846V1857.5M1077.1 1846h6.6M1077.1 1857.5h6.6M1133.9 1852.3H1142.6M1133.9 1849v6.6M1142.6 1849v6.6M1138.2 1849.7V1854.9M1134.9 1849.7h6.6M1134.9 1854.9h6.6M1023.7 1853.8H1059M1023.7 1850.5v6.6M1059 1850.5v6.6M1042.7 1846.2V1862.5M1039.4 1846.2h6.6M1039.4 1862.5h6.6M1076.9 1857.7H1091.4M1076.9 1854.4v6.6M1091.4 1854.4v6.6M1084.5 1853.4V1862M1081.2 1853.4h6.6M1081.2 1862h6.6M1114.4 1857.7H1150.8M1114.4 1854.4v6.6M1150.8 1854.4v6.6M1133.9 1848V1868.5M1130.6 1848h6.6M1130.6 1868.5h6.6M953.5 1862H1008.7M953.5 1858.7v6.6M1008.7 1858.7v6.6M984.9 1860.3V1863.8M981.6 1860.3h6.6M981.6 1863.8h6.6M1164.6 1864H1189.5M1164.6 1860.7v6.6M1189.5 1860.7v6.6M1183 1861.4V1866.6M1179.7 1861.4h6.6M1179.7 1866.6h6.6M1189.1 1864.8H1203.2M1189.1 1861.5v6.6M1203.2 1861.5v6.6M1195.6 1859.4V1869.2M1192.3 1859.4h6.6M1192.3 1869.2h6.6M1077.6 1864.8H1098.2M1077.6 1861.5v6.6M1098.2 1861.5v6.6M1088.4 1862.7V1867M1085.1 1862.7h6.6M1085.1 1867h6.6M1330.3 1600.6H1373.6M1330.3 1597.3v6.6M1373.6 1597.3v6.6M1354.5 1598V1603.2M1351.2 1598h6.6M1351.2 1603.2h6.6M1350.6 1606.1H1364.9M1350.6 1602.8v6.6M1364.9 1602.8v6.6M1357.8 1598.5V1614.7M1354.5 1598.5h6.6M1354.5 1614.7h6.6M1230.9 1652.2H1270.5M1230.9 1648.9v6.6M1270.5 1648.9v6.6M1252.5 1643.5V1661.5M1249.2 1643.5h6.6M1249.2 1661.5h6.6M1349.3 1688.8H1377.5M1349.3 1685.5v6.6M1377.5 1685.5v6.6M1364.5 1680.5V1698.1M1361.2 1680.5h6.6M1361.2 1698.1h6.6M1264.9 1762H1280M1264.9 1758.7v6.6M1280 1758.7v6.6M1272.4 1759.8V1764.1M1269.1 1759.8h6.6M1269.1 1764.1h6.6M1262.1 1765.2H1282.6M1262.1 1761.9v6.6M1282.6 1761.9v6.6M1272.9 1763.1V1767.4M1269.6 1763.1h6.6M1269.6 1767.4h6.6M1396.3 1767.8H1407.1M1396.3 1764.5v6.6M1407.1 1764.5v6.6M1401.7 1766.1V1769.6M1398.4 1766.1h6.6M1398.4 1769.6h6.6M1453.5 1779.3H1464.3M1453.5 1776v6.6M1464.3 1776v6.6M1458.9 1777.1V1781.5M1455.6 1777.1h6.6M1455.6 1781.5h6.6M1432.5 1795.8H1449.2M1432.5 1792.5v6.6M1449.2 1792.5v6.6M1441.1 1786.7V1805.9M1437.8 1786.7h6.6M1437.8 1805.9h6.6M1350.4 1798.8H1365.6M1350.4 1795.5v6.6M1365.6 1795.5v6.6M1358 1797.1V1800.5M1354.7 1797.1h6.6M1354.7 1800.5h6.6M1343.9 1812.4H1369.2M1343.9 1809.1v6.6M1369.2 1809.1v6.6M1364.9 1802.7V1816.8M1361.6 1802.7h6.6M1361.6 1816.8h6.6M1441.1 1816.6H1452M1441.1 1813.3v6.6M1452 1813.3v6.6M1446.6 1814V1819.1M1443.3 1814h6.6M1443.3 1819.1h6.6M1342.6 1821.5H1390.5M1342.6 1818.2v6.6M1390.5 1818.2v6.6M1369.2 1816.1V1826.9M1365.9 1816.1h6.6M1365.9 1826.9h6.6M1355.2 1828.5H1372.5M1355.2 1825.2v6.6M1372.5 1825.2v6.6M1363.8 1826.3V1830.6M1360.5 1826.3h6.6M1360.5 1830.6h6.6M1221.3 1828H1240.2M1221.3 1824.7v6.6M1240.2 1824.7v6.6M1230 1825.9V1830.2M1226.7 1825.9h6.6M1226.7 1830.2h6.6M1283.1 1834.1H1296.1M1283.1 1830.8v6.6M1296.1 1830.8v6.6M1289.6 1830.8V1837.3M1286.3 1830.8h6.6M1286.3 1837.3h6.6M1254.9 1838.9H1267.9M1254.9 1835.6v6.6M1267.9 1835.6v6.6M1261.4 1833.4V1844.3M1258.1 1833.4h6.6M1258.1 1844.3h6.6M1399.4 1839.5H1412.3M1399.4 1836.2v6.6M1412.3 1836.2v6.6M1408 1833V1842.8M1404.7 1833h6.6M1404.7 1842.8h6.6M1512.2 1841.2H1526.9M1512.2 1837.9v6.6M1526.9 1837.9v6.6M1519.8 1832.6V1851.4M1516.5 1832.6h6.6M1516.5 1851.4h6.6M1389.2 1846.2H1397.8M1389.2 1842.9v6.6M1397.8 1842.9v6.6M1393.5 1843.6V1848.8M1390.2 1843.6h6.6M1390.2 1848.8h6.6M1232.6 1847.1H1249.9M1232.6 1843.8v6.6M1249.9 1843.8v6.6M1241.3 1842.8V1851.4M1238 1842.8h6.6M1238 1851.4h6.6M1264.7 1845.4H1277.6M1264.7 1842.1v6.6M1277.6 1842.1v6.6M1271.1 1841V1849.7M1267.8 1841h6.6M1267.8 1849.7h6.6M1273.7 1846.4H1286.7M1273.7 1843.1v6.6M1286.7 1843.1v6.6M1280.2 1842.1V1850.8M1276.9 1842.1h6.6M1276.9 1850.8h6.6M1287.4 1848H1300.4M1287.4 1844.7v6.6M1300.4 1844.7v6.6M1293.9 1844.7V1851.2M1290.6 1844.7h6.6M1290.6 1851.2h6.6M1411.9 1847.5H1427.1M1411.9 1844.2v6.6M1427.1 1844.2v6.6M1417.3 1845.4V1849.7M1414 1845.4h6.6M1414 1849.7h6.6M1322 1849.3H1361M1322 1846v6.6M1361 1846v6.6M1343.7 1840.6V1856.8M1340.4 1840.6h6.6M1340.4 1856.8h6.6M1296.3 1850.8H1304.9M1296.3 1847.5v6.6M1304.9 1847.5v6.6M1300.6 1849V1852.5M1297.3 1849h6.6M1297.3 1852.5h6.6M1262.5 1854H1279.8M1262.5 1850.7v6.6M1279.8 1850.7v6.6M1271.1 1850.8V1857.3M1267.8 1850.8h6.6M1267.8 1857.3h6.6M1267.5 1857.3H1280.5M1267.5 1854v6.6M1280.5 1854v6.6M1274 1852.9V1861.6M1270.7 1852.9h6.6M1270.7 1861.6h6.6M1321.4 1853.6H1338.7M1321.4 1850.3v6.6M1338.7 1850.3v6.6M1330.1 1849.3V1857.9M1326.8 1849.3h6.6M1326.8 1857.9h6.6M1432.9 1857H1445M1432.9 1853.7v6.6M1445 1853.7v6.6M1439 1851.2V1862.9M1435.7 1851.2h6.6M1435.7 1862.9h6.6M1444.8 1857.3H1458.5M1444.8 1854v6.6M1458.5 1854v6.6M1452.4 1851.4V1863.1M1449.1 1851.4h6.6M1449.1 1863.1h6.6M1350.2 1857.9H1388.1M1350.2 1854.6v6.6M1388.1 1854.6v6.6M1370.8 1855.7V1860.1M1367.5 1855.7h6.6M1367.5 1860.1h6.6M1372.9 1860.1H1381.6M1372.9 1856.8v6.6M1381.6 1856.8v6.6M1377.3 1858.3V1861.8M1374 1858.3h6.6M1374 1861.8h6.6M1288.5 1861.6H1308M1288.5 1858.3v6.6M1308 1858.3v6.6M1299.3 1857.3V1865.9M1296 1857.3h6.6M1296 1865.9h6.6M1328.1 1861.6H1341.1M1328.1 1858.3v6.6M1341.1 1858.3v6.6M1334.6 1857.3V1865.9M1331.3 1857.3h6.6M1331.3 1865.9h6.6M1317.7 1864.8H1339.4M1317.7 1861.5v6.6M1339.4 1861.5v6.6M1328.5 1859.4V1870.3M1325.2 1859.4h6.6M1325.2 1870.3h6.6M1237.1 1863.8H1255.6M1237.1 1860.5v6.6M1255.6 1860.5v6.6M1246.9 1860.5V1867M1243.6 1860.5h6.6M1243.6 1867h6.6M1248 1864.2H1263.1M1248 1860.9v6.6M1263.1 1860.9v6.6M1254.5 1859.9V1868.5M1251.2 1859.9h6.6M1251.2 1868.5h6.6M1343.5 1864.2H1363M1343.5 1860.9v6.6M1363 1860.9v6.6M1356.5 1860.9V1867.4M1353.2 1860.9h6.6M1353.2 1867.4h6.6M1409.1 1863.1H1426.4M1409.1 1859.8v6.6M1426.4 1859.8v6.6M1417.8 1859.9V1866.4M1414.5 1859.9h6.6M1414.5 1866.4h6.6M1019.8 1872.6H1057.2M1019.8 1869.3v6.6M1057.2 1869.3v6.6M1040.3 1870V1875.2M1037 1870h6.6M1037 1875.2h6.6M1153.8 1875.2H1180.2M1153.8 1871.9v6.6M1180.2 1871.9v6.6M1167.9 1873.4V1876.9M1164.6 1873.4h6.6M1164.6 1876.9h6.6M1208.6 1874.1H1223.8M1208.6 1870.8v6.6M1223.8 1870.8v6.6M1216.2 1871.5V1876.7M1212.9 1871.5h6.6M1212.9 1876.7h6.6M1193.2 1874.7H1218.8M1193.2 1871.4v6.6M1218.8 1871.4v6.6M1210.1 1872.6V1876.9M1206.8 1872.6h6.6M1206.8 1876.9h6.6M1054.8 1880.1H1068.9M1054.8 1876.8v6.6M1068.9 1876.8v6.6M1062.4 1877.5V1882.7M1059.1 1877.5h6.6M1059.1 1882.7h6.6M1067.8 1879.9H1091.7M1067.8 1876.6v6.6M1091.7 1876.6v6.6M1080.8 1871.3V1889.7M1077.5 1871.3h6.6M1077.5 1889.7h6.6M1082.3 1879.1H1097.1M1082.3 1875.8v6.6M1097.1 1875.8v6.6M1088.8 1876.5V1881.7M1085.5 1876.5h6.6M1085.5 1881.7h6.6M985.8 1887.1H1003.7M985.8 1883.8v6.6M1003.7 1883.8v6.6M995.1 1883.8V1890.3M991.8 1883.8h6.6M991.8 1890.3h6.6M1051.4 1887.5H1078.4M1051.4 1884.2v6.6M1078.4 1884.2v6.6M1065.5 1885.3V1889.7M1062.2 1885.3h6.6M1062.2 1889.7h6.6M1070.4 1891H1083.4M1070.4 1887.7v6.6M1083.4 1887.7v6.6M1076.9 1887.7V1894.2M1073.6 1887.7h6.6M1073.6 1894.2h6.6M1068.9 1893.4H1092.7M1068.9 1890.1v6.6M1092.7 1890.1v6.6M1081.9 1890.1V1896.6M1078.6 1890.1h6.6M1078.6 1896.6h6.6M1119.4 1891.8H1132.4M1119.4 1888.5v6.6M1132.4 1888.5v6.6M1125.9 1888.6V1895.1M1122.6 1888.6h6.6M1122.6 1895.1h6.6M1107.5 1894.7H1131.7M1107.5 1891.4v6.6M1131.7 1891.4v6.6M1123.1 1891.4V1897.9M1119.8 1891.4h6.6M1119.8 1897.9h6.6M1115.9 1892.1H1140.8M1115.9 1888.8v6.6M1140.8 1888.8v6.6M1129.9 1874.3h6.6M1129.9 1916.3h6.6M1191.5 1894.7H1214.7M1191.5 1891.4v6.6M1214.7 1891.4v6.6M1203.8 1892.1V1897.2M1200.5 1892.1h6.6M1200.5 1897.2h6.6M1137.4 1896.4H1155.8M1137.4 1893.1v6.6M1155.8 1893.1v6.6M1143.8 1893.8V1899M1140.5 1893.8h6.6M1140.5 1899h6.6M1157.1 1900.5H1180.7M1157.1 1897.2v6.6M1180.7 1897.2v6.6M1169.4 1897.2V1903.7M1166.1 1897.2h6.6M1166.1 1903.7h6.6M1184.8 1900.1H1221.2M1184.8 1896.8v6.6M1221.2 1896.8v6.6M1204.3 1897.9V1902.2M1201 1897.9h6.6M1201 1902.2h6.6M1225.9 1899.6H1237.8M1225.9 1896.3v6.6M1237.8 1896.3v6.6M1231.3 1897.5V1901.8M1228 1897.5h6.6M1228 1901.8h6.6M1079.3 1903.5H1104.2M1079.3 1900.2v6.6M1104.2 1900.2v6.6M1092.7 1900.9V1906.1M1089.4 1900.9h6.6M1089.4 1906.1h6.6M1188.5 1905.5H1220.9M1188.5 1902.2v6.6M1220.9 1902.2v6.6M1205.8 1900.1V1910.9M1202.5 1900.1h6.6M1202.5 1910.9h6.6M1122.6 1905.5H1147.5M1122.6 1902.2v6.6M1147.5 1902.2v6.6M1135.6 1903.3V1907.6M1132.3 1903.3h6.6M1132.3 1907.6h6.6M1119.2 1907.6H1130.4M1119.2 1904.3v6.6M1130.4 1904.3v6.6M1125 1905V1910.2M1121.7 1905h6.6M1121.7 1910.2h6.6M1062.6 1910.7H1091.2M1062.6 1907.4v6.6M1091.2 1907.4v6.6M1077.8 1908.1V1913.3M1074.5 1908.1h6.6M1074.5 1913.3h6.6M1200.6 1914.1H1225.3M1200.6 1910.8v6.6M1225.3 1910.8v6.6M1214 1907.6V1917.4M1210.7 1907.6h6.6M1210.7 1917.4h6.6M1229.2 1918H1246.5M1229.2 1914.7v6.6M1246.5 1914.7v6.6M1237.8 1914.8V1921.3M1234.5 1914.8h6.6M1234.5 1921.3h6.6M1197.8 1924.3H1220.1M1197.8 1921v6.6M1220.1 1921v6.6M1209.7 1921.7V1926.9M1206.4 1921.7h6.6M1206.4 1926.9h6.6M1034.9 1929.3H1062.4M1034.9 1926v6.6M1062.4 1926v6.6M1049.4 1921.3V1938.4M1046.1 1921.3h6.6M1046.1 1938.4h6.6M1233.7 1876.7H1242.3M1233.7 1873.4v6.6M1242.3 1873.4v6.6M1238 1874.9V1878.4M1234.7 1874.9h6.6M1234.7 1878.4h6.6M1284.8 1871.3H1297.8M1284.8 1868v6.6M1297.8 1868v6.6M1291.3 1868V1874.5M1288 1868h6.6M1288 1874.5h6.6M1231.7 1871.9H1256.6M1231.7 1868.6v6.6M1256.6 1868.6v6.6M1244.7 1868.7V1875.2M1241.4 1868.7h6.6M1241.4 1875.2h6.6M1298.2 1870.8H1311.2M1298.2 1867.5v6.6M1311.2 1867.5v6.6M1304.7 1867.6V1874.1M1301.4 1867.6h6.6M1301.4 1874.1h6.6M1326.8 1876.9H1348.5M1326.8 1873.6v6.6M1348.5 1873.6v6.6M1338.7 1874.3V1879.5M1335.4 1874.3h6.6M1335.4 1879.5h6.6M1351.3 1875.2H1359.9M1351.3 1871.9v6.6M1359.9 1871.9v6.6M1355.6 1872.6V1877.8M1352.3 1872.6h6.6M1352.3 1877.8h6.6M1357.1 1874.7H1370.1M1357.1 1871.4v6.6M1370.1 1871.4v6.6M1363.6 1866.1V1883.4M1360.3 1866.1h6.6M1360.3 1883.4h6.6M1365.4 1870.8H1378.3M1365.4 1867.5v6.6M1378.3 1867.5v6.6M1371.8 1866.5V1875.2M1368.5 1866.5h6.6M1368.5 1875.2h6.6M1461.7 1876.9H1471.9M1461.7 1873.6v6.6M1471.9 1873.6v6.6M1467.1 1870.4V1884M1463.8 1870.4h6.6M1463.8 1884h6.6M1414.7 1881H1425.6M1414.7 1877.7v6.6M1425.6 1877.7v6.6M1420.1 1878.8V1883.2M1416.8 1878.8h6.6M1416.8 1883.2h6.6M1393.5 1882.1H1406.1M1393.5 1878.8v6.6M1406.1 1878.8v6.6M1400 1876.7V1887.5M1396.7 1876.7h6.6M1396.7 1887.5h6.6M1243.6 1881.7H1302.1M1243.6 1878.4v6.6M1302.1 1878.4v6.6M1271.8 1878.4V1884.9M1268.5 1878.4h6.6M1268.5 1884.9h6.6M1285.7 1881H1298.7M1285.7 1877.7v6.6M1298.7 1877.7v6.6M1292.2 1876.7V1885.3M1288.9 1876.7h6.6M1288.9 1885.3h6.6M1368.2 1882.5H1385.5M1368.2 1879.2v6.6M1385.5 1879.2v6.6M1376.8 1873.9V1891.2M1373.5 1873.9h6.6M1373.5 1891.2h6.6M1379.4 1886H1392.4M1379.4 1882.7v6.6M1392.4 1882.7v6.6M1385.9 1881.7V1890.3M1382.6 1881.7h6.6M1382.6 1890.3h6.6M1412.1 1887.3H1418.6M1412.1 1884v6.6M1418.6 1884v6.6M1415.4 1881.9V1893.8M1412.1 1881.9h6.6M1412.1 1893.8h6.6M1238.2 1888.6H1265.3M1238.2 1885.3v6.6M1265.3 1885.3v6.6M1244.7 1885.3V1891.8M1241.4 1885.3h6.6M1241.4 1891.8h6.6M1245.8 1889.2H1258.8M1245.8 1885.9v6.6M1258.8 1885.9v6.6M1252.3 1886V1892.5M1249 1886h6.6M1249 1892.5h6.6M1265.7 1886.6H1278.7M1265.7 1883.3v6.6M1278.7 1883.3v6.6M1272.2 1883.4V1889.9M1268.9 1883.4h6.6M1268.9 1889.9h6.6M1275.5 1888.2H1288.5M1275.5 1884.9v6.6M1288.5 1884.9v6.6M1282 1881.7V1894.7M1278.7 1881.7h6.6M1278.7 1894.7h6.6M1284.1 1889.9H1297.1M1284.1 1886.6v6.6M1297.1 1886.6v6.6M1290.6 1885.6V1894.2M1287.3 1885.6h6.6M1287.3 1894.2h6.6M1276.1 1892.5H1289.1M1276.1 1889.2v6.6M1289.1 1889.2v6.6M1282.6 1888.2V1896.8M1279.3 1888.2h6.6M1279.3 1896.8h6.6M1363.2 1887.1H1376.2M1363.2 1883.8v6.6M1376.2 1883.8v6.6M1369.7 1882.7V1891.4M1366.4 1882.7h6.6M1366.4 1891.4h6.6M1374 1892.5H1391.3M1374 1889.2v6.6M1391.3 1889.2v6.6M1382.7 1888.2V1896.8M1379.4 1888.2h6.6M1379.4 1896.8h6.6M1364.3 1895.3H1381.6M1364.3 1892v6.6M1381.6 1892v6.6M1372.9 1889.9V1900.7M1369.6 1889.9h6.6M1369.6 1900.7h6.6M1288.5 1892.9H1312.3M1288.5 1889.6v6.6M1312.3 1889.6v6.6M1300.4 1887.5V1899.4M1297.1 1887.5h6.6M1297.1 1899.4h6.6M1341.1 1894.7H1368.2M1341.1 1891.4v6.6M1368.2 1891.4v6.6M1359.5 1891.4V1897.9M1356.2 1891.4h6.6M1356.2 1897.9h6.6M1273.3 1895.7H1286.3M1273.3 1892.4v6.6M1286.3 1892.4v6.6M1279.8 1891.4V1900.1M1276.5 1891.4h6.6M1276.5 1900.1h6.6M1284.1 1898.5H1297.1M1284.1 1895.2v6.6M1297.1 1895.2v6.6M1290.6 1892.1V1905M1287.3 1892.1h6.6M1287.3 1905h6.6M1433.6 1899.8H1462.2M1433.6 1896.5v6.6M1462.2 1896.5v6.6M1445.9 1877.1h6.6M1445.9 1937.3h6.6M1227.8 1899.6H1236.5M1227.8 1896.3v6.6M1236.5 1896.3v6.6M1232.2 1897.5V1901.8M1228.9 1897.5h6.6M1228.9 1901.8h6.6M1235.4 1901.1H1244.1M1235.4 1897.8v6.6M1244.1 1897.8v6.6M1239.7 1898.5V1903.7M1236.4 1898.5h6.6M1236.4 1903.7h6.6M1315.1 1900.1H1328.1M1315.1 1896.8v6.6M1328.1 1896.8v6.6M1321.6 1889.2V1910.9M1318.3 1889.2h6.6M1318.3 1910.9h6.6M1310.1 1904.4H1329.6M1310.1 1901.1v6.6M1329.6 1901.1v6.6M1321 1900.1V1908.7M1317.7 1900.1h6.6M1317.7 1908.7h6.6M1329 1899.8H1348.5M1329 1896.5v6.6M1348.5 1896.5v6.6M1335.5 1886.9V1908.5M1332.2 1886.9h6.6M1332.2 1908.5h6.6M1230.6 1905.5H1265.3M1230.6 1902.2v6.6M1265.3 1902.2v6.6M1250.1 1899V1912M1246.8 1899h6.6M1246.8 1912h6.6M1302.5 1905.9H1311.2M1302.5 1902.6v6.6M1311.2 1902.6v6.6M1306.9 1902.7V1909.2M1303.6 1902.7h6.6M1303.6 1909.2h6.6M1336.1 1905.5H1351.3M1336.1 1902.2v6.6M1351.3 1902.2v6.6M1344.8 1900.1V1910.9M1341.5 1900.1h6.6M1341.5 1910.9h6.6M1352.4 1907H1365.4M1352.4 1903.7v6.6M1365.4 1903.7v6.6M1358.9 1900.5V1913.5M1355.6 1900.5h6.6M1355.6 1913.5h6.6M1370.8 1904.4H1388.1M1370.8 1901.1v6.6M1388.1 1901.1v6.6M1379.4 1900.1V1908.7M1376.1 1900.1h6.6M1376.1 1908.7h6.6M1369 1909.8H1388.5M1369 1906.5v6.6M1388.5 1906.5v6.6M1377.7 1905.5V1914.1M1374.4 1905.5h6.6M1374.4 1914.1h6.6M1407.6 1909.6H1422.1M1407.6 1906.3v6.6M1422.1 1906.3v6.6M1415.2 1898.8V1922.6M1411.9 1898.8h6.6M1411.9 1922.6h6.6M1434.2 1908.7H1440.7M1434.2 1905.4v6.6M1440.7 1905.4v6.6M1437.5 1902.2V1916.3M1434.2 1902.2h6.6M1434.2 1916.3h6.6M1230.6 1912H1265.3M1230.6 1908.7v6.6M1265.3 1908.7v6.6M1249.1 1909.8V1914.1M1245.8 1909.8h6.6M1245.8 1914.1h6.6M1273.7 1914.6H1293.2M1273.7 1911.3v6.6M1293.2 1911.3v6.6M1284.6 1908.1V1927.6M1281.3 1908.1h6.6M1281.3 1927.6h6.6M1321 1914.1H1334M1321 1910.8v6.6M1334 1910.8v6.6M1327.5 1907.6V1920.6M1324.2 1907.6h6.6M1324.2 1920.6h6.6M1369.7 1915.2H1390.3M1369.7 1911.9v6.6M1390.3 1911.9v6.6M1380.5 1910.9V1919.6M1377.2 1910.9h6.6M1377.2 1919.6h6.6M1292.2 1916.3H1312.7M1292.2 1913v6.6M1312.7 1913v6.6M1303 1912V1920.6M1299.7 1912h6.6M1299.7 1920.6h6.6M1229.4 1918H1246.7M1229.4 1914.7v6.6M1246.7 1914.7v6.6M1238 1913.7V1922.4M1234.7 1913.7h6.6M1234.7 1922.4h6.6M1231.1 1923.9H1252.7M1231.1 1920.6v6.6M1252.7 1920.6v6.6M1240.8 1917.4h6.6M1240.8 1956.4h6.6M1287.8 1918.5H1300.8M1287.8 1915.2v6.6M1300.8 1915.2v6.6M1294.3 1914.1V1922.8M1291 1914.1h6.6M1291 1922.8h6.6M1340.4 1918H1353.4M1340.4 1914.7v6.6M1353.4 1914.7v6.6M1346.9 1913.7V1950.5M1343.6 1913.7h6.6M1343.6 1950.5h6.6M1333.5 1918.5H1366M1333.5 1915.2v6.6M1366 1915.2v6.6M1357.3 1912V1929.3M1354 1912h6.6M1354 1929.3h6.6M1361.5 1917.4H1374.4M1361.5 1914.1v6.6M1374.4 1914.1v6.6M1368 1913.1V1932.5M1364.7 1913.1h6.6M1364.7 1932.5h6.6M1332.4 1921.3H1343.3M1332.4 1918v6.6M1343.3 1918v6.6M1337.8 1918V1924.5M1334.5 1918h6.6M1334.5 1924.5h6.6M1251.7 1921.7H1262.5M1251.7 1918.4v6.6M1262.5 1918.4v6.6M1257.1 1918.5V1925M1253.8 1918.5h6.6M1253.8 1925h6.6M1259.9 1922.8H1270.7M1259.9 1919.5v6.6M1270.7 1919.5v6.6M1265.3 1920.2V1925.4M1262 1920.2h6.6M1262 1925.4h6.6M1297.1 1928.2H1314.5M1297.1 1924.9v6.6M1314.5 1924.9v6.6M1305.8 1923.9V1932.5M1302.5 1923.9h6.6M1302.5 1932.5h6.6M1301 1932.5H1318.4M1301 1929.2v6.6M1318.4 1929.2v6.6M1309.7 1928.2V1936.9M1306.4 1928.2h6.6M1306.4 1936.9h6.6M1358.4 1932.1H1383.3M1358.4 1928.8v6.6M1383.3 1928.8v6.6M1371.4 1927.8h6.6M1371.4 1985.2h6.6M1377.7 1933.2H1390.3M1377.7 1929.9v6.6M1390.3 1929.9v6.6M1384.2 1923.5V1939.7M1380.9 1923.5h6.6M1380.9 1939.7h6.6M1311.9 1935.8H1320.5M1311.9 1932.5v6.6M1320.5 1932.5v6.6M1316.2 1932.5V1939M1312.9 1932.5h6.6M1312.9 1939h6.6M1324.9 1935.8H1337.4M1324.9 1932.5v6.6M1337.4 1932.5v6.6M1331.4 1927.1V1945.5M1328.1 1927.1h6.6M1328.1 1945.5h6.6M1317.7 1939.5H1330.7M1317.7 1936.2v6.6M1330.7 1936.2v6.6M1324.2 1930.8V1949.2M1320.9 1930.8h6.6M1320.9 1949.2h6.6M1476 1937.5H1492.3M1476 1934.2v6.6M1492.3 1934.2v6.6M1480.9 1907.2h6.6M1480.9 2011.2h6.6M1292.8 1941.9H1299.3M1292.8 1938.6v6.6M1299.3 1938.6v6.6M1296.1 1938.6V1945.1M1292.8 1938.6h6.6M1292.8 1945.1h6.6M1302.1 1942.7H1314M1302.1 1939.4v6.6M1314 1939.4v6.6M1308.6 1934.1V1953.6M1305.3 1934.1h6.6M1305.3 1953.6h6.6M1372.3 1941.2H1391.8M1372.3 1937.9v6.6M1391.8 1937.9v6.6M1383.1 1936.9V1966.1M1379.8 1936.9h6.6M1379.8 1966.1h6.6M1312.3 1945.5H1321M1312.3 1942.2v6.6M1321 1942.2v6.6M1316.6 1936.9V1959.2M1313.3 1936.9h6.6M1313.3 1959.2h6.6M1345.9 1946.6H1352.4M1345.9 1943.3v6.6M1352.4 1943.3v6.6M1349.1 1943.4V1949.9M1345.8 1943.4h6.6M1345.8 1949.9h6.6M1424.9 1948.4H1435.1M1424.9 1945.1v6.6M1435.1 1945.1v6.6M1427 1931.5h6.6M1427 1972.8h6.6M1382.7 1959H1394.6M1382.7 1955.7v6.6M1394.6 1955.7v6.6M1390.3 1950.3V1987.1M1387 1950.3h6.6M1387 1987.1h6.6M1389.6 1960.1H1399.4M1389.6 1956.8v6.6M1399.4 1956.8v6.6M1390.6 1941.6h6.6M1390.6 1988.2h6.6M1362.5 1961.4H1370.3M1362.5 1958.1v6.6M1370.3 1958.1v6.6M1366.4 1951.6V1973.3M1363.1 1951.6h6.6M1363.1 1973.3h6.6M1340.4 1963.5H1350.6M1340.4 1960.2v6.6M1350.6 1960.2v6.6M1345.9 1950.5V1983M1342.6 1950.5h6.6M1342.6 1983h6.6M1272.4 1972.4H1289.8M1272.4 1969.1v6.6M1289.8 1969.1v6.6M1281.5 1961.1V1986.3M1278.2 1961.1h6.6M1278.2 1986.3h6.6M1435.1 1977.2H1441.6M1435.1 1973.9v6.6M1441.6 1973.9v6.6M1435 1954.4h6.6M1435 2017.4h6.6M1319.2 1980.6H1339.8M1319.2 1977.3v6.6M1339.8 1977.3v6.6M1326.8 1959.4h6.6M1326.8 2016.1h6.6M1388.7 2012.2H1401.3M1388.7 2008.9v6.6M1401.3 2008.9v6.6M1391.9 1976.5h6.6M1391.9 2155.2h6.6M1283.1 2014.4H1301.9M1283.1 2011.1v6.6M1301.9 2011.1v6.6M1289.5 1985.6h6.6M1289.5 2078.3h6.6" stroke="#000" stroke-opacity="0.6" stroke-width="1" fill="none"/><path d="M1133.2 1874.3V1916.3M1449.2 1877.1V1937.3M1244.1 1917.4V1956.4M1374.7 1927.8V1985.2M1484.2 1907.2V2011.2M1430.3 1931.5V1972.8M1393.9 1941.6V1988.2M1438.3 1954.4V2017.4M1330.1 1959.4V2016.1M1395.2 1976.5V2155.2M1292.8 1985.6V2078.3" stroke="#000" stroke-opacity="0.3" stroke-width="1" fill="none"/><g fill="none" stroke="#00f000" stroke-width="2.1"><circle cx="1076.3" cy="1770.9" r="3.8"/><circle cx="1171.8" cy="1780.4" r="3.8"/><circle cx="1109.2" cy="1823.7" r="3.8"/><circle cx="1185.6" cy="1835" r="3.8"/><circle cx="1159" cy="1844.5" r="3.8"/><circle cx="1401.7" cy="1767.8" r="3.8"/><circle cx="1441.1" cy="1795.8" r="3.8"/><circle cx="1358" cy="1798.8" r="3.8"/><circle cx="1300.6" cy="1850.8" r="3.8"/><circle cx="1377.3" cy="1860.1" r="3.8"/><circle cx="1238" cy="1876.7" r="3.8"/><circle cx="1415.4" cy="1887.3" r="3.8"/></g><g fill="#cb7039" fill-opacity="0.9"><path d="M1271.1 1786.7l3.9 7.2h-7.8z"/><path d="M1382.2 1806.8l3.9 7.2h-7.8z"/><path d="M1306.9 1813.3l3.9 7.2h-7.8z"/><path d="M1408 1843l3.9 7.2h-7.8z"/></g><path d="M1259.9 1790.6H1281.3M1259.9 1787.3v6.6M1281.3 1787.3v6.6M1271.1 1788.8V1792.3M1267.8 1788.8h6.6M1267.8 1792.3h6.6M1372.1 1810.7H1391.3M1372.1 1807.4v6.6M1391.3 1807.4v6.6M1382.2 1809V1812.4M1378.9 1809h6.6M1378.9 1812.4h6.6M1303.6 1817.2H1310.1M1303.6 1813.9v6.6M1310.1 1813.9v6.6M1306.9 1815.5V1818.9M1303.6 1815.5h6.6M1303.6 1818.9h6.6M1405.8 1846.9H1410.2M1405.8 1843.6v6.6M1410.2 1843.6v6.6M1408 1845.1V1848.6M1404.7 1845.1h6.6M1404.7 1848.6h6.6" stroke="#c8672e" stroke-opacity="0.6" stroke-width="1" fill="none"/><g fill="#3b2a8a" fill-opacity="0.9"><rect x="1186.3" y="1577" width="7.4" height="7.4"/><rect x="1121.1" y="1760" width="7.4" height="7.4"/><rect x="1182.2" y="1770.7" width="6.4" height="6.4"/><rect x="1179.3" y="1784.3" width="7.4" height="7.4"/><rect x="1076.5" y="1799.9" width="7.4" height="7.4"/><rect x="1122" y="1798.3" width="7.4" height="7.4"/><rect x="1058.3" y="1836.5" width="7.4" height="7.4"/><rect x="1201.9" y="1835.4" width="7.4" height="7.4"/><rect x="1227.6" y="1834.7" width="7.4" height="7.4"/><rect x="1212.9" y="1840.6" width="7.4" height="7.4"/><rect x="1210.3" y="1847.7" width="7.4" height="7.4"/><rect x="1482.5" y="1652.6" width="7.4" height="7.4"/><rect x="1435.7" y="1741.6" width="7.4" height="7.4"/><rect x="1332.2" y="1745.9" width="7.4" height="7.4"/><rect x="1296.9" y="1758.5" width="7.4" height="7.4"/><rect x="1374.5" y="1786.9" width="6.4" height="6.4"/><rect x="1246.4" y="1789.9" width="7.4" height="7.4"/><rect x="1281.1" y="1792.1" width="7.4" height="7.4"/><rect x="1414.1" y="1794" width="7.4" height="7.4"/><rect x="1411.5" y="1796.6" width="7.4" height="7.4"/><rect x="1339.8" y="1794.9" width="7.4" height="7.4"/><rect x="1270" y="1798.3" width="7.4" height="7.4"/><rect x="1267.4" y="1810" width="7.4" height="7.4"/><rect x="1302.1" y="1826.5" width="7.4" height="7.4"/><rect x="1279.8" y="1826.5" width="7.4" height="7.4"/><rect x="1335.7" y="1826.5" width="7.4" height="7.4"/><rect x="1433.8" y="1831.5" width="7.4" height="7.4"/><rect x="1351.9" y="1831.5" width="7.4" height="7.4"/><rect x="1228.5" y="1834.7" width="7.4" height="7.4"/><rect x="1268.5" y="1834.7" width="7.4" height="7.4"/><rect x="1277.6" y="1836.7" width="7.4" height="7.4"/><rect x="1315.5" y="1835.4" width="7.4" height="7.4"/><rect x="1332.4" y="1835.4" width="7.4" height="7.4"/><rect x="1412.2" y="1835.9" width="6.4" height="6.4"/><rect x="1378.5" y="1836.9" width="7.4" height="7.4"/><rect x="1377.9" y="1842.7" width="7.4" height="7.4"/><rect x="1252.3" y="1846" width="7.4" height="7.4"/><rect x="1312.3" y="1845.6" width="7.4" height="7.4"/><rect x="1480.8" y="1846.6" width="7.4" height="7.4"/><rect x="1241" y="1849.2" width="7.4" height="7.4"/><rect x="1421.2" y="1849.9" width="7.4" height="7.4"/><rect x="1303.2" y="1855.7" width="7.4" height="7.4"/><rect x="1320.9" y="1855.7" width="7.4" height="7.4"/><rect x="1304.7" y="1861.1" width="7.4" height="7.4"/><rect x="1277.8" y="1868.9" width="7.4" height="7.4"/><rect x="1411.1" y="1867.2" width="6.4" height="6.4"/><rect x="1454.3" y="1886.6" width="7.4" height="7.4"/><rect x="1404.5" y="1934.9" width="7.4" height="7.4"/><rect x="1420.8" y="1956.1" width="7.4" height="7.4"/></g><path d="M1180.9 1580.7H1198.2M1180.9 1577.4v6.6M1198.2 1577.4v6.6M1190 1574.7V1587.2M1186.7 1574.7h6.6M1186.7 1587.2h6.6M1119.4 1763.7H1130.2M1119.4 1760.4v6.6M1130.2 1760.4v6.6M1124.8 1762V1765.4M1121.5 1762h6.6M1121.5 1765.4h6.6M1176.8 1773.9H1194.1M1176.8 1770.6v6.6M1194.1 1770.6v6.6M1185.4 1772.2V1775.6M1182.1 1772.2h6.6M1182.1 1775.6h6.6M1164.6 1788H1198.6M1164.6 1784.7v6.6M1198.6 1784.7v6.6M1183 1785.8V1790.1M1179.7 1785.8h6.6M1179.7 1790.1h6.6M1068.3 1803.6H1091M1068.3 1800.3v6.6M1091 1800.3v6.6M1080.2 1801.4V1805.7M1076.9 1801.4h6.6M1076.9 1805.7h6.6M1115.5 1802H1134.8M1115.5 1798.7v6.6M1134.8 1798.7v6.6M1125.7 1796V1808.5M1122.4 1796h6.6M1122.4 1808.5h6.6M1054.4 1840.2H1069.1M1054.4 1836.9v6.6M1069.1 1836.9v6.6M1062 1838V1842.3M1058.7 1838h6.6M1058.7 1842.3h6.6M1189.3 1839.1H1216.4M1189.3 1835.8v6.6M1216.4 1835.8v6.6M1205.6 1836.9V1841.2M1202.3 1836.9h6.6M1202.3 1841.2h6.6M1222.7 1838.4H1237.8M1222.7 1835.1v6.6M1237.8 1835.1v6.6M1231.3 1836.3V1840.6M1228 1836.3h6.6M1228 1840.6h6.6M1208 1844.3H1223.1M1208 1841v6.6M1223.1 1841v6.6M1216.6 1839.9V1848.6M1213.3 1839.9h6.6M1213.3 1848.6h6.6M1201 1851.4H1225.9M1201 1848.1v6.6M1225.9 1848.1v6.6M1214 1849.3V1853.6M1210.7 1849.3h6.6M1210.7 1853.6h6.6M1473.6 1656.3H1497.5M1473.6 1653v6.6M1497.5 1653v6.6M1482.9 1639.6h6.6M1482.9 1680.1h6.6M1434 1745.3H1444.8M1434 1742v6.6M1444.8 1742v6.6M1439.4 1743.6V1747M1436.1 1743.6h6.6M1436.1 1747h6.6M1328.3 1749.6H1343.5M1328.3 1746.3v6.6M1343.5 1746.3v6.6M1335.9 1747.9V1751.4M1332.6 1747.9h6.6M1332.6 1751.4h6.6M1286.5 1762.2H1312.5M1286.5 1758.9v6.6M1312.5 1758.9v6.6M1300.6 1760.5V1763.9M1297.3 1760.5h6.6M1297.3 1763.9h6.6M1367.5 1790.1H1386.8M1367.5 1786.8v6.6M1386.8 1786.8v6.6M1377.7 1788.4V1791.9M1374.4 1788.4h6.6M1374.4 1791.9h6.6M1232.4 1793.6H1265.3M1232.4 1790.3v6.6M1265.3 1790.3v6.6M1250.1 1791.9V1795.3M1246.8 1791.9h6.6M1246.8 1795.3h6.6M1278.7 1795.8H1290.2M1278.7 1792.5v6.6M1290.2 1792.5v6.6M1284.8 1793.6V1797.9M1281.5 1793.6h6.6M1281.5 1797.9h6.6M1409.5 1797.7H1425.3M1409.5 1794.4v6.6M1425.3 1794.4v6.6M1417.8 1795.5V1799.9M1414.5 1795.5h6.6M1414.5 1799.9h6.6M1407.6 1800.3H1421.7M1407.6 1797v6.6M1421.7 1797v6.6M1415.2 1798.1V1802.5M1411.9 1798.1h6.6M1411.9 1802.5h6.6M1321.8 1798.6H1351.1M1321.8 1795.3v6.6M1351.1 1795.3v6.6M1343.5 1796.4V1800.7M1340.2 1796.4h6.6M1340.2 1800.7h6.6M1254.7 1802H1289.6M1254.7 1798.7v6.6M1289.6 1798.7v6.6M1273.7 1800.3V1803.8M1270.4 1800.3h6.6M1270.4 1803.8h6.6M1259.9 1813.7H1281.3M1259.9 1810.4v6.6M1281.3 1810.4v6.6M1271.1 1811.6V1815.9M1267.8 1811.6h6.6M1267.8 1815.9h6.6M1296.7 1830.2H1314M1296.7 1826.9v6.6M1314 1826.9v6.6M1305.8 1828V1832.4M1302.5 1828h6.6M1302.5 1832.4h6.6M1273.7 1830.2H1292.2M1273.7 1826.9v6.6M1292.2 1826.9v6.6M1283.5 1825.9V1834.5M1280.2 1825.9h6.6M1280.2 1834.5h6.6M1335 1830.2H1343.7M1335 1826.9v6.6M1343.7 1826.9v6.6M1339.4 1827.6V1832.8M1336.1 1827.6h6.6M1336.1 1832.8h6.6M1434.9 1835.2H1440.1M1434.9 1831.9v6.6M1440.1 1831.9v6.6M1437.5 1833V1837.3M1434.2 1833h6.6M1434.2 1837.3h6.6M1348 1835.2H1361M1348 1831.9v6.6M1361 1831.9v6.6M1355.6 1833V1837.3M1352.3 1833h6.6M1352.3 1837.3h6.6M1225.7 1838.4H1238.7M1225.7 1835.1v6.6M1238.7 1835.1v6.6M1232.2 1836.3V1840.6M1228.9 1836.3h6.6M1228.9 1840.6h6.6M1245.2 1838.4H1283.1M1245.2 1835.1v6.6M1283.1 1835.1v6.6M1272.2 1836.3V1840.6M1268.9 1836.3h6.6M1268.9 1840.6h6.6M1277 1840.4H1285.7M1277 1837.1v6.6M1285.7 1837.1v6.6M1281.3 1836V1844.7M1278 1836h6.6M1278 1844.7h6.6M1311.6 1839.1H1325.7M1311.6 1835.8v6.6M1325.7 1835.8v6.6M1319.2 1836.9V1841.2M1315.9 1836.9h6.6M1315.9 1841.2h6.6M1327.5 1839.1H1349.1M1327.5 1835.8v6.6M1349.1 1835.8v6.6M1336.1 1835.8V1842.3M1332.8 1835.8h6.6M1332.8 1842.3h6.6M1412.1 1839.1H1418.6M1412.1 1835.8v6.6M1418.6 1835.8v6.6M1415.4 1837.3V1840.8M1412.1 1837.3h6.6M1412.1 1840.8h6.6M1377.9 1840.6H1386.6M1377.9 1837.3v6.6M1386.6 1837.3v6.6M1382.2 1838.4V1842.8M1378.9 1838.4h6.6M1378.9 1842.8h6.6M1371.8 1846.4H1388.1M1371.8 1843.1v6.6M1388.1 1843.1v6.6M1381.6 1844.3V1848.6M1378.3 1844.3h6.6M1378.3 1848.6h6.6M1249.5 1849.7H1262.5M1249.5 1846.4v6.6M1262.5 1846.4v6.6M1256 1846.4V1852.9M1252.7 1846.4h6.6M1252.7 1852.9h6.6M1310.6 1849.3H1321.4M1310.6 1846v6.6M1321.4 1846v6.6M1316 1847.1V1851.4M1312.7 1847.1h6.6M1312.7 1851.4h6.6M1475.8 1850.3H1492.5M1475.8 1847v6.6M1492.5 1847v6.6M1484.5 1842.1V1859.4M1481.2 1842.1h6.6M1481.2 1859.4h6.6M1229.6 1852.9H1251.2M1229.6 1849.6v6.6M1251.2 1849.6v6.6M1244.7 1850.8V1855.1M1241.4 1850.8h6.6M1241.4 1855.1h6.6M1415.2 1853.6H1433.6M1415.2 1850.3v6.6M1433.6 1850.3v6.6M1424.9 1850.3V1856.8M1421.6 1850.3h6.6M1421.6 1856.8h6.6M1301.5 1859.4H1312.3M1301.5 1856.1v6.6M1312.3 1856.1v6.6M1306.9 1857.3V1861.6M1303.6 1857.3h6.6M1303.6 1861.6h6.6M1319.2 1859.4H1330.1M1319.2 1856.1v6.6M1330.1 1856.1v6.6M1324.6 1857.3V1861.6M1321.3 1857.3h6.6M1321.3 1861.6h6.6M1303 1864.8H1313.8M1303 1861.5v6.6M1313.8 1861.5v6.6M1308.4 1862.7V1867M1305.1 1862.7h6.6M1305.1 1867h6.6M1272.9 1872.6H1288M1272.9 1869.3v6.6M1288 1869.3v6.6M1281.5 1870.4V1874.7M1278.2 1870.4h6.6M1278.2 1874.7h6.6M1403.5 1870.4H1424M1403.5 1867.1v6.6M1424 1867.1v6.6M1414.3 1868.2V1872.6M1411 1868.2h6.6M1411 1872.6h6.6M1451.5 1890.3H1464.1M1451.5 1887v6.6M1464.1 1887v6.6M1458 1879.5V1904M1454.7 1879.5h6.6M1454.7 1904h6.6M1405 1938.6H1411.5M1405 1935.3v6.6M1411.5 1935.3v6.6M1408.2 1933.2V1944.7M1404.9 1933.2h6.6M1404.9 1944.7h6.6M1408.9 1959.8H1437.9M1408.9 1956.5v6.6M1437.9 1956.5v6.6M1421.2 1918.3h6.6M1421.2 2069h6.6" stroke="#1d0d78" stroke-opacity="0.6" stroke-width="1" fill="none"/><path d="M1486.2 1639.6V1680.1M1424.5 1918.3V2069" stroke="#1d0d78" stroke-opacity="0.3" stroke-width="1" fill="none"/><g fill="none" stroke="#00f000" stroke-width="2.0"><rect x="1181.8" y="1770.3" width="7.2" height="7.2"/><rect x="1374.1" y="1786.5" width="7.2" height="7.2"/><rect x="1411.8" y="1835.5" width="7.2" height="7.2"/><rect x="1410.7" y="1866.8" width="7.2" height="7.2"/></g></g>
<g clip-path="url(#cpc)"><line x1="104.4" y1="1380.9" x2="767.3" y2="919.2" stroke="#f00" stroke-width="3.5"/></g>
<g clip-path="url(#cpe)"><line x1="104.4" y1="2116.6" x2="767.3" y2="1480.4" stroke="#f00" stroke-width="2.7"/></g>
<path d="M309.3 639.1v13M529.5 639.1v13M749.7 639.1v13M155.4 639.1v6.6M194.2 639.1v6.6M221.7 639.1v6.6M243 639.1v6.6M260.4 639.1v6.6M275.2 639.1v6.6M288 639.1v6.6M299.2 639.1v6.6M375.6 639.1v6.6M414.4 639.1v6.6M441.9 639.1v6.6M463.2 639.1v6.6M480.6 639.1v6.6M495.4 639.1v6.6M508.2 639.1v6.6M519.4 639.1v6.6M595.8 639.1v6.6M634.6 639.1v6.6M662.1 639.1v6.6M683.4 639.1v6.6M700.8 639.1v6.6M715.6 639.1v6.6M728.4 639.1v6.6M739.6 639.1v6.6M104.3 568.3h13M104.3 430.2h13M104.3 292.2h13M104.3 154.1h13M104.3 16h13M104.3 623.2h6.6M104.3 609.9h6.6M104.3 598.9h6.6M104.3 589.7h6.6M104.3 581.7h6.6M104.3 574.6h6.6M104.3 526.7h6.6M104.3 502.4h6.6M104.3 485.2h6.6M104.3 471.8h6.6M104.3 460.9h6.6M104.3 451.6h6.6M104.3 443.6h6.6M104.3 436.5h6.6M104.3 388.7h6.6M104.3 364.4h6.6M104.3 347.1h6.6M104.3 333.7h6.6M104.3 322.8h6.6M104.3 313.5h6.6M104.3 305.5h6.6M104.3 298.5h6.6M104.3 250.6h6.6M104.3 226.3h6.6M104.3 209h6.6M104.3 195.7h6.6M104.3 184.7h6.6M104.3 175.5h6.6M104.3 167.5h6.6M104.3 160.4h6.6M104.3 112.5h6.6M104.3 88.2h6.6M104.3 71h6.6M104.3 57.6h6.6M104.3 46.7h6.6M104.3 37.4h6.6M104.3 29.4h6.6M104.3 22.3h6.6" stroke="#000" stroke-width="1.4" fill="none"/>
<rect x="104.3" y="0.6" width="662.9" height="638.5" fill="none" stroke="#000" stroke-width="1.5"/>
<text x="282.29 300.95" y="679.69" font-size="29.33">10</text><text x="319.89" y="668.46" font-size="20.53">1</text>
<text x="502.49 521.15" y="679.67" font-size="29.33">10</text><text x="540.09" y="668.44" font-size="20.53">2</text>
<text x="722.69 741.35" y="679.67" font-size="29.33">10</text><text x="760.29" y="668.44" font-size="20.53">3</text>
<text x="46.48 65.14" y="579.41" font-size="29.33">10</text><text x="84.08" y="568.18" font-size="20.53">1</text>
<text x="46.48 65.14" y="441.32" font-size="29.33">10</text><text x="84.08" y="430.09" font-size="20.53">2</text>
<text x="46.48 65.14" y="303.25" font-size="29.33">10</text><text x="84.08" y="292.02" font-size="20.53">3</text>
<text x="46.48 65.14" y="165.2" font-size="29.33">10</text><text x="84.08" y="153.97" font-size="20.53">4</text>
<text x="46.48 65.14" y="27.13" font-size="29.33">10</text><text x="84.08" y="15.9" font-size="20.53">5</text>
<path d="M911.3 639.2v13M1052.7 639.2v13M1194.1 639.2v13M1335.5 639.2v13M1476.9 639.2v13M953.9 639.2v6.6M978.8 639.2v6.6M996.4 639.2v6.6M1010.1 639.2v6.6M1021.3 639.2v6.6M1030.8 639.2v6.6M1039 639.2v6.6M1046.2 639.2v6.6M1095.3 639.2v6.6M1120.2 639.2v6.6M1137.8 639.2v6.6M1151.5 639.2v6.6M1162.7 639.2v6.6M1172.2 639.2v6.6M1180.4 639.2v6.6M1187.6 639.2v6.6M1236.7 639.2v6.6M1261.6 639.2v6.6M1279.2 639.2v6.6M1292.9 639.2v6.6M1304.1 639.2v6.6M1313.6 639.2v6.6M1321.8 639.2v6.6M1329 639.2v6.6M1378.1 639.2v6.6M1403 639.2v6.6M1420.6 639.2v6.6M1434.3 639.2v6.6M1445.5 639.2v6.6M1455 639.2v6.6M1463.2 639.2v6.6M1470.4 639.2v6.6M1519.5 639.2v6.6M1544.4 639.2v6.6M1562 639.2v6.6M906.2 604.1h13M1569.2 604.1h-13M906.2 475.5h13M1569.2 475.5h-13M906.2 346.9h13M1569.2 346.9h-13M906.2 218.3h13M1569.2 218.3h-13M906.2 89.7h13M1569.2 89.7h-13M906.2 632.6h6.6M1569.2 632.6h-6.6M906.2 624h6.6M1569.2 624h-6.6M906.2 616.6h6.6M1569.2 616.6h-6.6M906.2 610h6.6M1569.2 610h-6.6M906.2 565.4h6.6M1569.2 565.4h-6.6M906.2 542.7h6.6M1569.2 542.7h-6.6M906.2 526.7h6.6M1569.2 526.7h-6.6M906.2 514.2h6.6M1569.2 514.2h-6.6M906.2 504h6.6M1569.2 504h-6.6M906.2 495.4h6.6M1569.2 495.4h-6.6M906.2 488h6.6M1569.2 488h-6.6M906.2 481.4h6.6M1569.2 481.4h-6.6M906.2 436.8h6.6M1569.2 436.8h-6.6M906.2 414.1h6.6M1569.2 414.1h-6.6M906.2 398.1h6.6M1569.2 398.1h-6.6M906.2 385.6h6.6M1569.2 385.6h-6.6M906.2 375.4h6.6M1569.2 375.4h-6.6M906.2 366.8h6.6M1569.2 366.8h-6.6M906.2 359.4h6.6M1569.2 359.4h-6.6M906.2 352.8h6.6M1569.2 352.8h-6.6M906.2 308.2h6.6M1569.2 308.2h-6.6M906.2 285.5h6.6M1569.2 285.5h-6.6M906.2 269.5h6.6M1569.2 269.5h-6.6M906.2 257h6.6M1569.2 257h-6.6M906.2 246.8h6.6M1569.2 246.8h-6.6M906.2 238.2h6.6M1569.2 238.2h-6.6M906.2 230.8h6.6M1569.2 230.8h-6.6M906.2 224.2h6.6M1569.2 224.2h-6.6M906.2 179.6h6.6M1569.2 179.6h-6.6M906.2 156.9h6.6M1569.2 156.9h-6.6M906.2 140.9h6.6M1569.2 140.9h-6.6M906.2 128.4h6.6M1569.2 128.4h-6.6M906.2 118.2h6.6M1569.2 118.2h-6.6M906.2 109.6h6.6M1569.2 109.6h-6.6M906.2 102.2h6.6M1569.2 102.2h-6.6M906.2 95.6h6.6M1569.2 95.6h-6.6M906.2 51h6.6M1569.2 51h-6.6M906.2 28.3h6.6M1569.2 28.3h-6.6M906.2 12.3h6.6M1569.2 12.3h-6.6" stroke="#000" stroke-width="1.4" fill="none"/>
<rect x="906.2" y="0.6" width="663" height="638.6" fill="none" stroke="#000" stroke-width="1.5"/>
<text x="875.64 894.3" y="679.77" font-size="29.33">10</text><text x="913.24 930.44" y="668.54" font-size="20.53">−2</text>
<text x="1017.04 1035.7" y="679.79" font-size="29.33">10</text><text x="1054.64 1071.84" y="668.56" font-size="20.53">−1</text>
<text x="1167.09 1185.75" y="679.77" font-size="29.33">10</text><text x="1204.69" y="668.54" font-size="20.53">0</text>
<text x="1308.49 1327.15" y="679.79" font-size="29.33">10</text><text x="1346.09" y="668.56" font-size="20.53">1</text>
<text x="1449.89 1468.55" y="679.77" font-size="29.33">10</text><text x="1487.49" y="668.54" font-size="20.53">2</text>
<text x="853.06 870.03" y="614.23" font-size="26.67">10</text><text x="887.25" y="604.02" font-size="18.67">0</text>
<text x="853.06 870.03" y="485.65" font-size="26.67">10</text><text x="887.25" y="475.44" font-size="18.67">1</text>
<text x="853.06 870.03" y="357.03" font-size="26.67">10</text><text x="887.25" y="346.82" font-size="18.67">2</text>
<text x="853.06 870.03" y="228.43" font-size="26.67">10</text><text x="887.25" y="218.22" font-size="18.67">3</text>
<text x="853.06 870.03" y="99.85" font-size="26.67">10</text><text x="887.25" y="89.64" font-size="18.67">4</text>
<path d="M171.4 1411.7v13M305.2 1411.7v13M439.1 1411.7v13M573 1411.7v13M706.8 1411.7v13M104.4 1371.6h13M104.4 1240.1h13M104.4 1108.6h13M104.4 977.1h13M104.4 845.6h13" stroke="#000" stroke-width="1.4" fill="none"/>
<rect x="104.4" y="773.2" width="662.9" height="638.5" fill="none" stroke="#000" stroke-width="1.4"/>
<text x="171.4" y="1453.1" font-size="30" text-anchor="middle">1</text>
<text x="305.2" y="1453.1" font-size="30" text-anchor="middle">2</text>
<text x="439.1" y="1453.1" font-size="30" text-anchor="middle">3</text>
<text x="573" y="1453.1" font-size="30" text-anchor="middle">4</text>
<text x="706.8" y="1453.1" font-size="30" text-anchor="middle">5</text>
<text x="98.6" y="1383.5" font-size="30" text-anchor="end">0</text>
<text x="98.6" y="1252" font-size="30" text-anchor="end">1</text>
<text x="98.6" y="1120.5" font-size="30" text-anchor="end">2</text>
<text x="98.6" y="988.9" font-size="30" text-anchor="end">3</text>
<text x="98.6" y="857.4" font-size="30" text-anchor="end">4</text>
<path d="M1118 1411.6v13M1352.4 1411.6v13M954.2 1411.6v6.6M995.4 1411.6v6.6M1024.7 1411.6v6.6M1047.4 1411.6v6.6M1066 1411.6v6.6M1081.7 1411.6v6.6M1095.3 1411.6v6.6M1107.3 1411.6v6.6M1188.6 1411.6v6.6M1229.8 1411.6v6.6M1259.1 1411.6v6.6M1281.8 1411.6v6.6M1300.4 1411.6v6.6M1316.1 1411.6v6.6M1329.7 1411.6v6.6M1341.7 1411.6v6.6M1423 1411.6v6.6M1464.2 1411.6v6.6M1493.5 1411.6v6.6M1516.2 1411.6v6.6M1534.8 1411.6v6.6M1550.5 1411.6v6.6M1564.1 1411.6v6.6M906.3 1406.8h13M1569.1 1406.8h-13M906.3 1270.6h13M1569.1 1270.6h-13M906.3 1134.4h13M1569.1 1134.4h-13M906.3 998.2h13M1569.1 998.2h-13M906.3 862h13M1569.1 862h-13M906.3 1365.8h6.6M1569.1 1365.8h-6.6M906.3 1341.8h6.6M1569.1 1341.8h-6.6M906.3 1324.8h6.6M1569.1 1324.8h-6.6M906.3 1311.6h6.6M1569.1 1311.6h-6.6M906.3 1300.8h6.6M1569.1 1300.8h-6.6M906.3 1291.7h6.6M1569.1 1291.7h-6.6M906.3 1283.8h6.6M1569.1 1283.8h-6.6M906.3 1276.8h6.6M1569.1 1276.8h-6.6M906.3 1229.6h6.6M1569.1 1229.6h-6.6M906.3 1205.6h6.6M1569.1 1205.6h-6.6M906.3 1188.6h6.6M1569.1 1188.6h-6.6M906.3 1175.4h6.6M1569.1 1175.4h-6.6M906.3 1164.6h6.6M1569.1 1164.6h-6.6M906.3 1155.5h6.6M1569.1 1155.5h-6.6M906.3 1147.6h6.6M1569.1 1147.6h-6.6M906.3 1140.6h6.6M1569.1 1140.6h-6.6M906.3 1093.4h6.6M1569.1 1093.4h-6.6M906.3 1069.4h6.6M1569.1 1069.4h-6.6M906.3 1052.4h6.6M1569.1 1052.4h-6.6M906.3 1039.2h6.6M1569.1 1039.2h-6.6M906.3 1028.4h6.6M1569.1 1028.4h-6.6M906.3 1019.3h6.6M1569.1 1019.3h-6.6M906.3 1011.4h6.6M1569.1 1011.4h-6.6M906.3 1004.4h6.6M1569.1 1004.4h-6.6M906.3 957.2h6.6M1569.1 957.2h-6.6M906.3 933.2h6.6M1569.1 933.2h-6.6M906.3 916.2h6.6M1569.1 916.2h-6.6M906.3 903h6.6M1569.1 903h-6.6M906.3 892.2h6.6M1569.1 892.2h-6.6M906.3 883.1h6.6M1569.1 883.1h-6.6M906.3 875.2h6.6M1569.1 875.2h-6.6M906.3 868.2h6.6M1569.1 868.2h-6.6M906.3 821h6.6M1569.1 821h-6.6M906.3 797h6.6M1569.1 797h-6.6M906.3 780h6.6M1569.1 780h-6.6" stroke="#000" stroke-width="1.4" fill="none"/>
<rect x="906.3" y="773.2" width="662.8" height="638.4" fill="none" stroke="#000" stroke-width="1.4"/>
<text x="1090.99 1109.65" y="1452.19" font-size="29.33">10</text><text x="1128.59" y="1440.96" font-size="20.53">1</text>
<text x="1325.39 1344.05" y="1452.17" font-size="29.33">10</text><text x="1362.99" y="1440.94" font-size="20.53">2</text>
<text x="831.17 849.84" y="1417.89" font-size="29.33">10</text><text x="868.78 885.98" y="1406.66" font-size="20.53">−2</text>
<text x="831.17 849.84" y="1281.71" font-size="29.33">10</text><text x="868.78 885.98" y="1270.48" font-size="20.53">−1</text>
<text x="848.48 867.14" y="1145.49" font-size="29.33">10</text><text x="886.08" y="1134.26" font-size="20.53">0</text>
<text x="848.48 867.14" y="1009.31" font-size="29.33">10</text><text x="886.08" y="998.08" font-size="20.53">1</text>
<text x="848.48 867.14" y="873.09" font-size="29.33">10</text><text x="886.08" y="861.86" font-size="20.53">2</text>
<path d="M172.5 2184.2v13M309.1 2184.2v13M445.8 2184.2v13M582.5 2184.2v13M719.1 2184.2v13M104.4 2164.8h13M104.4 2030.2h13M104.4 1895.6h13M104.4 1761h13M104.4 1626.4h13" stroke="#000" stroke-width="1.4" fill="none"/>
<rect x="104.4" y="1546.1" width="662.9" height="638.1" fill="none" stroke="#000" stroke-width="1.4"/>
<text x="172.5" y="2225.6" font-size="30" text-anchor="middle">1</text>
<text x="309.1" y="2225.6" font-size="30" text-anchor="middle">2</text>
<text x="445.8" y="2225.6" font-size="30" text-anchor="middle">3</text>
<text x="582.5" y="2225.6" font-size="30" text-anchor="middle">4</text>
<text x="719.1" y="2225.6" font-size="30" text-anchor="middle">5</text>
<text x="98.6" y="2176.7" font-size="30" text-anchor="end">0</text>
<text x="98.6" y="2042.1" font-size="30" text-anchor="end">1</text>
<text x="98.6" y="1907.5" font-size="30" text-anchor="end">2</text>
<text x="98.6" y="1772.9" font-size="30" text-anchor="end">3</text>
<text x="98.6" y="1638.3" font-size="30" text-anchor="end">4</text>
<path d="M1001.7 2184.1v13M1119.5 2184.1v13M1237.3 2184.1v13M1355.1 2184.1v13M1472.9 2184.1v13M906.3 2134.5h13M1569.1 2134.5h-13M906.3 2008.4h13M1569.1 2008.4h-13M906.3 1882.3h13M1569.1 1882.3h-13M906.3 1756.2h13M1569.1 1756.2h-13M906.3 1630.1h13M1569.1 1630.1h-13" stroke="#000" stroke-width="1.4" fill="none"/>
<rect x="906.3" y="1546.1" width="662.8" height="638" fill="none" stroke="#000" stroke-width="1.4"/>
<text x="1001.7" y="2225.5" font-size="30" text-anchor="middle">0.5</text>
<text x="1119.5" y="2225.5" font-size="30" text-anchor="middle">1.0</text>
<text x="1237.3" y="2225.5" font-size="30" text-anchor="middle">1.5</text>
<text x="1355.1" y="2225.5" font-size="30" text-anchor="middle">2.0</text>
<text x="1472.9" y="2225.5" font-size="30" text-anchor="middle">2.5</text>
<text x="901.3" y="2146.3" font-size="30" text-anchor="end">0</text>
<text x="901.3" y="2020.3" font-size="30" text-anchor="end">1</text>
<text x="901.3" y="1894.2" font-size="30" text-anchor="end">2</text>
<text x="901.3" y="1768.1" font-size="30" text-anchor="end">3</text>
<text x="901.3" y="1642" font-size="30" text-anchor="end">4</text>
<text x="352.19" y="723.55" font-size="38">T</text><text x="375.77" y="729.79" font-size="26.6" font-style="italic">P</text><text x="391.81 405.44 422.37 439.29" y="729.79" font-size="26.6">,100</text><text x="469.33 484.16 503.96" y="723.55" font-size="38">(s)</text>
<g transform="translate(29 320.3) rotate(-90)"><text x="-83.03" y="-0.05" font-size="38">T</text><text x="-59.45" y="6.19" font-size="26.6" font-style="italic">F</text><text x="-44.15 -30.52 -13.59 3.33" y="6.19" font-size="26.6">,100</text><text x="33.37 48.2 68" y="-0.05" font-size="38">(s)</text></g>
<text x="1165.1" y="722.46" font-size="35.6">T</text><text x="1187.18" y="728.3" font-size="24.92" font-style="italic">P</text><text x="1202.21" y="728.3" font-size="24.92">,</text><text x="1214.99 1229.73 1245" y="728.3" font-size="24.92" font-style="italic">var</text><text x="1267.54 1281.43 1299.98" y="722.46" font-size="35.6">(s)</text>
<g transform="translate(836.4 321.4) rotate(-90)"><text x="-74.88" y="-0.04" font-size="36">T</text><text x="-52.55" y="5.86" font-size="25.2" font-style="italic">F</text><text x="-38.05" y="5.86" font-size="25.2">,</text><text x="-25.13 -10.22 5.23" y="5.86" font-size="25.2" font-style="italic">var</text><text x="28.01 42.06 60.81" y="-0.04" font-size="36">(s)</text></g>
<text x="259.4 271.76 298.99" y="1498.99" font-size="44.5">log</text><text x="327.66 347.48" y="1506.29" font-size="31.15">10</text><text x="368.52 385.88" y="1498.99" font-size="44.5">(T</text><text x="413.49" y="1506.29" font-size="31.15" font-style="italic">F</text><text x="431.4 447.37 467.19 487.01" y="1506.29" font-size="31.15">,100</text><text x="522.19 539.55 562.74 580.1" y="1498.99" font-size="44.5">(s))</text>
<g transform="translate(61.4 1100.8) rotate(-90)"><text x="-163.54 -151.26 -124.22" y="-0.01" font-size="44.2">log</text><text x="-95.74 -76.05" y="7.24" font-size="30.94">10</text><text x="-55.16 -37.92" y="-0.01" font-size="44.2">(T</text><text x="-10.49" y="7.24" font-size="30.94" font-style="italic">F</text><text x="7.3" y="7.24" font-size="30.94">,</text><text x="23.17 41.48 60.44" y="7.24" font-size="30.94" font-style="italic">var</text><text x="88.42 105.66 128.69 145.93" y="-0.01" font-size="44.2">(s))</text></g>
<text x="1138.84" y="1498.94" font-size="44.4">T</text><text x="1166.39" y="1506.23" font-size="31.08" font-style="italic">P</text><text x="1185.13 1201.06 1220.84 1240.61" y="1506.23" font-size="31.08">,100</text><text x="1275.71 1293.04 1316.17" y="1498.94" font-size="44.4">(s)</text>
<g transform="translate(811.3 1092.6) rotate(-90)"><text x="-92.38" y="-0.06" font-size="44.2">T</text><text x="-64.96" y="7.2" font-size="30.94" font-style="italic">P</text><text x="-46.3" y="7.2" font-size="30.94">,</text><text x="-30.44 -12.13 6.83" y="7.2" font-size="30.94" font-style="italic">var</text><text x="34.81 52.06 75.09" y="-0.06" font-size="44.2">(s)</text></g>
<text x="259.98 272.32 299.48" y="2270.99" font-size="44.4">log</text><text x="328.09 347.86" y="2278.28" font-size="31.08">10</text><text x="368.85 386.17" y="2270.99" font-size="44.4">(T</text><text x="413.72" y="2278.28" font-size="31.08" font-style="italic">F</text><text x="431.6 447.53 467.31 487.08" y="2278.28" font-size="31.08">,100</text><text x="522.18 539.5 562.63 579.96" y="2270.99" font-size="44.4">(s))</text>
<g transform="translate(59.9 1872.5) rotate(-90)"><text x="-167.88 -156.41 -131.14" y="-0.01" font-size="41.3">log</text><text x="-104.53 -86.14" y="6.77" font-size="28.91">10</text><text x="-53.49 -37.37" y="-0.01" font-size="41.3">(T</text><text x="-11.75" y="6.77" font-size="28.91" font-style="italic">q</text><text x="15.78 58.43 97.83 113.94 135.46 151.57" y="-0.01" font-size="41.3">+1(s))</text></g>
<text x="1060.14 1072.47 1099.64" y="2270.99" font-size="44.4">log</text><text x="1128.24 1148.02" y="2278.28" font-size="31.08">10</text><text x="1169.01 1186.33" y="2270.99" font-size="44.4">(T</text><text x="1213.88" y="2278.28" font-size="31.08" font-style="italic">P</text><text x="1232.62 1248.55 1268.33 1288.1" y="2278.28" font-size="31.08">,100</text><text x="1323.2 1340.52 1363.66 1380.98" y="2270.99" font-size="44.4">(s))</text>
<g transform="translate(862 1872.9) rotate(-90)"><text x="-166.66 -155.27 -130.19" y="-0.01" font-size="41">log</text><text x="-103.77 -85.51" y="6.72" font-size="28.7">10</text><text x="-53.1 -37.1" y="-0.01" font-size="41">(T</text><text x="-11.67" y="6.72" font-size="28.7" font-style="italic">q</text><text x="15.66 58 97.12 113.12 134.48 150.47" y="-0.01" font-size="41">+1(s))</text></g>
<text x="117.2" y="47.1" font-size="37.3">(a)</text>
<text x="936.2" y="49.7" font-size="37.3">(b)</text>
<text x="124" y="818.3" font-size="37.3">(c)</text>
<text x="926" y="822.5" font-size="37.3">(d)</text>
<text x="131" y="1592.3" font-size="37.3">(e)</text>
<text x="918" y="1592.3" font-size="37.3">(f)</text>
<rect x="1395.2" y="8.8" width="166" height="120" rx="5" fill="#fff" fill-opacity="0.8" stroke="#d0d0d0" stroke-width="1.5"/>
<circle cx="1418" cy="33" r="3.4" fill="#4a4a4a"/>
<rect x="1414.3" y="67.8" width="7.4" height="7.4" fill="#47338f"/>
<path d="M1418 106l4 8h-8z" fill="#cf7a45"/>
<text x="1447.9" y="39.2" font-size="31.1">Flare 1</text>
<text x="1447.9" y="77.7" font-size="31.1">Flare 2</text>
<text x="1447.9" y="116.2" font-size="31.1">Flare 3</text>
</svg></body></html>
